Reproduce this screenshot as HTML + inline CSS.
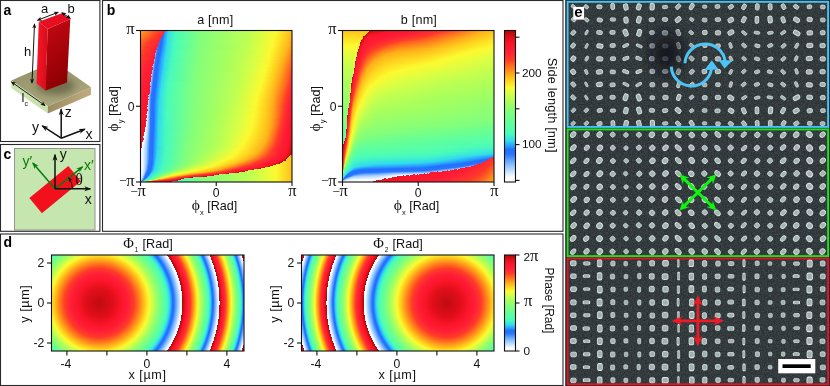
<!DOCTYPE html>
<html><head><meta charset="utf-8"><title>Figure</title>
<style>html,body{margin:0;padding:0;background:#fff;}body{position:relative;width:830px;height:386px;overflow:hidden}svg{position:absolute;left:0;top:0;display:block}.hm{position:absolute}.hm i{display:block;height:1px}</style></head>
<body>
<div class="hm" style="left:140px;top:30px;width:152px;height:152px"><i style="background:linear-gradient(90deg,#ffa91a 0.5px,#ff3f27 19.5px,#ff302e 24.5px,#279dff 25.5px,#32ddea 28.5px,#45f8c1 34.5px,#55ffaa 41.5px,#83ff7b 62.5px,#c1ff50 111.5px,#fbfa31 135.5px,#ffbf1c 151.5px)"></i><i style="background:linear-gradient(90deg,#ffa71a 0.5px,#ff3e28 19.5px,#ff302e 24.5px,#28a0ff 25.5px,#33ddea 28.5px,#45f9c0 34.5px,#55ffaa 41.5px,#83ff7b 62.5px,#c0ff50 110.5px,#fbfa30 135.5px,#ffbd1c 151.5px)"></i><i style="background:linear-gradient(90deg,#ff9d19 0.5px,#ff3f27 17.5px,#ff2e2f 23.5px,#268bff 24.5px,#28a3ff 25.5px,#33dde9 28.5px,#45f9c0 34.5px,#55ffaa 41.5px,#83ff7a 62.5px,#c0ff50 110.5px,#fcfa30 135.5px,#ffbc1c 151.5px)"></i><i style="background:linear-gradient(90deg,#ff9c1a 0.5px,#ff3e28 17.5px,#ff2d2f 23.5px,#268eff 24.5px,#30d0f0 27.5px,#33dee8 28.5px,#46f9bf 34.5px,#55ffaa 41.5px,#82ff7b 61.5px,#c0ff50 110.5px,#fafa31 134.5px,#ffba1b 151.5px)"></i><i style="background:linear-gradient(90deg,#ff931a 0.5px,#ff3b28 16.5px,#ff2c30 22.5px,#247aff 23.5px,#29a9fe 25.5px,#30d2ef 27.5px,#34dee8 28.5px,#46fabe 34.5px,#55ffa9 41.5px,#83ff7b 61.5px,#c1ff50 110.5px,#fbfa31 134.5px,#ffb81b 151.5px)"></i><i style="background:linear-gradient(90deg,#ff8e1b 0.5px,#ff3c28 15.5px,#ff2a31 22.5px,#247dff 23.5px,#29abfd 25.5px,#31d4ee 27.5px,#34dfe7 28.5px,#46fabe 34.5px,#56ffa9 41.5px,#83ff7b 61.5px,#bfff50 109.5px,#fbfa30 134.5px,#ffb61b 151.5px)"></i><i style="background:linear-gradient(90deg,#ff8a1b 0.5px,#ff3d28 14.5px,#ff2b31 21.5px,#236eff 22.5px,#2798ff 24.5px,#31d6ed 27.5px,#34dfe6 28.5px,#46fabe 34.5px,#56ffa9 41.5px,#83ff7b 61.5px,#c0ff50 109.5px,#fcfa30 134.5px,#ffb51b 151.5px)"></i><i style="background:linear-gradient(90deg,#ff831c 0.5px,#ff3c28 13.5px,#ff2832 21.5px,#236eff 22.5px,#279bff 24.5px,#31d8ec 27.5px,#34e0e6 28.5px,#46fabd 34.5px,#56ffa9 41.5px,#83ff7a 61.5px,#c0ff50 109.5px,#fafa31 133.5px,#ffd31e 144.5px,#ffb31b 151.5px)"></i><i style="background:linear-gradient(90deg,#ff7d1d 0.5px,#ff3b28 12.5px,#ff2732 20.5px,#2570ff 21.5px,#2370ff 22.5px,#279eff 24.5px,#32daec 27.5px,#35e0e5 28.5px,#47fabd 34.5px,#56ffa8 41.5px,#82ff7b 60.5px,#c0ff50 109.5px,#fbfa31 133.5px,#ffd21e 144.5px,#ffb11b 151.5px)"></i><i style="background:linear-gradient(90deg,#ff771d 0.5px,#ff3b28 11.5px,#ff2732 19.5px,#2671ff 20.5px,#2373ff 22.5px,#28a1ff 24.5px,#32dceb 27.5px,#47fabd 34.5px,#56ffa8 41.5px,#83ff7b 60.5px,#c1ff50 109.5px,#fbfa30 133.5px,#ffd41f 143.5px,#ffae1a 151.5px)"></i><i style="background:linear-gradient(90deg,#ff721e 0.5px,#ff3b28 10.5px,#ff2534 19.5px,#2671ff 20.5px,#2477ff 22.5px,#28a4ff 24.5px,#32dcea 27.5px,#47fabc 34.5px,#57ffa8 41.5px,#83ff7b 60.5px,#c0ff50 108.5px,#fcfa30 133.5px,#ffd31e 143.5px,#ffab1a 151.5px)"></i><i style="background:linear-gradient(90deg,#ff711e 0.5px,#ff3b28 10.5px,#ff2534 19.5px,#2671ff 20.5px,#246fff 21.5px,#247aff 22.5px,#2691ff 23.5px,#33ddea 27.5px,#45f8c1 33.5px,#55ffaa 40.5px,#83ff7b 60.5px,#c0ff50 108.5px,#fafa31 132.5px,#ffd21e 143.5px,#ffa81a 151.5px)"></i><i style="background:linear-gradient(90deg,#ff6b1f 0.5px,#ff3b29 9.5px,#ff2534 18.5px,#2772ff 19.5px,#246fff 21.5px,#2694ff 23.5px,#33dde9 27.5px,#45f9c0 33.5px,#55ffaa 40.5px,#83ff7b 60.5px,#c0ff50 108.5px,#fbfa31 132.5px,#ffd01e 143.5px,#ffa419 151.5px)"></i><i style="background:linear-gradient(90deg,#ff6520 0.5px,#ff3e28 7.5px,#ff2434 17.5px,#327cff 18.5px,#2772ff 19.5px,#236eff 21.5px,#2798ff 23.5px,#33dee8 27.5px,#45f9bf 33.5px,#55ffa9 40.5px,#82ff7c 59.5px,#c1ff50 108.5px,#fbfa30 132.5px,#ffce1e 143.5px,#ffb21b 149.5px,#ffa119 151.5px)"></i><i style="background:linear-gradient(90deg,#ff6520 0.5px,#ff3b29 8.5px,#ff2235 18.5px,#2772ff 19.5px,#236eff 21.5px,#279bff 23.5px,#30d3ee 26.5px,#34dee7 27.5px,#46fabf 33.5px,#56ffa9 40.5px,#82ff7b 59.5px,#bfff50 107.5px,#fcfa30 132.5px,#ffb51b 148.5px,#ff9e19 151.5px)"></i><i style="background:linear-gradient(90deg,#ff5d21 0.5px,#ff3c28 6.5px,#ff2136 17.5px,#2b76ff 18.5px,#2372ff 21.5px,#279eff 23.5px,#31d5ed 26.5px,#34dfe7 27.5px,#46fabe 33.5px,#83ff7b 59.5px,#aaff5a 93.5px,#d5ff47 117.5px,#fcf92f 132.5px,#ffb31b 148.5px,#ff9a1a 151.5px)"></i><i style="background:linear-gradient(90deg,#ff5a22 0.5px,#ff3b29 6.5px,#ff2036 17.5px,#2974ff 18.5px,#246fff 20.5px,#2476ff 21.5px,#28a1ff 23.5px,#31d7ed 26.5px,#46fabe 33.5px,#83ff7b 59.5px,#aaff5a 93.5px,#d6ff47 117.5px,#fcf82f 132.5px,#ffd31e 141.5px,#ffb11b 148.5px,#ff971a 151.5px)"></i><i style="background:linear-gradient(90deg,#ff5623 0.5px,#ff3b28 5.5px,#ff2036 16.5px,#428bff 17.5px,#2873ff 18.5px,#246fff 20.5px,#247aff 21.5px,#28a5ff 23.5px,#32d9ec 26.5px,#47fabd 33.5px,#83ff7b 59.5px,#abff5a 93.5px,#d6ff46 117.5px,#fcfa30 131.5px,#ffb41b 147.5px,#ff931a 151.5px)"></i><i style="background:linear-gradient(90deg,#ff5423 0.5px,#ff3b29 5.5px,#ff1f36 16.5px,#3a83ff 17.5px,#2772ff 18.5px,#246fff 20.5px,#2693ff 22.5px,#32dbeb 26.5px,#47fabd 33.5px,#83ff7b 59.5px,#aaff5a 92.5px,#d7ff46 117.5px,#fcfa30 131.5px,#ffb21b 147.5px,#ff901b 151.5px)"></i><i style="background:linear-gradient(90deg,#ff5024 0.5px,#ff3b28 4.5px,#ff1e37 16.5px,#327cff 17.5px,#2772ff 18.5px,#236eff 20.5px,#2797ff 22.5px,#32dcea 26.5px,#47fabc 33.5px,#82ff7c 58.5px,#aaff5a 92.5px,#d7ff46 117.5px,#fcf82f 131.5px,#ffd31f 140.5px,#ffb11b 147.5px,#ff8d1b 151.5px)"></i><i style="background:linear-gradient(90deg,#ff4d25 0.5px,#ff3d28 3.5px,#ff1f37 15.5px,#5ca1ff 16.5px,#2d77ff 17.5px,#236fff 20.5px,#29adfc 23.5px,#33ddea 26.5px,#45f8c1 32.5px,#55ffaa 39.5px,#82ff7b 58.5px,#c0ff50 106.5px,#fbfa31 130.5px,#ffd21e 140.5px,#ffb41b 146.5px,#ff891b 151.5px)"></i><i style="background:linear-gradient(90deg,#ff4826 0.5px,#ff3a29 3.5px,#ff1d36 15.5px,#549aff 16.5px,#2a75ff 17.5px,#2373ff 20.5px,#279dff 22.5px,#33dde9 26.5px,#45f9c0 32.5px,#55ffa9 39.5px,#83ff7b 58.5px,#c0ff50 106.5px,#fcfa30 130.5px,#ffb21b 146.5px,#ff861c 151.5px)"></i><i style="background:linear-gradient(90deg,#ff4526 0.5px,#ff1d36 15.5px,#4b93ff 16.5px,#2873ff 17.5px,#246fff 19.5px,#2477ff 20.5px,#28a1ff 22.5px,#33dee8 26.5px,#46f9bf 32.5px,#56ffa9 39.5px,#83ff7b 58.5px,#c1ff50 106.5px,#fafa31 129.5px,#ffd31f 139.5px,#ffb01a 146.5px,#ff831c 151.5px)"></i><i style="background:linear-gradient(90deg,#ff4327 0.5px,#ff1d36 14.5px,#7bb6ff 15.5px,#418aff 16.5px,#2873ff 17.5px,#246fff 19.5px,#28a4ff 22.5px,#31d5ee 25.5px,#34dfe7 26.5px,#46fabe 32.5px,#56ffa9 39.5px,#83ff7b 58.5px,#c0ff50 105.5px,#fbfa31 129.5px,#ffd21e 139.5px,#ffb31b 145.5px,#ff801c 151.5px)"></i><i style="background:linear-gradient(90deg,#ff4027 0.5px,#ff1d36 14.5px,#73b0ff 15.5px,#3680ff 16.5px,#2772ff 17.5px,#236eff 19.5px,#28a7fe 22.5px,#31d7ed 25.5px,#34dfe6 26.5px,#46fabe 32.5px,#56ffa8 39.5px,#83ff7b 58.5px,#c0ff50 105.5px,#fcfa30 129.5px,#ffb21b 145.5px,#ff7c1d 151.5px)"></i><i style="background:linear-gradient(90deg,#ff3d28 0.5px,#fe1c35 14.5px,#69aaff 15.5px,#2d78ff 16.5px,#236eff 19.5px,#29aafd 22.5px,#32daec 25.5px,#47fabd 32.5px,#57ffa8 39.5px,#83ff7b 58.5px,#c0ff50 105.5px,#fcfa30 129.5px,#ffd31f 138.5px,#ffaf1a 145.5px,#ff791d 151.5px)"></i><i style="background:linear-gradient(90deg,#ff3b28 0.5px,#fe1c34 14.5px,#5da2ff 15.5px,#2a75ff 16.5px,#2373ff 19.5px,#29adfc 22.5px,#32dceb 25.5px,#47fabc 32.5px,#55ffaa 38.5px,#82ff7c 57.5px,#c1ff50 105.5px,#fafa31 128.5px,#ffd21e 138.5px,#ffb31b 144.5px,#ff761d 151.5px)"></i><i style="background:linear-gradient(90deg,#ff3e28 0.5px,#fe1d35 14.5px,#5299ff 15.5px,#2873ff 16.5px,#246fff 18.5px,#2478ff 19.5px,#28a0ff 21.5px,#32ddea 25.5px,#48fbbc 32.5px,#82ff7b 57.5px,#abff5a 91.5px,#d5ff47 114.5px,#fcf72f 129.5px,#ffb11b 144.5px,#ff731e 151.5px)"></i><i style="background:linear-gradient(90deg,#ff3c28 0.5px,#fe1c34 14.5px,#468eff 15.5px,#2873ff 16.5px,#246fff 18.5px,#28a3ff 21.5px,#33dde9 25.5px,#45f9bf 31.5px,#56ffa9 38.5px,#83ff7b 57.5px,#c0ff50 104.5px,#fcfa30 128.5px,#ffd31f 137.5px,#ffaf1a 144.5px,#ff701e 151.5px)"></i><i style="background:linear-gradient(90deg,#ff382a 0.5px,#fe1c34 13.5px,#87beff 14.5px,#3a83ff 15.5px,#2772ff 16.5px,#236eff 18.5px,#28a5ff 21.5px,#33dee8 25.5px,#46fabe 31.5px,#83ff7b 57.5px,#aaff5a 90.5px,#d6ff46 114.5px,#fcf92f 128.5px,#ffd21e 137.5px,#ffb31b 143.5px,#ff6d1e 151.5px)"></i><i style="background:linear-gradient(90deg,#ff372b 0.5px,#ff1e37 10.5px,#fe1b33 13.5px,#7bb6ff 14.5px,#2f79ff 15.5px,#236eff 18.5px,#28a8fe 21.5px,#31d5ee 24.5px,#46fabd 31.5px,#83ff7b 57.5px,#aaff5a 90.5px,#d7ff46 114.5px,#fcf82f 128.5px,#ffb11b 143.5px,#ff6a1f 151.5px)"></i><i style="background:linear-gradient(90deg,#ff362b 0.5px,#ff1e37 10.5px,#fe1b33 13.5px,#6eaeff 14.5px,#2c77ff 15.5px,#2370ff 18.5px,#29aafd 21.5px,#31d7ed 24.5px,#47fabd 31.5px,#83ff7b 57.5px,#abff5a 90.5px,#d5ff47 113.5px,#fcf62e 128.5px,#ffaf1a 143.5px,#ff671f 151.5px)"></i><i style="background:linear-gradient(90deg,#ff372b 0.5px,#ff1e37 10.5px,#fe1b33 13.5px,#62a5ff 14.5px,#2a75ff 15.5px,#2373ff 18.5px,#29acfd 21.5px,#31d9ec 24.5px,#47fabc 31.5px,#83ff7b 57.5px,#abff5a 90.5px,#d6ff47 113.5px,#fcf930 127.5px,#ffd21e 136.5px,#ffb31b 142.5px,#ff6420 151.5px)"></i><i style="background:linear-gradient(90deg,#ff352b 0.5px,#ff1e37 10.5px,#fe1b33 13.5px,#579dff 14.5px,#2974ff 15.5px,#246fff 17.5px,#2476ff 18.5px,#2aaefc 21.5px,#32dbeb 24.5px,#48fbbc 31.5px,#82ff7c 56.5px,#aaff5a 89.5px,#d6ff46 113.5px,#fcf82f 127.5px,#ffb11b 142.5px,#ff6121 151.5px)"></i><i style="background:linear-gradient(90deg,#ff322d 0.5px,#ff1f37 8.5px,#fd1b32 12.5px,#93c6ff 13.5px,#4d94ff 14.5px,#2873ff 15.5px,#246fff 17.5px,#2479ff 18.5px,#28a0ff 20.5px,#32dceb 24.5px,#48fbbb 31.5px,#82ff7c 56.5px,#aaff5a 89.5px,#d7ff46 113.5px,#fcf72f 127.5px,#ffaf1a 142.5px,#ff5e21 151.5px)"></i><i style="background:linear-gradient(90deg,#ff322d 0.5px,#ff1f36 8.5px,#fe1b33 12.5px,#86bdff 13.5px,#448cff 14.5px,#2873ff 15.5px,#246fff 17.5px,#28a2ff 20.5px,#33ddea 24.5px,#46fabe 30.5px,#82ff7b 56.5px,#aaff5a 89.5px,#d8ff46 113.5px,#fcfa30 126.5px,#ffd31e 135.5px,#ffb31b 141.5px,#ff5c22 151.5px)"></i><i style="background:linear-gradient(90deg,#ff2f2f 0.5px,#ff1f36 7.5px,#fe1b33 11.5px,#afd6ff 12.5px,#7bb6ff 13.5px,#3c85ff 14.5px,#2772ff 15.5px,#246fff 17.5px,#28a4ff 20.5px,#33dde9 24.5px,#46fabd 30.5px,#83ff7b 56.5px,#abff5a 89.5px,#d6ff46 112.5px,#fcf930 126.5px,#ffd11e 135.5px,#ffb11b 141.5px,#ff5922 151.5px)"></i><i style="background:linear-gradient(90deg,#ff2f2f 0.5px,#ff1e37 8.5px,#fd1b32 12.5px,#71afff 13.5px,#357eff 14.5px,#2772ff 15.5px,#236eff 17.5px,#28a6ff 20.5px,#30d3ee 23.5px,#33dee8 24.5px,#47fabd 30.5px,#83ff7b 56.5px,#abff5a 89.5px,#d6ff46 112.5px,#fcf82f 126.5px,#ffaf1a 141.5px,#ff5623 151.5px)"></i><i style="background:linear-gradient(90deg,#ff2e2f 0.5px,#ff1f37 7.5px,#fd1a32 12.5px,#68a9ff 13.5px,#2e79ff 14.5px,#236eff 17.5px,#29a8fe 20.5px,#31d5ed 23.5px,#47fabc 30.5px,#83ff7b 56.5px,#aaff5a 88.5px,#d7ff46 112.5px,#fbfa30 125.5px,#ffd31e 134.5px,#ffad1a 141.5px,#ff5124 151.5px)"></i><i style="background:linear-gradient(90deg,#ff2d2f 0.5px,#ff1f37 7.5px,#fd1a32 12.5px,#60a4ff 13.5px,#2d77ff 14.5px,#236fff 17.5px,#29aafd 20.5px,#31d8ed 23.5px,#48fbbc 30.5px,#83ff7b 56.5px,#aaff5a 88.5px,#d8ff46 112.5px,#fcfa30 125.5px,#ffd21e 134.5px,#ffaa1a 141.5px,#ff4d25 151.5px)"></i><i style="background:linear-gradient(90deg,#ff2a31 0.5px,#ff1e37 6.5px,#fd1a31 11.5px,#93c6ff 12.5px,#589eff 13.5px,#2b76ff 14.5px,#2372ff 17.5px,#29acfd 20.5px,#32daec 23.5px,#48fbbb 30.5px,#83ff7b 56.5px,#aaff5a 88.5px,#d8ff45 112.5px,#fcf92f 125.5px,#ffd51f 133.5px,#ffb01a 140.5px,#ff5922 150.5px,#ff4925 151.5px)"></i><i style="background:linear-gradient(90deg,#ff2a31 0.5px,#ff1e37 6.5px,#fd1b32 11.5px,#8bc1ff 12.5px,#5298ff 13.5px,#2974ff 14.5px,#2474ff 17.5px,#2aaefc 20.5px,#32dceb 23.5px,#46fabf 29.5px,#83ff7b 56.5px,#abff5a 88.5px,#d9ff45 112.5px,#fbfa31 124.5px,#ffd41f 133.5px,#ffae1a 140.5px,#ff6021 149.5px,#ff4626 151.5px)"></i><i style="background:linear-gradient(90deg,#ff2932 0.5px,#ff1e37 6.5px,#fd1a32 11.5px,#83bcff 12.5px,#4b93ff 13.5px,#2873ff 14.5px,#246fff 16.5px,#2477ff 17.5px,#279fff 19.5px,#33ddea 23.5px,#46fabe 29.5px,#82ff7c 55.5px,#c0ff50 101.5px,#fcfa30 124.5px,#ffd21e 133.5px,#ffb21b 139.5px,#ff5e21 149.5px,#ff4227 151.5px)"></i><i style="background:linear-gradient(90deg,#ff2832 0.5px,#fd1a31 11.5px,#7cb7ff 12.5px,#458dff 13.5px,#2873ff 14.5px,#246fff 16.5px,#2479ff 17.5px,#28a2ff 19.5px,#33dee8 23.5px,#47fabd 29.5px,#82ff7c 55.5px,#c1ff50 101.5px,#f9fa32 123.5px,#ffd11e 133.5px,#ffb11b 139.5px,#ff5c22 149.5px,#ff3e28 151.5px)"></i><i style="background:linear-gradient(90deg,#ff2533 0.5px,#fd1a31 10.5px,#a9d2ff 11.5px,#4088ff 13.5px,#2873ff 14.5px,#246fff 16.5px,#28a4ff 19.5px,#31d4ee 22.5px,#47fabc 29.5px,#82ff7c 55.5px,#c0ff50 100.5px,#fafa31 123.5px,#ffd41f 132.5px,#ffae1a 139.5px,#ff5922 149.5px,#ff3b28 151.5px)"></i><i style="background:linear-gradient(90deg,#ff2533 0.5px,#fd1a31 10.5px,#a4d0ff 11.5px,#3a83ff 13.5px,#2772ff 14.5px,#246fff 16.5px,#28a6ff 19.5px,#31d7ed 22.5px,#48fbbc 29.5px,#82ff7b 55.5px,#c0ff50 100.5px,#fbfa31 123.5px,#ffd31f 132.5px,#ffac1a 139.5px,#ff5723 149.5px,#ff3a29 151.5px)"></i><i style="background:linear-gradient(90deg,#ff2633 0.5px,#fd1a30 11.5px,#68a9ff 12.5px,#357eff 13.5px,#2772ff 14.5px,#236eff 16.5px,#29a8fe 19.5px,#32daec 22.5px,#48fbbb 29.5px,#83ff7b 55.5px,#c0ff50 100.5px,#fcfa30 123.5px,#ffd21e 132.5px,#ffb11b 138.5px,#ff5e21 148.5px,#ff382a 151.5px)"></i><i style="background:linear-gradient(90deg,#ff2434 0.5px,#fd1a30 10.5px,#97c9ff 11.5px,#2f7aff 13.5px,#236eff 16.5px,#29aafd 19.5px,#32dceb 22.5px,#46fabf 28.5px,#83ff7b 55.5px,#c1ff50 100.5px,#fafa31 122.5px,#ffd01e 132.5px,#ffb01a 138.5px,#ff5c22 148.5px,#ff372b 151.5px)"></i><i style="background:linear-gradient(90deg,#ff2434 0.5px,#fd1a31 10.5px,#91c4ff 11.5px,#2d78ff 13.5px,#236eff 16.5px,#29acfc 19.5px,#33ddea 22.5px,#46fabe 28.5px,#83ff7b 55.5px,#bfff50 99.5px,#fafa31 122.5px,#ffd41f 131.5px,#ffad1a 138.5px,#ff5a22 148.5px,#ff362b 151.5px)"></i><i style="background:linear-gradient(90deg,#ff2335 0.5px,#fd1930 10.5px,#8ac0ff 11.5px,#569cff 12.5px,#2c76ff 13.5px,#2371ff 16.5px,#2aaffb 19.5px,#33dee8 22.5px,#47fabd 28.5px,#83ff7b 55.5px,#c0ff50 99.5px,#fbfa31 122.5px,#ffd31e 131.5px,#ffb21b 137.5px,#ff5822 148.5px,#ff3b29 150.5px,#ff342c 151.5px)"></i><i style="background:linear-gradient(90deg,#ff2335 0.5px,#fd1930 10.5px,#84bcff 11.5px,#5097ff 12.5px,#2a75ff 13.5px,#2474ff 16.5px,#279fff 18.5px,#30d3ee 21.5px,#34dee7 22.5px,#47fabc 28.5px,#83ff7b 55.5px,#c0ff50 99.5px,#fcfa30 122.5px,#ffd11e 131.5px,#ffb11b 137.5px,#ff5f21 147.5px,#ff332d 151.5px)"></i><i style="background:linear-gradient(90deg,#ff2135 0.5px,#fc192f 10.5px,#7eb8ff 11.5px,#4a92ff 12.5px,#2873ff 13.5px,#246fff 15.5px,#2476ff 16.5px,#28a1ff 18.5px,#31d6ed 21.5px,#48fbbc 28.5px,#83ff7b 55.5px,#c1ff50 99.5px,#fafa31 121.5px,#ffd01e 131.5px,#ffaf1a 137.5px,#ff5d21 147.5px,#ff312d 151.5px)"></i><i style="background:linear-gradient(90deg,#ff2036 0.5px,#fc192f 9.5px,#a9d2ff 10.5px,#448cff 12.5px,#2873ff 13.5px,#246fff 15.5px,#2479ff 16.5px,#28a4ff 18.5px,#31d9ec 21.5px,#35e0e5 22.5px,#45f9c0 27.5px,#55ffaa 34.5px,#83ff7b 55.5px,#bfff50 98.5px,#fbfa31 121.5px,#ffd31f 130.5px,#ffad1a 137.5px,#ff6c1e 145.5px,#ff5a22 147.5px,#ff3f27 149.5px,#ff302e 151.5px)"></i><i style="background:linear-gradient(90deg,#ff1f36 0.5px,#fc192f 9.5px,#a4d0ff 10.5px,#3e87ff 12.5px,#2873ff 13.5px,#246fff 15.5px,#247cff 16.5px,#28a6fe 18.5px,#32dbeb 21.5px,#46fabf 27.5px,#55ffaa 34.5px,#83ff7b 55.5px,#c0ff50 98.5px,#fbfa30 121.5px,#ffd21e 130.5px,#ffb21b 136.5px,#ff6a1f 145.5px,#ff5822 147.5px,#ff3c28 149.5px,#ff2e2f 151.5px)"></i><i style="background:linear-gradient(90deg,#ff1f37 0.5px,#fc192f 9.5px,#9eccff 10.5px,#3881ff 12.5px,#2772ff 13.5px,#246fff 15.5px,#29a9fe 18.5px,#32dcea 21.5px,#46fabe 27.5px,#56ffa9 34.5px,#83ff7a 55.5px,#c0ff50 98.5px,#fcfa30 121.5px,#ffd11e 130.5px,#ffb01a 136.5px,#ff701e 144.5px,#ff3a29 149.5px,#ff2d30 151.5px)"></i><i style="background:linear-gradient(90deg,#ff1e37 0.5px,#fc192f 9.5px,#97c9ff 10.5px,#317cff 12.5px,#2772ff 13.5px,#236eff 15.5px,#29abfd 18.5px,#33dde9 21.5px,#47fabd 27.5px,#56ffa9 34.5px,#83ff7a 55.5px,#c1ff50 98.5px,#fafa31 120.5px,#ffd41f 129.5px,#ffae1a 136.5px,#ff6e1e 144.5px,#ff382a 149.5px,#ff2b30 151.5px)"></i><i style="background:linear-gradient(90deg,#ff1f36 0.5px,#fc182e 10.5px,#5ca1ff 11.5px,#2d78ff 12.5px,#236eff 15.5px,#2aadfc 18.5px,#33dee8 21.5px,#47fabd 27.5px,#56ffa9 34.5px,#82ff7c 54.5px,#bfff50 97.5px,#fbfa30 120.5px,#ffd31e 129.5px,#ffac1a 136.5px,#ff6b1f 144.5px,#ff3e28 148.5px,#ff2a31 151.5px)"></i><i style="background:linear-gradient(90deg,#ff1e37 0.5px,#fc182f 9.5px,#8ac0ff 10.5px,#2c76ff 12.5px,#2772ff 13.5px,#2371ff 15.5px,#2ab0fb 18.5px,#34dfe7 21.5px,#47fabc 27.5px,#56ffa8 34.5px,#82ff7c 54.5px,#c0ff50 97.5px,#fcfa30 120.5px,#ffd11e 129.5px,#ffb11b 135.5px,#ff691f 144.5px,#ff3b28 148.5px,#ff2932 151.5px)"></i><i style="background:linear-gradient(90deg,#ff1e37 0.5px,#fc182f 9.5px,#83bbff 10.5px,#5097ff 11.5px,#2a75ff 12.5px,#2570ff 14.5px,#2474ff 15.5px,#2ab2fa 18.5px,#31d6ed 20.5px,#34dfe6 21.5px,#48fbbc 27.5px,#57ffa8 34.5px,#82ff7b 54.5px,#c0ff50 97.5px,#fafa31 119.5px,#ffd51f 128.5px,#ffb01a 135.5px,#ff6f1e 143.5px,#ff3a29 148.5px,#ff2732 151.5px)"></i><i style="background:linear-gradient(90deg,#ff1e36 0.5px,#fc182e 9.5px,#7db7ff 10.5px,#4a91ff 11.5px,#2873ff 12.5px,#246fff 14.5px,#2476ff 15.5px,#28a2ff 17.5px,#31d8ec 20.5px,#35e0e5 21.5px,#45f9c0 26.5px,#55ffaa 33.5px,#82ff7b 54.5px,#c1ff50 97.5px,#fbfa30 119.5px,#ffd31f 128.5px,#ffae1a 135.5px,#ff6c1e 143.5px,#ff4127 147.5px,#ff2633 151.5px)"></i><i style="background:linear-gradient(90deg,#ff1d36 0.5px,#fc182e 9.5px,#76b3ff 10.5px,#448cff 11.5px,#2873ff 12.5px,#246fff 14.5px,#2479ff 15.5px,#28a4ff 17.5px,#32daec 20.5px,#46f9bf 26.5px,#55ffaa 33.5px,#83ff7b 54.5px,#bfff50 96.5px,#fcf930 119.5px,#ffd21e 128.5px,#ffb21b 134.5px,#ff5723 145.5px,#ff3d28 147.5px,#ff2534 151.5px)"></i><i style="background:linear-gradient(90deg,#ff1d36 0.5px,#fc182e 9.5px,#70afff 10.5px,#3e87ff 11.5px,#2873ff 12.5px,#246fff 14.5px,#247cff 15.5px,#28a7fe 17.5px,#32dceb 20.5px,#46fabe 26.5px,#55ffaa 33.5px,#83ff7b 54.5px,#c0ff50 96.5px,#fbfa31 118.5px,#ffd01e 128.5px,#ffb11b 134.5px,#ff5e21 144.5px,#ff3b29 147.5px,#ff2334 151.5px)"></i><i style="background:linear-gradient(90deg,#ff1d36 0.5px,#fc182e 9.5px,#6aabff 10.5px,#3982ff 11.5px,#2772ff 12.5px,#246fff 14.5px,#29a9fe 17.5px,#32dcea 20.5px,#46fabe 26.5px,#55ffa9 33.5px,#83ff7b 54.5px,#c0ff50 96.5px,#fcfa30 118.5px,#ffd41f 127.5px,#ffaf1a 134.5px,#ff5b22 144.5px,#ff3929 147.5px,#ff2235 151.5px)"></i><i style="background:linear-gradient(90deg,#fe1d35 0.5px,#fc172d 9.5px,#64a7ff 10.5px,#337dff 11.5px,#2772ff 12.5px,#236eff 14.5px,#29abfd 17.5px,#33ddea 20.5px,#46fabd 26.5px,#56ffa9 33.5px,#83ff7b 54.5px,#bfff51 95.5px,#fcf92f 118.5px,#ffd21e 127.5px,#ffad1a 134.5px,#ff5822 144.5px,#ff3f27 146.5px,#ff2135 151.5px)"></i><i style="background:linear-gradient(90deg,#fe1d35 0.5px,#fc182e 8.5px,#94c6ff 9.5px,#2e78ff 11.5px,#2772ff 12.5px,#236eff 14.5px,#29adfc 17.5px,#33dde9 20.5px,#47fabd 26.5px,#56ffa9 33.5px,#83ff7b 54.5px,#c0ff50 95.5px,#fbfa31 117.5px,#ffd11e 127.5px,#ffb21b 133.5px,#ff5f21 143.5px,#ff3c28 146.5px,#ff2036 151.5px)"></i><i style="background:linear-gradient(90deg,#fe1c34 0.5px,#fc182e 7.5px,#c6e2ff 8.5px,#599fff 10.5px,#2c77ff 11.5px,#2772ff 12.5px,#2370ff 14.5px,#2aaefc 17.5px,#33dee8 20.5px,#47fabd 26.5px,#56ffa9 33.5px,#83ff7b 54.5px,#c0ff50 95.5px,#fcfa30 117.5px,#ffb11b 133.5px,#ff6520 142.5px,#ff3a29 146.5px,#ff1f37 151.5px)"></i><i style="background:linear-gradient(90deg,#fe1c34 0.5px,#fc172d 8.5px,#8ac0ff 9.5px,#549aff 10.5px,#2b75ff 11.5px,#2772ff 12.5px,#2373ff 14.5px,#279eff 16.5px,#34dee8 20.5px,#47fabd 26.5px,#56ffa9 33.5px,#83ff7b 54.5px,#c1ff50 95.5px,#fcf92f 117.5px,#ffd31f 126.5px,#ffb01a 133.5px,#ff6c1e 141.5px,#ff392a 146.5px,#ff1e37 151.5px)"></i><i style="background:linear-gradient(90deg,#fe1b33 0.5px,#fc172d 7.5px,#bedeff 8.5px,#4f96ff 10.5px,#2974ff 11.5px,#246fff 13.5px,#2475ff 14.5px,#28a0ff 16.5px,#31d4ee 19.5px,#34dfe7 20.5px,#47fabc 26.5px,#56ffa9 33.5px,#83ff7b 54.5px,#bfff51 94.5px,#fbfa31 116.5px,#ffd21e 126.5px,#ffaf1a 133.5px,#ff6121 142.5px,#ff3f27 145.5px,#ff1e36 151.5px)"></i><i style="background:linear-gradient(90deg,#fe1c33 0.5px,#fc172d 7.5px,#bbdcff 8.5px,#4b92ff 10.5px,#2873ff 11.5px,#246fff 13.5px,#2477ff 14.5px,#2bb3fa 17.5px,#31d5ed 19.5px,#34dfe6 20.5px,#47fabc 26.5px,#56ffa9 33.5px,#83ff7a 54.5px,#c0ff50 94.5px,#fcfa30 116.5px,#ffd11e 126.5px,#ffad1a 133.5px,#ff5e21 142.5px,#ff3c28 145.5px,#ff1d36 151.5px)"></i><i style="background:linear-gradient(90deg,#fe1c33 0.5px,#fb172c 8.5px,#7eb8ff 9.5px,#478fff 10.5px,#2873ff 11.5px,#246fff 13.5px,#2478ff 14.5px,#28a3ff 16.5px,#31d7ed 19.5px,#34dfe6 20.5px,#47fabc 26.5px,#56ffa9 33.5px,#82ff7c 53.5px,#c0ff50 94.5px,#fcfa30 116.5px,#ffb31b 132.5px,#ff6f1e 140.5px,#ff3b29 145.5px,#fe1d35 151.5px)"></i><i style="background:linear-gradient(90deg,#fd1b32 0.5px,#fb172c 7.5px,#b5d9ff 8.5px,#458dff 10.5px,#2873ff 11.5px,#246fff 13.5px,#247aff 14.5px,#28a4ff 16.5px,#31d8ec 19.5px,#34e0e6 20.5px,#47fabc 26.5px,#56ffa8 33.5px,#82ff7c 53.5px,#c1ff50 94.5px,#fcf92f 116.5px,#ffb21b 132.5px,#ff6d1e 140.5px,#ff3a29 145.5px,#fe1c34 151.5px)"></i><i style="background:linear-gradient(90deg,#fd1b32 0.5px,#fb172c 7.5px,#b3d8ff 8.5px,#438bff 10.5px,#2873ff 11.5px,#246fff 13.5px,#247aff 14.5px,#28a5ff 16.5px,#31d9ec 19.5px,#35e0e5 20.5px,#47fabc 26.5px,#56ffa8 33.5px,#82ff7b 53.5px,#bfff51 93.5px,#fbfa31 115.5px,#ffd31e 125.5px,#ffb11b 132.5px,#ff6c1e 140.5px,#ff392a 145.5px,#fe1c34 151.5px)"></i><i style="background:linear-gradient(90deg,#fd1b32 0.5px,#fb162c 7.5px,#b1d7ff 8.5px,#4189ff 10.5px,#2873ff 11.5px,#246fff 13.5px,#247bff 14.5px,#28a6ff 16.5px,#32daec 19.5px,#47fabc 26.5px,#56ffa8 33.5px,#82ff7b 53.5px,#c0ff50 93.5px,#fbfa30 115.5px,#ffd21e 125.5px,#ffb11b 132.5px,#ff6a1f 140.5px,#ff3e28 144.5px,#ff2235 149.5px,#fe1b33 151.5px)"></i><i style="background:linear-gradient(90deg,#fd1a32 0.5px,#fb162b 7.5px,#afd6ff 8.5px,#3f88ff 10.5px,#2873ff 11.5px,#246fff 13.5px,#247cff 14.5px,#28a6fe 16.5px,#32dbeb 19.5px,#47fabc 26.5px,#56ffa8 33.5px,#83ff7b 53.5px,#c0ff50 93.5px,#fcfa30 115.5px,#ffd21e 125.5px,#ffb01a 132.5px,#ff5f21 141.5px,#ff3c28 144.5px,#ff2136 149.5px,#fe1b33 151.5px)"></i><i style="background:linear-gradient(90deg,#fd1b32 0.5px,#fb162c 7.5px,#aed5ff 8.5px,#3e86ff 10.5px,#2873ff 11.5px,#246fff 13.5px,#28a7fe 16.5px,#32dceb 19.5px,#47fabc 26.5px,#56ffa8 33.5px,#83ff7b 53.5px,#bfff51 92.5px,#fcfa30 115.5px,#ffd11e 125.5px,#ffaf1a 132.5px,#ff671f 140.5px,#ff3b28 144.5px,#ff2036 149.5px,#fd1b32 151.5px)"></i><i style="background:linear-gradient(90deg,#fd1a31 0.5px,#fb162c 6.5px,#ecf6ff 7.5px,#73b1ff 9.5px,#3c85ff 10.5px,#2772ff 11.5px,#246fff 13.5px,#29a8fe 16.5px,#32dcea 19.5px,#47fabc 26.5px,#56ffa8 33.5px,#83ff7b 53.5px,#c0ff50 92.5px,#fcf930 115.5px,#ffd11e 125.5px,#ffae1a 132.5px,#ff3a29 144.5px,#ff1f37 149.5px,#fd1a31 151.5px)"></i><i style="background:linear-gradient(90deg,#fd1a31 0.5px,#fb162b 7.5px,#abd3ff 8.5px,#3b84ff 10.5px,#2772ff 11.5px,#246fff 13.5px,#29a9fe 16.5px,#32ddea 19.5px,#48fbbc 26.5px,#83ff7b 53.5px,#aaff5a 80.5px,#d5ff47 101.5px,#fcf82f 115.5px,#ffd01e 125.5px,#ffad1a 132.5px,#ff3929 144.5px,#ff1e37 149.5px,#fd1a31 151.5px)"></i><i style="background:linear-gradient(90deg,#fd1a31 0.5px,#fb162b 6.5px,#e8f4ff 7.5px,#70afff 9.5px,#3983ff 10.5px,#2772ff 11.5px,#246fff 13.5px,#29a9fd 16.5px,#33ddea 19.5px,#48fbbc 26.5px,#83ff7b 53.5px,#aaff5a 80.5px,#d6ff47 101.5px,#fbfa31 114.5px,#ffcf1e 125.5px,#ffac1a 132.5px,#ff392a 144.5px,#ff1d36 149.5px,#fd1930 151.5px)"></i><i style="background:linear-gradient(90deg,#fd1a30 0.5px,#fb162b 6.5px,#e7f3ff 7.5px,#6faeff 9.5px,#3882ff 10.5px,#2772ff 11.5px,#246fff 13.5px,#29aafd 16.5px,#33dde9 19.5px,#48fbbc 26.5px,#83ff7b 53.5px,#aaff5a 80.5px,#d6ff46 101.5px,#fbfa30 114.5px,#ffcf1e 125.5px,#ffac1a 132.5px,#ff382a 144.5px,#ff2135 148.5px,#fc192f 151.5px)"></i><i style="background:linear-gradient(90deg,#fd1a30 0.5px,#fb152a 7.5px,#a7d1ff 8.5px,#3781ff 10.5px,#2772ff 11.5px,#246fff 13.5px,#29aafd 16.5px,#33dde9 19.5px,#48fbbc 26.5px,#83ff7b 53.5px,#abff5a 80.5px,#d7ff46 101.5px,#fcfa30 114.5px,#ffce1e 125.5px,#ffab1a 132.5px,#ff6121 140.5px,#ff3d28 143.5px,#ff2036 148.5px,#fc182f 151.5px)"></i><i style="background:linear-gradient(90deg,#fd1930 0.5px,#fb152a 7.5px,#a6d0ff 8.5px,#3680ff 10.5px,#2772ff 11.5px,#236eff 13.5px,#29abfd 16.5px,#33dee9 19.5px,#48fbbc 26.5px,#83ff7b 53.5px,#a9ff5a 79.5px,#d5ff47 100.5px,#fcfa30 114.5px,#ffd31e 124.5px,#ffaa1a 132.5px,#ff5f21 140.5px,#ff3c28 143.5px,#ff1f36 148.5px,#fc182e 151.5px)"></i><i style="background:linear-gradient(90deg,#fc192f 0.5px,#fa1529 6.5px,#e1f0ff 7.5px,#6cacff 9.5px,#357fff 10.5px,#2772ff 11.5px,#236eff 13.5px,#29acfd 16.5px,#33dee8 19.5px,#48fbbc 26.5px,#83ff7a 53.5px,#aaff5a 79.5px,#d6ff47 100.5px,#fcf930 114.5px,#ffd21e 124.5px,#ffa91a 132.5px,#ff5e21 140.5px,#ff3b29 143.5px,#ff1e37 148.5px,#fc182d 151.5px)"></i><i style="background:linear-gradient(90deg,#fc192f 0.5px,#fb152a 6.5px,#dfefff 7.5px,#6babff 9.5px,#347eff 10.5px,#2772ff 11.5px,#236eff 13.5px,#29acfc 16.5px,#33dee8 19.5px,#48fbbc 26.5px,#82ff7c 52.5px,#aaff5a 79.5px,#d6ff46 100.5px,#fcf92f 114.5px,#ffd21e 124.5px,#ffb11b 131.5px,#ff671f 139.5px,#ff3a29 143.5px,#ff1e36 148.5px,#fc172d 151.5px)"></i><i style="background:linear-gradient(90deg,#fc182e 0.5px,#fa1529 6.5px,#ddeeff 7.5px,#6aabff 9.5px,#337dff 10.5px,#2772ff 11.5px,#236eff 13.5px,#29adfc 16.5px,#30d3ee 18.5px,#34dee8 19.5px,#48fbbc 26.5px,#82ff7c 52.5px,#abff5a 79.5px,#d7ff46 100.5px,#fcf82f 114.5px,#ffd11e 124.5px,#ffb01b 131.5px,#ff701e 138.5px,#ff3929 143.5px,#ff1d36 148.5px,#fb172c 151.5px)"></i><i style="background:linear-gradient(90deg,#fc182e 0.5px,#fa1529 5.5px,#fcfdff 6.5px,#dbedff 7.5px,#69aaff 9.5px,#327cff 10.5px,#2772ff 11.5px,#236eff 13.5px,#2aadfc 16.5px,#31d4ee 18.5px,#34dfe7 19.5px,#48fbbc 26.5px,#82ff7c 52.5px,#a9ff5a 78.5px,#d5ff47 99.5px,#fbfa31 113.5px,#ffd11e 124.5px,#ffb01a 131.5px,#ff6f1e 138.5px,#ff382a 143.5px,#ff2136 147.5px,#fb162b 151.5px)"></i><i style="background:linear-gradient(90deg,#fc182e 0.5px,#fa1428 6.5px,#d9ecff 7.5px,#68a9ff 9.5px,#317bff 10.5px,#2772ff 11.5px,#236eff 13.5px,#2aaefc 16.5px,#31d5ee 18.5px,#34dfe7 19.5px,#48fbbc 26.5px,#82ff7b 52.5px,#aaff5a 78.5px,#d6ff47 99.5px,#fbfa30 113.5px,#ffd01e 124.5px,#ffaf1a 131.5px,#ff6d1e 138.5px,#ff372a 143.5px,#ff2036 147.5px,#fb162b 151.5px)"></i><i style="background:linear-gradient(90deg,#fc182d 0.5px,#fa1428 6.5px,#d6ebff 7.5px,#67a9ff 9.5px,#307bff 10.5px,#236eff 13.5px,#2aaffb 16.5px,#31d6ed 18.5px,#48fbbc 26.5px,#82ff7b 52.5px,#aaff5a 78.5px,#d6ff46 99.5px,#fcfa30 113.5px,#ffd01e 124.5px,#ffae1a 131.5px,#ff5822 140.5px,#ff3d28 142.5px,#ff1e37 147.5px,#fb152a 151.5px)"></i><i style="background:linear-gradient(90deg,#fc182d 0.5px,#fa1428 6.5px,#d4e9ff 7.5px,#66a8ff 9.5px,#307aff 10.5px,#236eff 13.5px,#279aff 15.5px,#31d7ed 18.5px,#48fbbc 26.5px,#83ff7b 52.5px,#abff5a 78.5px,#d7ff46 99.5px,#fcfa30 113.5px,#ffcf1e 124.5px,#ffad1a 131.5px,#ff6021 139.5px,#ff3b28 142.5px,#ff1e37 147.5px,#fa1529 151.5px)"></i><i style="background:linear-gradient(90deg,#fb172c 0.5px,#fa1428 5.5px,#f9fcff 6.5px,#d2e8ff 7.5px,#9eccff 8.5px,#2f79ff 10.5px,#236eff 13.5px,#279aff 15.5px,#31d8ed 18.5px,#48fbbc 26.5px,#83ff7b 52.5px,#a9ff5b 77.5px,#d5ff47 98.5px,#fcf930 113.5px,#ffce1e 124.5px,#ffac1a 131.5px,#ff5f21 139.5px,#ff3a29 142.5px,#ff1d36 147.5px,#fa1529 151.5px)"></i><i style="background:linear-gradient(90deg,#fb162c 0.5px,#f81427 5.5px,#f8fcff 6.5px,#9dccff 8.5px,#2e78ff 10.5px,#236eff 13.5px,#279bff 15.5px,#31d8ec 18.5px,#48fbbc 26.5px,#83ff7b 52.5px,#aaff5a 77.5px,#d6ff47 98.5px,#fafa31 112.5px,#ffd21e 123.5px,#ffab1a 131.5px,#ff3929 142.5px,#fe1d35 147.5px,#fa1428 151.5px)"></i><i style="background:linear-gradient(90deg,#fb172c 0.5px,#f71326 6.5px,#cde6ff 7.5px,#9ccbff 8.5px,#2e78ff 10.5px,#236eff 13.5px,#279cff 15.5px,#32d9ec 18.5px,#48fbbc 26.5px,#83ff7b 52.5px,#aaff5a 77.5px,#d6ff46 98.5px,#fbfa31 112.5px,#ffd21e 123.5px,#ffaa1a 131.5px,#ff382a 142.5px,#ff2036 146.5px,#fa1428 151.5px)"></i><i style="background:linear-gradient(90deg,#fb162b 0.5px,#f61326 5.5px,#f7fbff 6.5px,#9acaff 8.5px,#2e78ff 10.5px,#236eff 13.5px,#279cff 15.5px,#32daec 18.5px,#48fbbc 26.5px,#83ff7b 52.5px,#abff5a 77.5px,#d7ff46 98.5px,#fcfa30 112.5px,#ffd11e 123.5px,#ffb11b 130.5px,#ff6f1e 137.5px,#ff372a 142.5px,#ff1f37 146.5px,#f91427 151.5px)"></i><i style="background:linear-gradient(90deg,#fb162b 0.5px,#f61326 5.5px,#f6faff 6.5px,#99caff 8.5px,#2d78ff 10.5px,#236eff 13.5px,#279dff 15.5px,#32dbeb 18.5px,#45f9c0 25.5px,#83ff7b 52.5px,#a9ff5b 76.5px,#d5ff47 97.5px,#fcfa30 112.5px,#ffd01e 123.5px,#ffb11b 130.5px,#ff5822 139.5px,#ff3c28 141.5px,#ff1e37 146.5px,#f81427 151.5px)"></i><i style="background:linear-gradient(90deg,#fb162b 0.5px,#f61326 5.5px,#f5faff 6.5px,#97c9ff 8.5px,#2d77ff 10.5px,#236eff 13.5px,#279dff 15.5px,#32dceb 18.5px,#45f9c0 25.5px,#83ff7a 52.5px,#aaff5a 76.5px,#d6ff46 97.5px,#fcf92f 112.5px,#ffcf1e 123.5px,#ffaf1a 130.5px,#ff6021 138.5px,#ff3b29 141.5px,#ff1e36 146.5px,#f71326 151.5px)"></i><i style="background:linear-gradient(90deg,#fb152a 0.5px,#f41325 5.5px,#f2f8ff 6.5px,#96c8ff 8.5px,#2d77ff 10.5px,#236fff 13.5px,#279eff 15.5px,#32dceb 18.5px,#45f9c0 25.5px,#82ff7c 51.5px,#aaff5a 76.5px,#d7ff46 97.5px,#fbfa31 111.5px,#ffce1e 123.5px,#ffae1a 130.5px,#ff691f 137.5px,#ff3929 141.5px,#ff1d36 146.5px,#f61326 151.5px)"></i><i style="background:linear-gradient(90deg,#fa1529 0.5px,#f31324 5.5px,#eef6ff 6.5px,#94c7ff 8.5px,#2c77ff 10.5px,#2370ff 13.5px,#279fff 15.5px,#32dceb 18.5px,#45f9bf 25.5px,#82ff7c 51.5px,#aaff5a 76.5px,#d5ff47 96.5px,#fcfa30 111.5px,#ffd21e 122.5px,#ffac1a 130.5px,#ff711e 136.5px,#ff382a 141.5px,#ff2036 145.5px,#f51325 151.5px)"></i><i style="background:linear-gradient(90deg,#fa1529 0.5px,#f31324 5.5px,#e9f4ff 6.5px,#92c5ff 8.5px,#5aa0ff 9.5px,#2c76ff 10.5px,#2370ff 13.5px,#28a0ff 15.5px,#32dcea 18.5px,#45f9bf 25.5px,#82ff7b 51.5px,#a9ff5b 75.5px,#d6ff47 96.5px,#fcf930 111.5px,#ffd11e 122.5px,#ffab1a 130.5px,#ff6f1e 136.5px,#ff362b 141.5px,#ff1f37 145.5px,#f41325 151.5px)"></i><i style="background:linear-gradient(90deg,#fa1428 0.5px,#f21223 4.5px,#fafcff 5.5px,#e5f2ff 6.5px,#90c4ff 8.5px,#589eff 9.5px,#2b76ff 10.5px,#2371ff 13.5px,#28a0ff 15.5px,#32ddea 18.5px,#45f9bf 25.5px,#83ff7b 51.5px,#a9ff5b 75.5px,#d6ff46 96.5px,#fbfa31 110.5px,#ffd01e 122.5px,#ffb11b 129.5px,#ff6d1e 136.5px,#ff3b28 140.5px,#ff1e37 145.5px,#f41324 151.5px)"></i><i style="background:linear-gradient(90deg,#fa1428 0.5px,#f31324 4.5px,#f9fcff 5.5px,#e0f0ff 6.5px,#8dc2ff 8.5px,#569cff 9.5px,#2b76ff 10.5px,#2372ff 13.5px,#28a1ff 15.5px,#33ddea 18.5px,#45f9bf 25.5px,#83ff7b 51.5px,#aaff5a 75.5px,#d7ff46 96.5px,#fcfa30 110.5px,#ffcf1e 122.5px,#ffb01a 129.5px,#ff6a1f 136.5px,#ff3a29 140.5px,#ff1d36 145.5px,#fa1429 150.5px,#f31324 151.5px)"></i><i style="background:linear-gradient(90deg,#f91428 0.5px,#f11223 4.5px,#f8fbff 5.5px,#dcedff 6.5px,#8ac0ff 8.5px,#549aff 9.5px,#2b75ff 10.5px,#2373ff 13.5px,#28a2ff 15.5px,#33ddea 18.5px,#45f9bf 25.5px,#83ff7b 51.5px,#aaff5a 75.5px,#d5ff47 95.5px,#fcf930 110.5px,#ffd21e 121.5px,#ffae1a 129.5px,#ff671f 136.5px,#ff4127 139.5px,#ff2b31 142.5px,#ff1d36 145.5px,#fa1428 150.5px,#f21223 151.5px)"></i><i style="background:linear-gradient(90deg,#fa1428 0.5px,#f21223 4.5px,#f7fbff 5.5px,#b4d8ff 7.5px,#87beff 8.5px,#5198ff 9.5px,#2a75ff 10.5px,#2373ff 13.5px,#28a3ff 15.5px,#33ddea 18.5px,#46f9bf 25.5px,#83ff7a 51.5px,#aaff5a 75.5px,#d6ff47 95.5px,#fbfa31 109.5px,#ffd11e 121.5px,#ffac1a 129.5px,#ff5922 137.5px,#ff3d28 139.5px,#ff2931 142.5px,#fe1d35 145.5px,#fa1428 150.5px,#f11223 151.5px)"></i><i style="background:linear-gradient(90deg,#f91427 0.5px,#f01222 4.5px,#f6faff 5.5px,#b0d6ff 7.5px,#83bcff 8.5px,#4f96ff 9.5px,#2a74ff 10.5px,#2474ff 13.5px,#28a4ff 15.5px,#33dde9 18.5px,#46f9bf 25.5px,#82ff7c 50.5px,#a9ff5b 74.5px,#d6ff46 95.5px,#fcfa30 109.5px,#ffd31f 120.5px,#ffb21b 128.5px,#ff6d1e 135.5px,#ff3b29 139.5px,#ff1e37 144.5px,#fa1428 150.5px,#f01222 151.5px)"></i><i style="background:linear-gradient(90deg,#f61326 0.5px,#f01222 3.5px,#fbfdff 4.5px,#f3f9ff 5.5px,#add5ff 7.5px,#4d94ff 9.5px,#2974ff 10.5px,#246fff 12.5px,#2475ff 13.5px,#28a4ff 15.5px,#33dde9 18.5px,#46f9bf 25.5px,#82ff7b 50.5px,#a9ff5b 74.5px,#d7ff46 95.5px,#fcf92f 109.5px,#ffd21e 120.5px,#ffb11b 128.5px,#ff741d 134.5px,#ff3929 139.5px,#ff1e37 144.5px,#fb162b 149.5px,#f01222 151.5px)"></i><i style="background:linear-gradient(90deg,#f51325 0.5px,#ef1222 3.5px,#fafcff 4.5px,#edf6ff 5.5px,#abd3ff 7.5px,#4a92ff 9.5px,#2973ff 10.5px,#246fff 12.5px,#2476ff 13.5px,#28a5ff 15.5px,#33dde9 18.5px,#46fabf 25.5px,#83ff7b 50.5px,#aaff5a 74.5px,#d5ff47 94.5px,#fbfa30 108.5px,#ffb41b 127.5px,#ff711e 134.5px,#ff372a 139.5px,#ff1d36 144.5px,#fb162b 149.5px,#ef1221 151.5px)"></i><i style="background:linear-gradient(90deg,#f51325 0.5px,#ef1221 3.5px,#f9fcff 4.5px,#e8f3ff 5.5px,#a8d1ff 7.5px,#4890ff 9.5px,#2873ff 10.5px,#246fff 12.5px,#2477ff 13.5px,#28a6ff 15.5px,#33dde9 18.5px,#46fabf 25.5px,#83ff7b 50.5px,#aaff5a 74.5px,#d6ff46 94.5px,#fcf930 108.5px,#ffb31b 127.5px,#ff6e1e 134.5px,#ff3c28 138.5px,#ff1d36 144.5px,#fb162b 149.5px,#ee1221 151.5px)"></i><i style="background:linear-gradient(90deg,#f51325 0.5px,#ef1221 3.5px,#f8fbff 4.5px,#e2f1ff 5.5px,#a5d0ff 7.5px,#458eff 9.5px,#2873ff 10.5px,#246fff 12.5px,#2478ff 13.5px,#28a7fe 15.5px,#33dde9 18.5px,#46fabe 25.5px,#83ff7b 50.5px,#aaff5a 74.5px,#d7ff46 94.5px,#fbfa30 107.5px,#ffd21e 119.5px,#ffb11b 127.5px,#ff6b1f 134.5px,#ff3a29 138.5px,#ff1f37 143.5px,#fb162a 149.5px,#ec1120 151.5px)"></i><i style="background:linear-gradient(90deg,#f41324 0.5px,#ef1222 2.5px,#fcfeff 3.5px,#f7fbff 4.5px,#a2ceff 7.5px,#438bff 9.5px,#2873ff 10.5px,#246fff 12.5px,#2479ff 13.5px,#28a7fe 15.5px,#33dee9 18.5px,#46fabe 25.5px,#81ff7c 49.5px,#abff5a 74.5px,#d5ff47 93.5px,#fcf930 107.5px,#ffb41b 126.5px,#ff9c1a 129.5px,#ff392a 138.5px,#ff1e37 143.5px,#fb152a 149.5px,#eb111f 151.5px)"></i><i style="background:linear-gradient(90deg,#f31324 0.5px,#ef1221 2.5px,#fbfdff 3.5px,#f6faff 4.5px,#9dccff 7.5px,#4189ff 9.5px,#2873ff 10.5px,#246fff 12.5px,#247aff 13.5px,#29a8fe 15.5px,#33dee8 18.5px,#46fabe 25.5px,#82ff7b 49.5px,#a9ff5b 73.5px,#d6ff47 93.5px,#fbfa30 106.5px,#ffd31e 118.5px,#ffb31b 126.5px,#ff6f1e 133.5px,#ff372b 138.5px,#ff1e37 143.5px,#fb152a 149.5px,#ea111e 151.5px)"></i><i style="background:linear-gradient(90deg,#f41324 0.5px,#ee1221 3.5px,#f4faff 4.5px,#99caff 7.5px,#3f88ff 9.5px,#2873ff 10.5px,#246fff 12.5px,#247bff 13.5px,#29a9fe 15.5px,#33dee8 18.5px,#46fabe 25.5px,#83ff7b 49.5px,#a9ff5a 73.5px,#d7ff46 93.5px,#fcf92f 106.5px,#ffd11e 118.5px,#ffb11b 126.5px,#ff6b1f 133.5px,#ff3b28 137.5px,#ff1e36 143.5px,#fa1529 149.5px,#e9111e 151.5px)"></i><i style="background:linear-gradient(90deg,#f31324 0.5px,#ed1120 3.5px,#eff7ff 4.5px,#95c7ff 7.5px,#3d86ff 9.5px,#2873ff 10.5px,#246fff 12.5px,#247cff 13.5px,#29a9fd 15.5px,#33dee8 18.5px,#46fabe 25.5px,#83ff7b 49.5px,#aaff5a 73.5px,#d5ff47 92.5px,#fcfa30 105.5px,#ffb41b 125.5px,#ff9b1a 128.5px,#ff3a29 137.5px,#ff1d36 143.5px,#fa1429 149.5px,#e8101d 151.5px)"></i><i style="background:linear-gradient(90deg,#f11223 0.5px,#ed1120 2.5px,#f8fcff 3.5px,#eaf4ff 4.5px,#b3d7ff 6.5px,#91c5ff 7.5px,#3b84ff 9.5px,#2873ff 10.5px,#246fff 12.5px,#247dff 13.5px,#29aafd 15.5px,#30d2ef 17.5px,#33dee8 18.5px,#46fabe 25.5px,#83ff7a 49.5px,#aaff5a 73.5px,#d6ff46 92.5px,#fcf82f 105.5px,#ffb21b 125.5px,#ff6e1e 132.5px,#ff382a 137.5px,#ff1f37 142.5px,#fa1428 149.5px,#e6101c 151.5px)"></i><i style="background:linear-gradient(90deg,#f21223 0.5px,#ee1221 2.5px,#f7fbff 3.5px,#b0d6ff 6.5px,#8ec2ff 7.5px,#3982ff 9.5px,#2772ff 10.5px,#246fff 12.5px,#247dff 13.5px,#29abfd 15.5px,#30d2ef 17.5px,#33dee8 18.5px,#46fabe 25.5px,#82ff7c 48.5px,#abff5a 73.5px,#d5ff47 91.5px,#fcf930 104.5px,#ffb41b 124.5px,#ff9d19 127.5px,#ff3c28 136.5px,#ff1e37 142.5px,#f91428 149.5px,#e5101b 151.5px)"></i><i style="background:linear-gradient(90deg,#f01222 0.5px,#ee1221 1.5px,#fbfdff 2.5px,#f6fbff 3.5px,#add4ff 6.5px,#8ac0ff 7.5px,#3781ff 9.5px,#2772ff 10.5px,#246fff 12.5px,#29abfd 15.5px,#30d3ee 17.5px,#33dee8 18.5px,#46fabd 25.5px,#82ff7b 48.5px,#a9ff5b 72.5px,#d6ff47 91.5px,#fcfa30 103.5px,#ffd11e 116.5px,#ffb21b 124.5px,#ff701e 131.5px,#ff3a29 136.5px,#ff1e37 142.5px,#fb162b 148.5px,#e4101b 151.5px)"></i><i style="background:linear-gradient(90deg,#ee1221 0.5px,#ec1120 1.5px,#fafcff 2.5px,#f5faff 3.5px,#abd3ff 6.5px,#5da2ff 8.5px,#357fff 9.5px,#2772ff 10.5px,#246fff 12.5px,#29acfc 15.5px,#30d4ee 17.5px,#34dee8 18.5px,#46fabd 25.5px,#83ff7b 48.5px,#aaff5a 72.5px,#d7ff46 91.5px,#fcf82f 103.5px,#ffd21e 115.5px,#ffb01a 124.5px,#ff6c1e 131.5px,#ff382a 136.5px,#ff1d36 142.5px,#fb162b 148.5px,#e20f1a 151.5px)"></i><i style="background:linear-gradient(90deg,#ef1221 0.5px,#ed1120 1.5px,#f9fcff 2.5px,#f1f8ff 3.5px,#a9d2ff 6.5px,#5ba0ff 8.5px,#347dff 9.5px,#2772ff 10.5px,#236eff 12.5px,#29adfc 15.5px,#31d4ee 17.5px,#34dee7 18.5px,#47fabd 25.5px,#83ff7b 48.5px,#abff5a 72.5px,#d6ff47 90.5px,#fcf930 102.5px,#ffb21b 123.5px,#ff711e 130.5px,#ff3b29 135.5px,#ff1f37 141.5px,#fb152a 148.5px,#e10f19 151.5px)"></i><i style="background:linear-gradient(90deg,#ef1221 0.5px,#ed1120 1.5px,#f8fbff 2.5px,#edf6ff 3.5px,#a7d1ff 6.5px,#589fff 8.5px,#327cff 9.5px,#2772ff 10.5px,#236eff 12.5px,#2aaefc 15.5px,#31d5ee 17.5px,#34dfe7 18.5px,#47fabd 25.5px,#83ff7a 48.5px,#a9ff5b 71.5px,#d7ff46 90.5px,#fcfa30 101.5px,#ffb41b 122.5px,#ff9d19 125.5px,#ff392a 135.5px,#ff1e37 141.5px,#fb152a 148.5px,#de0f18 151.5px)"></i><i style="background:linear-gradient(90deg,#ef1221 0.5px,#ec1120 1.5px,#f7fbff 2.5px,#e9f4ff 3.5px,#a5d0ff 6.5px,#579dff 8.5px,#317bff 9.5px,#2772ff 10.5px,#236eff 12.5px,#2aaefc 15.5px,#31d6ed 17.5px,#47fabd 25.5px,#82ff7c 47.5px,#aaff5a 71.5px,#d6ff46 89.5px,#fcf82f 101.5px,#ffd31e 113.5px,#ffb11b 122.5px,#ff3c28 134.5px,#ff1e36 141.5px,#fa1429 148.5px,#db0e17 151.5px)"></i><i style="background:linear-gradient(90deg,#ee1221 0.5px,#ec1120 1.5px,#f7fbff 2.5px,#a4cfff 6.5px,#559bff 8.5px,#2f79ff 9.5px,#236eff 12.5px,#279aff 14.5px,#31d7ed 17.5px,#47fabd 25.5px,#82ff7b 47.5px,#a9ff5b 70.5px,#d5ff47 88.5px,#fcf92f 100.5px,#ffb31b 121.5px,#ff751d 128.5px,#ff3929 134.5px,#ff1f36 140.5px,#fa1428 148.5px,#d80e16 151.5px)"></i><i style="background:linear-gradient(90deg,#ed1120 0.5px,#fafdff 1.5px,#f6fbff 2.5px,#a2ceff 6.5px,#2e78ff 9.5px,#236eff 12.5px,#279bff 14.5px,#31d7ed 17.5px,#47fabd 25.5px,#83ff7b 47.5px,#aaff5a 70.5px,#d7ff46 88.5px,#fcfa30 99.5px,#ffb41b 120.5px,#ff9d19 123.5px,#ff3c28 133.5px,#ff1e37 140.5px,#fb162b 147.5px,#f81427 148.5px,#d50d16 151.5px)"></i><i style="background:linear-gradient(90deg,#ec1120 0.5px,#fafdff 1.5px,#f6fbff 2.5px,#a0cdff 6.5px,#2e78ff 9.5px,#236eff 12.5px,#279cff 14.5px,#31d8ec 17.5px,#47fabd 25.5px,#83ff7b 47.5px,#a9ff5b 69.5px,#d6ff46 87.5px,#fbfa30 98.5px,#ffd21e 111.5px,#ffb11b 120.5px,#ff3929 133.5px,#ff1e36 140.5px,#fb162a 147.5px,#e10f19 150.5px,#d10d15 151.5px)"></i><i style="background:linear-gradient(90deg,#eb111f 0.5px,#fafdff 1.5px,#f6faff 2.5px,#9eccff 6.5px,#2d78ff 9.5px,#236eff 12.5px,#279dff 14.5px,#32daec 17.5px,#47fabc 25.5px,#83ff7a 47.5px,#abff5a 69.5px,#d6ff46 86.5px,#fcf82f 98.5px,#ffd31e 110.5px,#ffb11b 119.5px,#ff3b28 132.5px,#ff1f37 139.5px,#fa1529 147.5px,#ce0c13 151.5px)"></i><i style="background:linear-gradient(90deg,#feffff 0.5px,#f6faff 2.5px,#b5d9ff 5.5px,#9dccff 6.5px,#2d77ff 9.5px,#236fff 12.5px,#279eff 14.5px,#32dbeb 17.5px,#47fabc 25.5px,#81ff7c 46.5px,#aaff5a 68.5px,#d6ff46 85.5px,#fafa31 96.5px,#ffd31e 109.5px,#ffb11b 118.5px,#ff6e1e 126.5px,#ff382a 132.5px,#ff1e37 139.5px,#fb162b 146.5px,#fa1428 147.5px,#e6101c 149.5px,#ca0c12 151.5px)"></i><i style="background:linear-gradient(90deg,#feffff 0.5px,#f6faff 2.5px,#b4d8ff 5.5px,#9ccbff 6.5px,#2c77ff 9.5px,#2370ff 12.5px,#279fff 14.5px,#32dceb 17.5px,#47fabc 25.5px,#82ff7c 46.5px,#aaff5a 67.5px,#d6ff46 84.5px,#fafa31 95.5px,#ffd31e 108.5px,#ffb11b 117.5px,#ff3a29 131.5px,#ff1f37 138.5px,#fb162b 146.5px,#e30f1a 149.5px,#c50b11 151.5px)"></i><i style="background:linear-gradient(90deg,#feffff 0.5px,#f6faff 2.5px,#b4d8ff 5.5px,#9bcaff 6.5px,#2c77ff 9.5px,#2370ff 12.5px,#28a0ff 14.5px,#32ddea 17.5px,#45f9c0 24.5px,#82ff7b 46.5px,#abff5a 66.5px,#fafa31 94.5px,#ffd31e 107.5px,#ffb11b 116.5px,#ff3b29 130.5px,#ff1e37 138.5px,#fa1529 146.5px,#df0f18 149.5px,#be0a0f 151.5px)"></i><i style="background:linear-gradient(90deg,#feffff 0.5px,#f6faff 2.5px,#b4d8ff 5.5px,#9acaff 6.5px,#2c76ff 9.5px,#2371ff 12.5px,#28a1ff 14.5px,#33dde9 17.5px,#45f9bf 24.5px,#82ff7b 46.5px,#abff5a 65.5px,#fafa31 93.5px,#ffd31e 106.5px,#ffb11b 115.5px,#ff3c28 129.5px,#ff1e37 137.5px,#fb162b 145.5px,#e5101b 148.5px,#b9080d 151.5px)"></i><i style="background:linear-gradient(90deg,#feffff 0.5px,#f6faff 2.5px,#b3d8ff 5.5px,#99c9ff 6.5px,#2b76ff 9.5px,#2371ff 12.5px,#28a3ff 14.5px,#30d0ef 16.5px,#33dee8 17.5px,#46fabf 24.5px,#83ff7b 46.5px,#abff5a 64.5px,#fafa31 92.5px,#ffd21e 105.5px,#ffaf1a 114.5px,#ff3c28 128.5px,#ff1f36 136.5px,#fa1529 145.5px,#e9111e 147.5px,#cd0c13 149.5px,#ffc41d 150.5px,#ffc01c 151.5px)"></i><i style="background:linear-gradient(90deg,#feffff 0.5px,#f6faff 2.5px,#b3d7ff 5.5px,#98c9ff 6.5px,#2b76ff 9.5px,#2372ff 12.5px,#28a4ff 14.5px,#30d4ee 16.5px,#34dfe7 17.5px,#46fabe 24.5px,#83ff7b 46.5px,#aaff5a 63.5px,#fbfa30 91.5px,#ffd11e 104.5px,#ffb21b 112.5px,#ff3c28 127.5px,#ff1e36 136.5px,#fb162b 144.5px,#f61326 145.5px,#d00d14 148.5px,#ffc81d 149.5px,#ffc01c 151.5px)"></i><i style="background:linear-gradient(90deg,#feffff 0.5px,#f6faff 2.5px,#b2d7ff 5.5px,#96c8ff 6.5px,#4991ff 8.5px,#2b75ff 9.5px,#2373ff 12.5px,#28a6ff 14.5px,#31d7ed 16.5px,#46fabe 24.5px,#83ff7a 46.5px,#aaff5a 62.5px,#fafa31 89.5px,#ffd31e 102.5px,#ffaf1a 111.5px,#ff3b29 126.5px,#ff1f36 134.5px,#fb162b 143.5px,#f61326 144.5px,#d00d14 147.5px,#ffcd1d 148.5px,#ffc01c 151.5px)"></i><i style="background:linear-gradient(90deg,#feffff 0.5px,#f6faff 2.5px,#b1d7ff 5.5px,#95c7ff 6.5px,#4890ff 8.5px,#2a75ff 9.5px,#2373ff 12.5px,#29a8fe 14.5px,#32dceb 16.5px,#46fabd 24.5px,#84ff7a 46.5px,#a9ff5b 61.5px,#fcfa30 88.5px,#ffd31f 100.5px,#ffb01b 109.5px,#ff3d28 124.5px,#ff1e37 133.5px,#fb152a 142.5px,#df0f18 145.5px,#ce0c14 146.5px,#ffd11e 147.5px,#ffc01c 151.5px)"></i><i style="background:linear-gradient(90deg,#ffffff 0.5px,#f6faff 2.5px,#b1d6ff 5.5px,#94c6ff 6.5px,#468eff 8.5px,#2974ff 9.5px,#2475ff 12.5px,#29abfd 14.5px,#32ddea 16.5px,#47fabd 24.5px,#82ff7c 45.5px,#a9ff5b 60.5px,#fcfa30 86.5px,#ffd31f 98.5px,#ffb01a 107.5px,#ff3929 123.5px,#ff1f37 131.5px,#fb162b 140.5px,#e6101c 143.5px,#cb0c13 145.5px,#ffd51f 146.5px,#ffc01c 151.5px)"></i><i style="background:linear-gradient(90deg,#ffffff 0.5px,#f6faff 2.5px,#b0d6ff 5.5px,#92c5ff 6.5px,#448cff 8.5px,#2974ff 9.5px,#246fff 11.5px,#2476ff 12.5px,#2aadfc 14.5px,#33dde9 16.5px,#47fabd 24.5px,#83ff7b 45.5px,#a9ff5b 59.5px,#fcfa30 84.5px,#ffd31e 96.5px,#ffaf1a 105.5px,#ff3929 121.5px,#ff1f36 129.5px,#fa1429 139.5px,#e20f1a 142.5px,#b9080d 145.5px,#ffd51f 146.5px,#ffc01c 151.5px)"></i><i style="background:linear-gradient(90deg,#ffffff 0.5px,#f6faff 2.5px,#afd5ff 5.5px,#90c4ff 6.5px,#418aff 8.5px,#2873ff 9.5px,#246fff 11.5px,#2478ff 12.5px,#2ab0fb 14.5px,#2fcdf1 15.5px,#33dee8 16.5px,#47fabc 24.5px,#81ff7c 44.5px,#aaff5a 58.5px,#fcfa30 82.5px,#ffd21e 94.5px,#ffb21b 102.5px,#ff731d 111.5px,#ff392a 119.5px,#ff1f36 127.5px,#fa1529 137.5px,#e5101b 140.5px,#cb0c13 142.5px,#fedf24 143.5px,#ffc01c 151.5px)"></i><i style="background:linear-gradient(90deg,#ffffff 0.5px,#f6faff 2.5px,#aed5ff 5.5px,#8dc2ff 6.5px,#3e87ff 8.5px,#2873ff 9.5px,#246fff 11.5px,#247aff 12.5px,#2795ff 13.5px,#30d1ef 15.5px,#34dee8 16.5px,#46f9bf 23.5px,#6aff90 37.5px,#a8ff5b 56.5px,#f9fa32 79.5px,#ffd11e 92.5px,#ffb01a 100.5px,#ff3b28 116.5px,#ff1f37 125.5px,#fa1529 135.5px,#dd0e18 139.5px,#bd0a0f 141.5px,#fee326 142.5px,#ffc01c 151.5px)"></i><i style="background:linear-gradient(90deg,#ffffff 0.5px,#f6faff 2.5px,#acd4ff 5.5px,#8ac0ff 6.5px,#3983ff 8.5px,#2873ff 9.5px,#246fff 11.5px,#247dff 12.5px,#2799ff 13.5px,#31d5ee 15.5px,#34dfe7 16.5px,#46fabe 23.5px,#69ff91 36.5px,#aaff5a 55.5px,#f9fa32 77.5px,#ffd31e 89.5px,#ffb21b 97.5px,#ff3929 114.5px,#ff1e37 123.5px,#fa1529 133.5px,#da0e17 137.5px,#ba090e 139.5px,#fdea29 140.5px,#ffc01c 151.5px)"></i><i style="background:linear-gradient(90deg,#ffffff 0.5px,#f5faff 2.5px,#abd3ff 5.5px,#5ca1ff 7.5px,#347eff 8.5px,#2772ff 9.5px,#236eff 11.5px,#2580ff 12.5px,#279eff 13.5px,#31d9ec 15.5px,#47fabd 23.5px,#68ff93 35.5px,#a9ff5b 53.5px,#f9fa32 75.5px,#ffd01e 87.5px,#ffb21b 94.5px,#ff3929 111.5px,#ff1f37 120.5px,#fa1428 131.5px,#cf0c14 135.5px,#fcf82f 136.5px,#ffc01c 151.5px)"></i><i style="background:linear-gradient(90deg,#ffffff 0.5px,#f5faff 2.5px,#a9d2ff 5.5px,#82bbff 6.5px,#2e78ff 8.5px,#236eff 11.5px,#28a4ff 13.5px,#32dceb 15.5px,#45f8c1 22.5px,#6aff90 35.5px,#acff59 52.5px,#c0ff50 56.5px,#fafa31 73.5px,#ffd11e 84.5px,#ffb11b 91.5px,#ff3c28 107.5px,#ff1f37 117.5px,#fb162a 128.5px,#e9111e 130.5px,#cc0c13 132.5px,#f5fb34 133.5px,#fcf82f 136.5px,#ffc01c 151.5px)"></i><i style="background:linear-gradient(90deg,#ffffff 0.5px,#f5faff 2.5px,#a7d1ff 5.5px,#2b76ff 8.5px,#2371ff 11.5px,#29a9fd 13.5px,#33dde9 15.5px,#46fabf 22.5px,#6aff90 34.5px,#acff59 50.5px,#c1ff50 54.5px,#f9fa32 70.5px,#ffd11e 81.5px,#ffb01a 88.5px,#ff3a29 104.5px,#ff1e37 114.5px,#fb162a 125.5px,#e5101b 127.5px,#c20b10 129.5px,#edfc39 130.5px,#fcf82f 136.5px,#ffc01c 151.5px)"></i><i style="background:linear-gradient(90deg,#ffffff 0.5px,#f5faff 2.5px,#a4d0ff 5.5px,#4890ff 7.5px,#2873ff 8.5px,#246fff 10.5px,#2476ff 11.5px,#2aaffb 13.5px,#2fcdf1 14.5px,#33dee8 15.5px,#47fabd 22.5px,#69ff91 33.5px,#adff59 48.5px,#bfff51 51.5px,#fafa31 67.5px,#ffd01e 78.5px,#ffaf1a 85.5px,#ff3b29 100.5px,#ff1f37 110.5px,#fb162b 121.5px,#f31324 122.5px,#cf0c14 124.5px,#e0fe40 125.5px,#fcf82f 136.5px,#ffc01c 151.5px)"></i><i style="background:linear-gradient(90deg,#ffffff 0.5px,#f4f9ff 2.5px,#a0ceff 5.5px,#3f88ff 7.5px,#2873ff 8.5px,#246fff 10.5px,#247bff 11.5px,#2797ff 12.5px,#31d4ee 14.5px,#34dfe6 15.5px,#45f9c0 21.5px,#69ff91 32.5px,#aaff5a 45.5px,#bfff51 48.5px,#fcfa30 63.5px,#ffd31e 74.5px,#ffb11b 82.5px,#ff3b29 96.5px,#ff1e37 106.5px,#fb152a 116.5px,#d80e16 118.5px,#b9080d 120.5px,#d6ff46 121.5px,#fcf82f 136.5px,#ffc01c 151.5px)"></i><i style="background:linear-gradient(90deg,#ffffff 0.5px,#f2f9ff 2.5px,#b9dbff 4.5px,#9acaff 5.5px,#347eff 7.5px,#2772ff 8.5px,#236eff 10.5px,#2581ff 11.5px,#28a0ff 12.5px,#32dceb 14.5px,#46fabd 21.5px,#6aff90 31.5px,#8dff72 38.5px,#b1ff57 43.5px,#c1ff50 45.5px,#fafa31 58.5px,#ffd41f 70.5px,#ffb11b 79.5px,#ff5822 88.5px,#ff3a29 92.5px,#ff1f36 100.5px,#fb162c 109.5px,#fa1529 110.5px,#c70b11 113.5px,#c7ff4d 114.5px,#fbfa31 135.5px,#ffc01c 151.5px)"></i><i style="background:linear-gradient(90deg,#ffffff 0.5px,#f0f7ff 2.5px,#b5d9ff 4.5px,#90c4ff 5.5px,#589eff 6.5px,#2b76ff 7.5px,#2371ff 10.5px,#2588ff 11.5px,#29acfd 12.5px,#2fccf1 13.5px,#34dee8 14.5px,#46fabf 20.5px,#82ff7c 34.5px,#baff53 41.5px,#fbfa31 54.5px,#ffd11e 67.5px,#ffb21b 75.5px,#ff3b28 87.5px,#ff1f37 95.5px,#fa1428 104.5px,#cd0c13 107.5px,#bcff52 108.5px,#fbfa31 135.5px,#ffc01c 151.5px)"></i><i style="background:linear-gradient(90deg,#ffffff 0.5px,#edf6ff 2.5px,#b0d6ff 4.5px,#80b9ff 5.5px,#4189ff 6.5px,#2873ff 7.5px,#246fff 9.5px,#247aff 10.5px,#2798ff 11.5px,#33dde9 13.5px,#46fabe 19.5px,#7eff7f 31.5px,#bcff52 38.5px,#fcfa30 50.5px,#ffd21e 62.5px,#ffb21b 70.5px,#ff3c28 82.5px,#ff1e37 90.5px,#fa1529 98.5px,#e10f19 101.5px,#b9080d 104.5px,#b7ff54 105.5px,#d6ff46 121.5px,#fbfa31 135.5px,#ffc01c 151.5px)"></i><i style="background:linear-gradient(90deg,#ffffff 0.5px,#f9fcff 1.5px,#e9f4ff 2.5px,#a9d2ff 4.5px,#2b76ff 6.5px,#236fff 9.5px,#2586ff 10.5px,#2bb3fa 11.5px,#32ddea 12.5px,#47fabd 18.5px,#68ff92 25.5px,#83ff7b 29.5px,#bfff50 35.5px,#fcf82f 46.5px,#ffd21e 56.5px,#ffb11b 63.5px,#ff3929 77.5px,#ff1d36 85.5px,#fa1428 92.5px,#dc0e17 96.5px,#bd0a0f 98.5px,#aeff58 99.5px,#c1ff50 111.5px,#fbfa31 135.5px,#ffc01c 151.5px)"></i><i style="background:linear-gradient(90deg,#ffffff 0.5px,#f8fcff 1.5px,#e3f1ff 2.5px,#c1dfff 3.5px,#9acaff 4.5px,#428aff 5.5px,#2772ff 6.5px,#246fff 8.5px,#247bff 9.5px,#28a3ff 10.5px,#32dceb 11.5px,#45f8c1 16.5px,#6aff90 23.5px,#89ff75 27.5px,#b4ff56 31.5px,#c0ff50 32.5px,#fcfa30 41.5px,#ffd31f 49.5px,#ffb11b 55.5px,#ff3e28 69.5px,#ff2036 78.5px,#fb172c 84.5px,#f81427 85.5px,#de0f18 86.5px,#b9080d 88.5px,#a1ff61 89.5px,#c1ff50 111.5px,#fbfa31 135.5px,#ffc01c 151.5px)"></i><i style="background:linear-gradient(90deg,#ffffff 0.5px,#f8fbff 1.5px,#b8daff 3.5px,#79b5ff 4.5px,#2b76ff 5.5px,#2372ff 8.5px,#2589ff 9.5px,#31d7ed 10.5px,#46fabe 15.5px,#6bff8f 21.5px,#b0ff57 28.5px,#fafa31 36.5px,#fcf52e 37.5px,#ffd11e 43.5px,#ffa319 49.5px,#ff5d21 56.5px,#ff3c28 61.5px,#ff1e37 71.5px,#fb162b 77.5px,#b9080d 78.5px,#95ff6c 79.5px,#c1ff50 111.5px,#fbfa31 135.5px,#ffc01c 151.5px)"></i><i style="background:linear-gradient(90deg,#ffffff 0.5px,#f7fbff 1.5px,#aad3ff 3.5px,#569cff 4.5px,#2873ff 5.5px,#246fff 7.5px,#2581ff 8.5px,#2fc9f2 9.5px,#36e1e3 10.5px,#43f5c5 13.5px,#6aff90 19.5px,#a8ff5b 25.5px,#fcf72e 32.5px,#ffd41f 37.5px,#ffa71a 42.5px,#ff5922 48.5px,#ff3c28 52.5px,#ff1f37 61.5px,#fa1428 69.5px,#cf0c14 73.5px,#8fff71 74.5px,#c1ff50 111.5px,#fbfa31 135.5px,#ffc01c 151.5px)"></i><i style="background:linear-gradient(90deg,#ffffff 0.5px,#f5faff 1.5px,#89bfff 3.5px,#3b84ff 4.5px,#2772ff 5.5px,#2570ff 6.5px,#247bff 7.5px,#2cbcf7 8.5px,#35e1e4 9.5px,#44f7c2 12.5px,#68ff92 17.5px,#a0ff62 22.5px,#cfff49 25.5px,#fcf82f 27.5px,#ffb61b 35.5px,#ff6021 41.5px,#ff3e28 44.5px,#ff1e37 51.5px,#fa1529 58.5px,#df0f18 63.5px,#b9080d 66.5px,#88ff77 67.5px,#c1ff50 111.5px,#fbfa31 135.5px,#ffc01c 151.5px)"></i><i style="background:linear-gradient(90deg,#feffff 0.5px,#e9f4ff 1.5px,#abd3ff 2.5px,#2b76ff 4.5px,#2475ff 6.5px,#2bb6f9 7.5px,#35e1e3 8.5px,#41f2c9 10.5px,#57ffa8 13.5px,#89ff75 18.5px,#b1ff57 21.5px,#cfff49 22.5px,#fdf32d 23.5px,#ffd01e 27.5px,#ffa419 31.5px,#ff3e28 38.5px,#ff1f37 43.5px,#f61326 48.5px,#bb090e 52.5px,#6cff8f 53.5px,#83ff7b 62.5px,#c1ff50 111.5px,#fbfa31 135.5px,#ffc01c 151.5px)"></i><i style="background:linear-gradient(90deg,#feffff 0.5px,#d3e9ff 1.5px,#4c93ff 3.5px,#2772ff 4.5px,#2370ff 5.5px,#2cbcf7 6.5px,#37e3e1 7.5px,#45f8c1 9.5px,#69ff91 13.5px,#b7ff54 19.5px,#fcf42d 20.5px,#ffd620 22.5px,#ff991a 26.5px,#ff3b29 33.5px,#ff2135 37.5px,#fb172c 40.5px,#c00a10 43.5px,#5affa4 44.5px,#83ff7b 62.5px,#c1ff50 111.5px,#fbfa31 135.5px,#ffc01c 151.5px)"></i><i style="background:linear-gradient(90deg,#feffff 0.5px,#6babff 2.5px,#2c77ff 3.5px,#2372ff 4.5px,#31d6ed 5.5px,#44f6c4 7.5px,#59ffa5 9.5px,#84ff7a 12.5px,#bcff52 16.5px,#feda22 17.5px,#ffaf1a 18.5px,#ff4426 26.5px,#ff1e37 32.5px,#f81427 36.5px,#bd0a0f 40.5px,#55ffab 41.5px,#83ff7b 62.5px,#c1ff50 111.5px,#fbfa31 135.5px,#ffc01c 151.5px)"></i><i style="background:linear-gradient(90deg,#fefeff 0.5px,#8ac0ff 1.5px,#337dff 2.5px,#28a0ff 3.5px,#3ae8d8 4.5px,#48fbbc 5.5px,#59ffa5 6.5px,#83ff7a 8.5px,#bdff52 11.5px,#ffa519 12.5px,#ff5822 16.5px,#ff3929 19.5px,#ff1f36 24.5px,#f91427 30.5px,#db0e17 35.5px,#bf0a0f 37.5px,#4efdb3 38.5px,#83ff7b 62.5px,#c1ff50 111.5px,#fbfa31 135.5px,#ffc01c 151.5px)"></i><i style="background:linear-gradient(90deg,#fcfdff 0.5px,#2671ff 1.5px,#45f8c1 2.5px,#73ff88 3.5px,#a2ff61 4.5px,#ffa019 5.5px,#ff4a25 7.5px,#ff362b 8.5px,#ff2135 10.5px,#fb152a 14.5px,#e10f19 26.5px,#d90e17 28.5px,#b9080d 31.5px,#3fefcf 32.5px,#48fbbc 35.5px,#83ff7b 62.5px,#c1ff50 111.5px,#fbfa31 135.5px,#ffc01c 151.5px)"></i></div>
<div class="hm" style="left:342px;top:30px;width:152px;height:152px"><i style="background:linear-gradient(90deg,#ffc01c 0.5px,#ffc01c 26.5px,#b9080d 27.5px,#e10f19 37.5px,#f01222 50.5px,#ff1e37 85.5px,#ff382a 105.5px,#ffae1a 142.5px,#ffbf1c 151.5px)"></i><i style="background:linear-gradient(90deg,#ffc41d 0.5px,#ffc41d 26.5px,#c70b12 27.5px,#e10f19 32.5px,#f91427 49.5px,#ff1e37 80.5px,#ff2d2f 93.5px,#ff3d28 103.5px,#ffb01b 140.5px,#ffc31c 151.5px)"></i><i style="background:linear-gradient(90deg,#ffc81d 0.5px,#ffc81d 25.5px,#cd0c13 26.5px,#e30f1a 29.5px,#fa1428 41.5px,#ff1e37 75.5px,#ff302e 91.5px,#ff3c28 98.5px,#ffaf1a 137.5px,#ffc71d 151.5px)"></i><i style="background:linear-gradient(90deg,#ffcd1d 0.5px,#ffcd1d 24.5px,#d00d14 25.5px,#e5101b 27.5px,#fa1428 34.5px,#ff1e37 70.5px,#ff352c 90.5px,#ff6e1e 112.5px,#ffb11b 135.5px,#ffcc1d 151.5px)"></i><i style="background:linear-gradient(90deg,#ffd11e 0.5px,#ffd11e 23.5px,#d00d14 24.5px,#e9111e 26.5px,#fa1428 30.5px,#ff1e37 65.5px,#ff3929 89.5px,#ff5822 98.5px,#ff811c 116.5px,#ffb11b 132.5px,#ffd01e 151.5px)"></i><i style="background:linear-gradient(90deg,#ffd51f 0.5px,#ffd51f 22.5px,#ce0c14 23.5px,#ec111f 25.5px,#fa1529 28.5px,#ff1e37 59.5px,#ff3c28 87.5px,#ff5a22 95.5px,#ff841c 114.5px,#ffb01a 129.5px,#ffd41f 151.5px)"></i><i style="background:linear-gradient(90deg,#ffd821 0.5px,#ffd821 20.5px,#b9080d 21.5px,#df0f18 23.5px,#f61326 25.5px,#fa1529 26.5px,#ff1e37 54.5px,#ff3c28 83.5px,#ff5d21 93.5px,#ffaf1a 126.5px,#ffd821 151.5px)"></i><i style="background:linear-gradient(90deg,#fedc22 0.5px,#fedc22 20.5px,#c50b11 21.5px,#ea111e 23.5px,#fb162b 25.5px,#ff1e37 50.5px,#ff3c28 78.5px,#ffb11b 124.5px,#fedb22 151.5px)"></i><i style="background:linear-gradient(90deg,#fedf24 0.5px,#fedf24 20.5px,#d50d16 21.5px,#f41324 23.5px,#fc182d 26.5px,#ff1e37 45.5px,#ff3d28 72.5px,#ffb11b 121.5px,#fedf24 151.5px)"></i><i style="background:linear-gradient(90deg,#fee326 0.5px,#fee326 19.5px,#cb0c13 20.5px,#e20f1a 21.5px,#fb152a 23.5px,#fc182e 25.5px,#ff1e37 40.5px,#ff3d28 65.5px,#ff6121 84.5px,#ffb11b 118.5px,#fee225 151.5px)"></i><i style="background:linear-gradient(90deg,#fde727 0.5px,#fde727 18.5px,#bd0a0f 19.5px,#db0e17 20.5px,#f91427 22.5px,#fc192f 25.5px,#ff1e37 36.5px,#ff3c28 59.5px,#ff681f 83.5px,#ffa119 108.5px,#ffd21e 134.5px,#fee627 151.5px)"></i><i style="background:linear-gradient(90deg,#fdea29 0.5px,#fdea29 18.5px,#ce0c14 19.5px,#e5101b 20.5px,#fb162b 22.5px,#fd1a31 25.5px,#ff1e37 33.5px,#ff3b28 54.5px,#ff5623 64.5px,#ff711e 83.5px,#ffa219 105.5px,#ffd21e 131.5px,#fdea29 151.5px)"></i><i style="background:linear-gradient(90deg,#fdee2a 0.5px,#fdee2a 17.5px,#ba090e 18.5px,#dd0e18 19.5px,#fa1429 21.5px,#fd1b32 25.5px,#ff1f37 31.5px,#ff3b29 50.5px,#ff5822 59.5px,#ff7a1d 83.5px,#ffa219 101.5px,#ffd21e 128.5px,#fded2a 151.5px)"></i><i style="background:linear-gradient(90deg,#fdf12c 0.5px,#fdf12c 17.5px,#ca0c13 18.5px,#e6101c 19.5px,#f51325 20.5px,#fe1c34 25.5px,#ff1f37 29.5px,#ff3c28 47.5px,#ff6220 59.5px,#ff811c 82.5px,#ffa119 97.5px,#ffd21e 125.5px,#fdf12c 151.5px)"></i><i style="background:linear-gradient(90deg,#fcf52e 0.5px,#fcf52e 17.5px,#da0e17 18.5px,#fa1529 20.5px,#ff1e37 27.5px,#ff3b28 43.5px,#ff5922 51.5px,#ff6d1e 59.5px,#ff891b 82.5px,#ffa319 94.5px,#ffd21e 122.5px,#fcf42d 151.5px)"></i><i style="background:linear-gradient(90deg,#fcf82f 0.5px,#fcf82f 17.5px,#e5101b 18.5px,#f51325 19.5px,#fb162b 20.5px,#ff1e36 25.5px,#ff3c28 40.5px,#ff5e21 49.5px,#ff771d 59.5px,#ff921b 82.5px,#ffd11e 118.5px,#fcf82f 151.5px)"></i><i style="background:linear-gradient(90deg,#fbfa31 0.5px,#fbfa31 16.5px,#cf0c14 17.5px,#ed1120 18.5px,#fa1529 19.5px,#ff1e36 24.5px,#ff3b29 37.5px,#ff6620 48.5px,#ff811c 59.5px,#ff9b1a 82.5px,#ffd11e 115.5px,#fbfa31 151.5px)"></i><i style="background:linear-gradient(90deg,#f8fb32 0.5px,#f8fb32 16.5px,#df0f18 17.5px,#f51325 18.5px,#fb162b 19.5px,#ff1f36 24.5px,#ff3c28 35.5px,#ff6e1e 47.5px,#ff891b 58.5px,#ffa419 82.5px,#ffd21e 112.5px,#fcf52e 140.5px,#f8fb32 151.5px)"></i><i style="background:linear-gradient(90deg,#f5fb34 0.5px,#f5fb34 16.5px,#e9111e 17.5px,#fa1529 18.5px,#ff1e37 23.5px,#ff3c28 33.5px,#ff721e 45.5px,#ff931a 58.5px,#ffd11e 108.5px,#fcf42d 135.5px,#f6fb34 151.5px)"></i><i style="background:linear-gradient(90deg,#f3fb36 0.5px,#f3fb36 15.5px,#cc0c13 16.5px,#f21223 17.5px,#fb162c 18.5px,#ff1d36 22.5px,#ff3b28 31.5px,#ff761d 43.5px,#ff9b1a 57.5px,#ffb61b 86.5px,#ffd21e 105.5px,#fcfa30 137.5px,#f3fb35 151.5px)"></i><i style="background:linear-gradient(90deg,#f0fc37 0.5px,#f0fc37 15.5px,#dd0e18 16.5px,#fa1428 17.5px,#ff1f37 22.5px,#ff3e28 30.5px,#ff7c1d 42.5px,#ffa319 56.5px,#ffba1c 85.5px,#fcfa30 133.5px,#f0fc37 151.5px)"></i><i style="background:linear-gradient(90deg,#edfc39 0.5px,#edfc39 15.5px,#e9111e 16.5px,#fb162b 17.5px,#ff1e36 21.5px,#ff3b29 28.5px,#ff7f1c 40.5px,#ffab1a 55.5px,#ffbe1c 84.5px,#fcfa30 130.5px,#eefc39 151.5px)"></i><i style="background:linear-gradient(90deg,#ebfc3a 0.5px,#ebfc3a 14.5px,#c20b10 15.5px,#f41325 16.5px,#fb172c 17.5px,#ff1f36 21.5px,#ff3c28 27.5px,#ff5124 30.5px,#ff891b 40.5px,#ffb01a 53.5px,#ffc21c 83.5px,#fcfa30 126.5px,#ebfc3a 151.5px)"></i><i style="background:linear-gradient(90deg,#e8fd3c 0.5px,#e8fd3c 14.5px,#d30d15 15.5px,#fb162a 16.5px,#ff1e36 20.5px,#ff3c28 26.5px,#ff851c 37.5px,#ffb11b 49.5px,#ffc71d 83.5px,#fcfa30 123.5px,#e8fd3c 151.5px)"></i><i style="background:linear-gradient(90deg,#e6fd3d 0.5px,#e6fd3d 14.5px,#e5101b 15.5px,#fb172c 16.5px,#ff1f36 20.5px,#ff4526 26.5px,#ff841c 35.5px,#ffb11b 46.5px,#ffcc1d 83.5px,#fcf930 119.5px,#e6fd3d 151.5px)"></i><i style="background:linear-gradient(90deg,#e3fd3f 0.5px,#e3fd3f 14.5px,#f21223 15.5px,#fc172d 16.5px,#ff1d36 19.5px,#ff3b29 24.5px,#ff811c 33.5px,#ffb11b 43.5px,#ffd21e 84.5px,#fcfa30 116.5px,#e3fd3f 151.5px)"></i><i style="background:linear-gradient(90deg,#e0fe40 0.5px,#e0fe40 14.5px,#fb162a 15.5px,#ff2434 20.5px,#ff4d25 25.5px,#ff841c 32.5px,#ffb21b 41.5px,#ffc61d 57.5px,#ffd31e 80.5px,#fcfa30 112.5px,#e1fe40 151.5px)"></i><i style="background:linear-gradient(90deg,#defe42 0.5px,#defe42 13.5px,#cf0c14 14.5px,#fb172c 15.5px,#ff1d36 18.5px,#ff2732 20.5px,#ff3d28 23.5px,#ff5523 25.5px,#ff861c 31.5px,#ffab1a 37.5px,#ffb41b 40.5px,#ffca1d 57.5px,#ffd720 80.5px,#fcfa30 108.5px,#defe42 151.5px)"></i><i style="background:linear-gradient(90deg,#dbfe44 0.5px,#dbfe44 13.5px,#e30f1a 14.5px,#fc172d 15.5px,#ff1e37 18.5px,#ff3929 22.5px,#ff5e21 25.5px,#ff9d19 33.5px,#ffaf1a 36.5px,#ffba1b 41.5px,#ffcf1e 58.5px,#fedf24 84.5px,#fcf930 104.5px,#dbfe43 151.5px)"></i><i style="background:linear-gradient(90deg,#d8ff45 0.5px,#d8ff45 13.5px,#f31324 14.5px,#fc182e 15.5px,#ff2036 18.5px,#ff3e28 22.5px,#ff701e 26.5px,#ffad1a 34.5px,#ffbf1c 42.5px,#ffd21e 56.5px,#fee225 83.5px,#fcfa30 101.5px,#d9ff45 151.5px)"></i><i style="background:linear-gradient(90deg,#d6ff46 0.5px,#d6ff46 13.5px,#fb162b 14.5px,#ff1e36 17.5px,#ff3929 21.5px,#ff6f1e 25.5px,#ffaf1a 33.5px,#ffc51d 43.5px,#ffd620 57.5px,#fee627 83.5px,#fcfa30 97.5px,#d6ff46 151.5px)"></i><i style="background:linear-gradient(90deg,#d4ff47 0.5px,#d4ff47 12.5px,#b9080d 13.5px,#fb172c 14.5px,#ff1f37 17.5px,#ff352b 20.5px,#ff761d 25.5px,#ffb11b 32.5px,#ffc71d 42.5px,#fbfa30 95.5px,#d4ff47 151.5px)"></i><i style="background:linear-gradient(90deg,#d2ff48 0.5px,#d2ff48 12.5px,#c70b12 13.5px,#fc172d 14.5px,#ff2135 17.5px,#ff392a 20.5px,#ff7e1c 25.5px,#ffb11b 31.5px,#ffcd1d 43.5px,#fbfa30 92.5px,#d2ff48 151.5px)"></i><i style="background:linear-gradient(90deg,#d0ff49 0.5px,#d0ff49 12.5px,#d80e16 13.5px,#fc182e 14.5px,#ff1e36 16.5px,#ff3d28 20.5px,#ff7b1d 24.5px,#ffb11b 30.5px,#ffd11e 43.5px,#fcfa30 89.5px,#d0ff49 151.5px)"></i><i style="background:linear-gradient(90deg,#cdff4a 0.5px,#cdff4a 12.5px,#ed1120 13.5px,#fc192f 14.5px,#ff1f37 16.5px,#ff382a 19.5px,#ff751d 23.5px,#ffb11b 29.5px,#ffd31e 42.5px,#fee527 57.5px,#fcfa30 86.5px,#ceff4a 151.5px)"></i><i style="background:linear-gradient(90deg,#cbff4b 0.5px,#cbff4b 12.5px,#fb152a 13.5px,#ff2135 16.5px,#ff3b28 19.5px,#ff8a1b 24.5px,#ffb11b 28.5px,#ffd41f 41.5px,#fdea29 58.5px,#fcfa30 83.5px,#ccff4b 151.5px)"></i><i style="background:linear-gradient(90deg,#c9ff4c 0.5px,#c9ff4c 12.5px,#fb172c 13.5px,#ff1d36 15.5px,#ff362b 18.5px,#ff841c 23.5px,#ffb11b 27.5px,#ffc91d 34.5px,#fed921 42.5px,#fdee2a 58.5px,#fcfa30 78.5px,#c9ff4c 151.5px)"></i><i style="background:linear-gradient(90deg,#c7ff4d 0.5px,#c7ff4d 12.5px,#fc172d 13.5px,#ff1e37 15.5px,#ff3929 18.5px,#ff7d1d 22.5px,#ffaf1a 26.5px,#ffca1d 33.5px,#fede24 43.5px,#fcfa30 71.5px,#c7ff4d 151.5px)"></i><i style="background:linear-gradient(90deg,#c5ff4e 0.5px,#c5ff4e 11.5px,#c70b11 12.5px,#fc182e 13.5px,#ff2036 15.5px,#ff3e28 18.5px,#ff751d 21.5px,#ffad1a 25.5px,#ffcb1d 32.5px,#fee024 42.5px,#fcfa30 64.5px,#c5ff4e 151.5px)"></i><i style="background:linear-gradient(90deg,#c3ff4f 0.5px,#c3ff4f 11.5px,#d70e16 12.5px,#fc192f 13.5px,#ff2235 15.5px,#ff362b 17.5px,#ff8c1b 22.5px,#ffb21b 25.5px,#ffd11e 33.5px,#fee527 43.5px,#fcfa30 60.5px,#c3ff4f 151.5px)"></i><i style="background:linear-gradient(90deg,#c1ff50 0.5px,#c1ff50 11.5px,#eb111f 12.5px,#fd1a31 13.5px,#ff1d36 14.5px,#ff3929 17.5px,#ff731d 20.5px,#ffaf1a 24.5px,#ffd21e 32.5px,#fdea29 44.5px,#fcfa30 56.5px,#c1ff50 151.5px)"></i><i style="background:linear-gradient(90deg,#bfff51 0.5px,#bfff51 11.5px,#fa1529 12.5px,#ff1f37 14.5px,#ff3e28 17.5px,#ff7a1d 20.5px,#ffb41b 24.5px,#ffd31e 31.5px,#fdef2b 45.5px,#fcfa30 53.5px,#bfff51 151.5px)"></i><i style="background:linear-gradient(90deg,#beff51 0.5px,#beff51 11.5px,#fb162c 12.5px,#ff2136 14.5px,#ff352b 16.5px,#ff921b 21.5px,#ffb01b 23.5px,#ffb81b 24.5px,#ffd620 31.5px,#fcf42d 46.5px,#fcfa30 50.5px,#d7ff46 101.5px,#beff51 151.5px)"></i><i style="background:linear-gradient(90deg,#bcff52 0.5px,#bcff52 11.5px,#fc172d 12.5px,#ff2335 14.5px,#ff382a 16.5px,#ff781d 19.5px,#ff9a1a 21.5px,#ffbb1c 24.5px,#fed921 31.5px,#fcf82f 46.5px,#d7ff46 98.5px,#bcff52 151.5px)"></i><i style="background:linear-gradient(90deg,#baff53 0.5px,#baff53 10.5px,#cd0c13 11.5px,#fc182e 12.5px,#fe1d35 13.5px,#ff3c28 16.5px,#ff6c1e 18.5px,#ffa119 21.5px,#ffbf1c 24.5px,#fedc22 31.5px,#fcf930 45.5px,#d4ff47 98.5px,#bbff53 151.5px)"></i><i style="background:linear-gradient(90deg,#b9ff53 0.5px,#b9ff53 10.5px,#df0f19 11.5px,#fd1930 12.5px,#ff1e37 13.5px,#ff4227 16.5px,#ff731e 18.5px,#ffa81a 21.5px,#ffbc1c 23.5px,#fed921 29.5px,#fcf92f 43.5px,#d3ff48 97.5px,#b9ff53 151.5px)"></i><i style="background:linear-gradient(90deg,#b7ff54 0.5px,#b7ff54 10.5px,#ed1120 11.5px,#fd1a31 12.5px,#ff1f36 13.5px,#ff372b 15.5px,#ff7a1d 18.5px,#ff9f19 20.5px,#ffc01c 23.5px,#fedd23 29.5px,#fcfa30 42.5px,#d0ff49 97.5px,#b8ff54 151.5px)"></i><i style="background:linear-gradient(90deg,#b6ff55 0.5px,#b6ff55 9.5px,#b9080d 10.5px,#fa1428 11.5px,#ff2235 13.5px,#ff3a29 15.5px,#ff941a 19.5px,#ffbc1c 22.5px,#fedc23 28.5px,#fcf930 40.5px,#ebfc3a 54.5px,#cfff4a 96.5px,#b6ff55 151.5px)"></i><i style="background:linear-gradient(90deg,#b4ff55 0.5px,#b4ff55 9.5px,#c20b10 10.5px,#fb162c 11.5px,#ff2434 13.5px,#ff3e28 15.5px,#ff721e 17.5px,#ff9c1a 19.5px,#ffc01c 22.5px,#fee024 28.5px,#fcfa30 39.5px,#eafc3b 52.5px,#cdff4a 95.5px,#b5ff55 151.5px)"></i><i style="background:linear-gradient(90deg,#b3ff56 0.5px,#b3ff56 9.5px,#d30d15 10.5px,#fc172d 11.5px,#fe1d35 12.5px,#ff342c 14.5px,#ff4526 15.5px,#ff901b 18.5px,#ffb21b 20.5px,#ffbb1c 21.5px,#fedc22 26.5px,#fcf930 37.5px,#e8fd3c 51.5px,#cbff4b 94.5px,#b3ff56 151.5px)"></i><i style="background:linear-gradient(90deg,#b1ff57 0.5px,#b1ff57 9.5px,#e10f19 10.5px,#fc182e 11.5px,#ff1e36 12.5px,#ff382a 14.5px,#ffa91a 19.5px,#ffbf1c 21.5px,#fedf24 26.5px,#fcfa30 36.5px,#e9fd3b 47.5px,#d7ff46 72.5px,#c0ff50 109.5px,#b1ff57 151.5px)"></i><i style="background:linear-gradient(90deg,#b0ff57 0.5px,#b0ff57 9.5px,#ea111f 10.5px,#fd1930 11.5px,#ff1f36 12.5px,#ff3b29 14.5px,#ff9e19 18.5px,#ffba1b 20.5px,#fede23 25.5px,#fcf92f 34.5px,#e7fd3c 46.5px,#d7ff46 68.5px,#c0ff50 105.5px,#b0ff57 151.5px)"></i><i style="background:linear-gradient(90deg,#aeff58 0.5px,#aeff58 9.5px,#f31324 10.5px,#ff2235 12.5px,#ff4127 14.5px,#ff8f1b 17.5px,#ffb41b 19.5px,#fee125 25.5px,#fcfa30 33.5px,#e6fd3d 45.5px,#d8ff46 63.5px,#c0ff50 101.5px,#aeff58 151.5px)"></i><i style="background:linear-gradient(90deg,#adff59 0.5px,#adff59 8.5px,#bd0a0f 9.5px,#fa1529 10.5px,#ff2434 12.5px,#ff342c 13.5px,#ff4826 14.5px,#ff961a 17.5px,#ffb81b 19.5px,#fedf24 24.5px,#fbfa30 32.5px,#e5fd3d 43.5px,#d7ff46 60.5px,#c0ff50 97.5px,#adff59 151.5px)"></i><i style="background:linear-gradient(90deg,#abff59 0.5px,#abff59 8.5px,#cd0c13 9.5px,#fb162c 10.5px,#fe1c34 11.5px,#ff372a 13.5px,#ff6b1f 15.5px,#ffb21b 18.5px,#fedd23 23.5px,#fcf92f 30.5px,#e4fd3e 42.5px,#d7ff46 56.5px,#c0ff50 93.5px,#abff59 151.5px)"></i><i style="background:linear-gradient(90deg,#aaff5a 0.5px,#aaff5a 8.5px,#dc0e17 9.5px,#fc172d 10.5px,#ff1d36 11.5px,#ff3b29 13.5px,#ff8d1b 16.5px,#ffb61b 18.5px,#fee024 23.5px,#fcf92f 29.5px,#e4fd3e 40.5px,#d7ff46 52.5px,#c0ff50 90.5px,#aaff5a 151.5px)"></i><i style="background:linear-gradient(90deg,#a9ff5b 0.5px,#a9ff5b 8.5px,#e5101b 9.5px,#fc192f 10.5px,#ff1f37 11.5px,#ff4127 13.5px,#ff7b1d 15.5px,#ffac1a 17.5px,#ffba1b 18.5px,#fee326 23.5px,#fcf930 28.5px,#e4fd3e 38.5px,#d7ff46 49.5px,#beff51 90.5px,#a9ff5b 151.5px)"></i><i style="background:linear-gradient(90deg,#a7ff5c 0.5px,#a7ff5c 8.5px,#ec1120 9.5px,#fd1a30 10.5px,#ff2135 11.5px,#ff322d 12.5px,#ff671f 14.5px,#ffb21b 17.5px,#fed921 21.5px,#fcf92f 27.5px,#e3fd3f 37.5px,#d6ff46 47.5px,#bcff52 90.5px,#a7ff5c 151.5px)"></i><i style="background:linear-gradient(90deg,#a6ff5d 0.5px,#a6ff5d 8.5px,#f41324 9.5px,#fd1b32 10.5px,#ff2434 11.5px,#ff362b 12.5px,#ff8a1b 15.5px,#ffb61b 17.5px,#fee326 22.5px,#fafa31 27.5px,#e1fe40 36.5px,#d4ff47 46.5px,#bbff53 90.5px,#a6ff5d 151.5px)"></i><i style="background:linear-gradient(90deg,#a5ff5e 0.5px,#a5ff5e 8.5px,#fa1428 9.5px,#fe1c34 10.5px,#ff3a29 12.5px,#ff921b 15.5px,#ffba1c 17.5px,#fee024 21.5px,#fafa31 26.5px,#defe42 36.5px,#d2ff48 46.5px,#b9ff53 90.5px,#a5ff5e 151.5px)"></i><i style="background:linear-gradient(90deg,#a4ff5f 0.5px,#a4ff5f 8.5px,#fb162b 9.5px,#fe1d35 10.5px,#ff3f27 12.5px,#ff801c 14.5px,#ffb11b 16.5px,#ffd41f 19.5px,#fbfa30 25.5px,#dcfe43 35.5px,#d0ff49 45.5px,#b7ff54 90.5px,#a4ff5f 151.5px)"></i><i style="background:linear-gradient(90deg,#a2ff60 0.5px,#a2ff60 8.5px,#fc172d 9.5px,#ff1e37 10.5px,#ff2f2e 11.5px,#ff4826 12.5px,#ff6b1f 13.5px,#ffb51b 16.5px,#ffd821 19.5px,#fcf930 24.5px,#dbfe43 34.5px,#cfff4a 44.5px,#b5ff55 90.5px,#a3ff60 151.5px)"></i><i style="background:linear-gradient(90deg,#a1ff61 0.5px,#a1ff61 8.5px,#fc192f 9.5px,#ff2135 10.5px,#ff332c 11.5px,#ff901b 14.5px,#ffba1c 16.5px,#fedb22 19.5px,#fafa31 24.5px,#d8ff45 34.5px,#cdff4a 43.5px,#b4ff56 90.5px,#a1ff61 151.5px)"></i><i style="background:linear-gradient(90deg,#a0ff62 0.5px,#a0ff62 7.5px,#b9080d 8.5px,#fd1a31 9.5px,#ff2434 10.5px,#ff372a 11.5px,#ff7d1d 13.5px,#ffb01a 15.5px,#ffd620 18.5px,#fcfa30 23.5px,#d7ff46 33.5px,#cbff4b 42.5px,#b2ff57 90.5px,#a0ff62 151.5px)"></i><i style="background:linear-gradient(90deg,#9fff63 0.5px,#9fff63 7.5px,#ca0c12 8.5px,#fe1b33 9.5px,#ff3b28 11.5px,#ff861c 13.5px,#ffb51b 15.5px,#feda22 18.5px,#f9fa32 23.5px,#d6ff46 32.5px,#c9ff4c 42.5px,#b0ff57 90.5px,#9fff63 151.5px)"></i><i style="background:linear-gradient(90deg,#9eff64 0.5px,#9eff64 7.5px,#de0f18 8.5px,#fe1c34 9.5px,#ff4327 11.5px,#ff8f1b 13.5px,#ffb91b 15.5px,#ffd41f 17.5px,#fcfa30 22.5px,#d6ff46 31.5px,#c7ff4d 41.5px,#aeff58 91.5px,#9eff64 151.5px)"></i><i style="background:linear-gradient(90deg,#9cff65 0.5px,#9cff65 7.5px,#f81427 8.5px,#ff1d36 9.5px,#ff302e 10.5px,#ff4c25 11.5px,#ff771d 12.5px,#ff971a 13.5px,#ffaf1a 14.5px,#ffd821 17.5px,#f8fa32 22.5px,#d3ff48 31.5px,#c5ff4e 41.5px,#acff59 91.5px,#9cff65 151.5px)"></i><i style="background:linear-gradient(90deg,#9bff66 0.5px,#9bff66 7.5px,#fb172c 8.5px,#ff2036 9.5px,#ff342c 10.5px,#ff5523 11.5px,#ff811c 12.5px,#ffa019 13.5px,#ffb41b 14.5px,#fedc22 17.5px,#fcfa30 21.5px,#d3ff48 30.5px,#c3ff4f 40.5px,#aaff5a 91.5px,#9bff66 151.5px)"></i><i style="background:linear-gradient(90deg,#9aff67 0.5px,#9aff67 7.5px,#fc182e 8.5px,#ff2334 9.5px,#ff382a 10.5px,#ff8b1b 12.5px,#ffa91a 13.5px,#ffd51f 16.5px,#f8fa32 21.5px,#d1ff49 30.5px,#c1ff50 39.5px,#aaff5a 87.5px,#9aff67 151.5px)"></i><i style="background:linear-gradient(90deg,#99ff68 0.5px,#99ff68 7.5px,#fd1930 8.5px,#ff2733 9.5px,#ff3c28 10.5px,#ff951a 12.5px,#ffb11b 13.5px,#fed921 16.5px,#fcfa30 20.5px,#d8ff45 27.5px,#c0ff50 37.5px,#aaff5a 82.5px,#99ff68 151.5px)"></i><i style="background:linear-gradient(90deg,#97ff69 0.5px,#97ff69 7.5px,#fd1b32 8.5px,#ff4426 10.5px,#ff9f19 12.5px,#ffb51b 13.5px,#fedd23 16.5px,#f9fa32 20.5px,#d5ff47 27.5px,#beff51 37.5px,#aaff5a 79.5px,#98ff69 151.5px)"></i><i style="background:linear-gradient(90deg,#96ff6a 0.5px,#96ff6a 7.5px,#fe1c34 8.5px,#ff2e2f 9.5px,#ff4d25 10.5px,#ff811c 11.5px,#ffa81a 12.5px,#ffd520 15.5px,#fcfa30 19.5px,#d9ff45 25.5px,#c6ff4e 31.5px,#bcff52 37.5px,#a8ff5c 79.5px,#96ff6a 151.5px)"></i><i style="background:linear-gradient(90deg,#95ff6c 0.5px,#95ff6c 7.5px,#ff1d36 8.5px,#ff322d 9.5px,#ff5623 10.5px,#ff8c1b 11.5px,#ffb11b 12.5px,#fee526 16.5px,#f9fa32 19.5px,#d6ff46 25.5px,#c3ff4f 31.5px,#baff53 37.5px,#a7ff5d 79.5px,#95ff6b 151.5px)"></i><i style="background:linear-gradient(90deg,#94ff6d 0.5px,#94ff6d 6.5px,#b9080d 7.5px,#ff2036 8.5px,#ff362b 9.5px,#ff6121 10.5px,#ff971a 11.5px,#ffb51b 12.5px,#fedd23 15.5px,#fcf930 18.5px,#d7ff46 24.5px,#c0ff50 31.5px,#b8ff54 37.5px,#a5ff5e 79.5px,#94ff6c 151.5px)"></i><i style="background:linear-gradient(90deg,#93ff6e 0.5px,#93ff6e 6.5px,#fb162b 7.5px,#ff2334 8.5px,#ff3929 9.5px,#ffa219 11.5px,#ffb91b 12.5px,#fdec2a 16.5px,#f9fa32 18.5px,#d4ff47 24.5px,#beff51 31.5px,#b5ff55 37.5px,#93ff6d 151.5px)"></i><i style="background:linear-gradient(90deg,#91ff6f 0.5px,#91ff6f 6.5px,#fc172d 7.5px,#ff2733 8.5px,#ff3f27 9.5px,#ffac1a 11.5px,#fee527 15.5px,#fcf930 17.5px,#f5fb34 18.5px,#d5ff47 23.5px,#bbff52 31.5px,#b3ff56 37.5px,#91ff6e 151.5px)"></i><i style="background:linear-gradient(90deg,#90ff70 0.5px,#90ff70 6.5px,#fc192f 7.5px,#ff2a31 8.5px,#ff4726 9.5px,#ffb21b 11.5px,#fde928 15.5px,#f9fa32 17.5px,#d3ff48 23.5px,#b9ff53 31.5px,#b1ff57 37.5px,#90ff6f 151.5px)"></i><i style="background:linear-gradient(90deg,#8fff71 0.5px,#8fff71 6.5px,#fd1a31 7.5px,#ff2d2f 8.5px,#ff4f24 9.5px,#ff8c1b 10.5px,#ffb61b 11.5px,#fded2a 15.5px,#f6fb34 17.5px,#d0ff49 23.5px,#b7ff54 31.5px,#afff58 37.5px,#8fff71 151.5px)"></i><i style="background:linear-gradient(90deg,#8eff72 0.5px,#8eff72 5.5px,#cf0c14 6.5px,#fe1b33 7.5px,#ff302e 8.5px,#ff5822 9.5px,#ff961a 10.5px,#ffba1c 11.5px,#fafa31 16.5px,#d1ff49 22.5px,#b7ff54 30.5px,#adff58 36.5px,#8eff72 151.5px)"></i><i style="background:linear-gradient(90deg,#8cff73 0.5px,#8cff73 5.5px,#df0f18 6.5px,#fe1d35 7.5px,#ff332c 8.5px,#ff6121 9.5px,#ffa119 10.5px,#ffbe1c 11.5px,#fcf52e 15.5px,#f7fb33 16.5px,#ceff4a 22.5px,#b4ff55 30.5px,#abff59 36.5px,#8dff73 151.5px)"></i><i style="background:linear-gradient(90deg,#8bff74 0.5px,#8bff74 5.5px,#e9111e 6.5px,#ff1e37 7.5px,#ff362b 8.5px,#ff6b1f 9.5px,#ffab1a 10.5px,#ffc21c 11.5px,#fdec2a 14.5px,#fcf930 15.5px,#f3fb35 16.5px,#ccff4b 22.5px,#b2ff57 30.5px,#aaff5a 35.5px,#8bff73 151.5px)"></i><i style="background:linear-gradient(90deg,#8aff74 0.5px,#8aff74 5.5px,#f21223 6.5px,#ff2136 7.5px,#ff3a29 8.5px,#ffb21b 10.5px,#ffd41f 12.5px,#f9fa32 15.5px,#d8ff45 19.5px,#c9ff4c 22.5px,#afff58 30.5px,#a8ff5b 35.5px,#8bff74 151.5px)"></i><i style="background:linear-gradient(90deg,#89ff75 0.5px,#89ff75 5.5px,#fa1428 6.5px,#ff2434 7.5px,#ff3e28 8.5px,#ffb61b 10.5px,#fcf42d 14.5px,#f5fb34 15.5px,#dcfe43 18.5px,#c6ff4e 22.5px,#adff59 30.5px,#a6ff5d 35.5px,#8aff75 151.5px)"></i><i style="background:linear-gradient(90deg,#89ff76 0.5px,#89ff76 5.5px,#fb162b 6.5px,#ff2832 7.5px,#ff4426 8.5px,#ff861c 9.5px,#ffba1b 10.5px,#fcf82f 14.5px,#f1fb36 15.5px,#d8ff45 18.5px,#c3ff4f 22.5px,#aaff5a 30.5px,#a5ff5e 35.5px,#89ff76 151.5px)"></i><i style="background:linear-gradient(90deg,#88ff77 0.5px,#88ff77 5.5px,#fc172d 6.5px,#ff2a31 7.5px,#ff4b25 8.5px,#ff8f1b 9.5px,#ffbe1c 10.5px,#fafa31 14.5px,#eefc39 15.5px,#d5ff47 18.5px,#bdff52 23.5px,#aaff5a 29.5px,#a3ff60 35.5px,#88ff77 151.5px)"></i><i style="background:linear-gradient(90deg,#87ff78 0.5px,#87ff78 4.5px,#b9080d 5.5px,#fc192f 6.5px,#ff2d2f 7.5px,#ff5224 8.5px,#ff981a 9.5px,#ffc21c 10.5px,#fdef2b 13.5px,#eafc3b 15.5px,#d2ff48 18.5px,#b9ff53 23.5px,#a8ff5b 29.5px,#a1ff61 35.5px,#87ff78 151.5px)"></i><i style="background:linear-gradient(90deg,#86ff78 0.5px,#86ff78 4.5px,#c40b11 5.5px,#fd1a31 6.5px,#ff302e 7.5px,#ff5a22 8.5px,#ffa119 9.5px,#ffc61d 10.5px,#fdf32d 13.5px,#f2fb36 14.5px,#d5ff47 17.5px,#baff53 22.5px,#a0ff62 34.5px,#86ff78 151.5px)"></i><i style="background:linear-gradient(90deg,#85ff79 0.5px,#85ff79 4.5px,#d50d16 5.5px,#fd1b32 6.5px,#ff332d 7.5px,#ff6320 8.5px,#ffaa1a 9.5px,#ffca1d 10.5px,#fcf62e 13.5px,#eefc38 14.5px,#d9ff45 16.5px,#b6ff55 22.5px,#9eff64 34.5px,#85ff79 151.5px)"></i><i style="background:linear-gradient(90deg,#84ff7a 0.5px,#84ff7a 4.5px,#df0f18 5.5px,#fe1c34 6.5px,#ff362b 7.5px,#ff6d1e 8.5px,#ffb11b 9.5px,#ffce1e 10.5px,#fcfa30 13.5px,#eafc3b 14.5px,#d5ff47 16.5px,#b3ff56 22.5px,#9dff65 34.5px,#84ff7a 151.5px)"></i><i style="background:linear-gradient(90deg,#83ff7b 0.5px,#83ff7b 4.5px,#e6101c 5.5px,#ff1d36 6.5px,#ff392a 7.5px,#ff761d 8.5px,#ffb61b 9.5px,#ffd21e 10.5px,#f8fb32 13.5px,#e6fd3d 14.5px,#d2ff48 16.5px,#afff58 22.5px,#9bff67 34.5px,#83ff7b 151.5px)"></i><i style="background:linear-gradient(90deg,#81ff7d 0.5px,#81ff7d 4.5px,#eb111f 5.5px,#ff1f37 6.5px,#ff3c28 7.5px,#ff7e1c 8.5px,#ffbb1c 9.5px,#ffd51f 10.5px,#fdf22c 12.5px,#e2fd3f 14.5px,#cfff49 16.5px,#acff59 22.5px,#99ff68 34.5px,#81ff7d 151.5px)"></i><i style="background:linear-gradient(90deg,#7eff7f 0.5px,#7eff7f 4.5px,#f11223 5.5px,#ff2235 6.5px,#ff4127 7.5px,#ff871c 8.5px,#ffbf1c 9.5px,#ffd821 10.5px,#fcf52e 12.5px,#defe42 14.5px,#acff59 21.5px,#97ff6a 34.5px,#7eff7f 151.5px)"></i><i style="background:linear-gradient(90deg,#7bff81 0.5px,#7bff81 4.5px,#f71326 5.5px,#ff2534 6.5px,#ff4826 7.5px,#ff901b 8.5px,#ffc41d 9.5px,#fedc22 10.5px,#fcf82f 12.5px,#daff44 14.5px,#a9ff5b 21.5px,#96ff6b 33.5px,#7cff81 151.5px)"></i><i style="background:linear-gradient(90deg,#79ff84 0.5px,#79ff84 4.5px,#fa1529 5.5px,#ff2832 6.5px,#ff4e24 7.5px,#ff991a 8.5px,#ffc81d 9.5px,#fedf24 10.5px,#fafa31 12.5px,#d6ff46 14.5px,#a6ff5d 21.5px,#94ff6c 33.5px,#79ff83 151.5px)"></i><i style="background:linear-gradient(90deg,#76ff86 0.5px,#76ff86 4.5px,#fb162c 5.5px,#ff2b30 6.5px,#ff5423 7.5px,#ffa119 8.5px,#ffcd1d 9.5px,#fdf12c 11.5px,#f5fb34 12.5px,#e2fe3f 13.5px,#caff4c 15.5px,#a7ff5d 20.5px,#94ff6c 31.5px,#83ff7b 123.5px,#76ff86 151.5px)"></i><i style="background:linear-gradient(90deg,#73ff88 0.5px,#73ff88 4.5px,#fc182d 5.5px,#ff2f2f 6.5px,#ff5d21 7.5px,#ffaa1a 8.5px,#ffd21e 9.5px,#fcf42d 11.5px,#defe42 13.5px,#b7ff54 17.5px,#a4ff5f 20.5px,#92ff6e 31.5px,#83ff7b 115.5px,#74ff88 151.5px)"></i><i style="background:linear-gradient(90deg,#71ff8a 0.5px,#71ff8a 4.5px,#fc192f 5.5px,#ff322d 6.5px,#ff671f 7.5px,#ffb11b 8.5px,#ffd520 9.5px,#fcf72f 11.5px,#d9ff45 13.5px,#b2ff57 17.5px,#a1ff62 20.5px,#90ff70 31.5px,#81ff7c 110.5px,#71ff8a 151.5px)"></i><i style="background:linear-gradient(90deg,#6eff8c 0.5px,#6eff8c 4.5px,#fd1a31 5.5px,#ff352b 6.5px,#ff711e 7.5px,#ffb71b 8.5px,#fed921 9.5px,#fbfa31 11.5px,#d5ff47 13.5px,#adff59 17.5px,#9eff64 20.5px,#8fff71 30.5px,#7fff7e 110.5px,#6eff8c 151.5px)"></i><i style="background:linear-gradient(90deg,#6cff8f 0.5px,#6cff8f 4.5px,#fe1c33 5.5px,#ff392a 6.5px,#ff7b1d 7.5px,#ffbd1c 8.5px,#fedd23 9.5px,#f6fb34 11.5px,#e2fe40 12.5px,#b1ff57 16.5px,#a3ff60 18.5px,#95ff6b 22.5px,#8eff72 29.5px,#6cff8f 151.5px)"></i><i style="background:linear-gradient(90deg,#69ff91 0.5px,#69ff91 3.5px,#bb090e 4.5px,#fe1d35 5.5px,#ff3c28 6.5px,#ff851c 7.5px,#ffc21c 8.5px,#fee125 9.5px,#fdf32d 10.5px,#ddfe42 12.5px,#acff59 16.5px,#a0ff63 18.5px,#95ff6c 21.5px,#8cff73 28.5px,#69ff91 151.5px)"></i><i style="background:linear-gradient(90deg,#67ff93 0.5px,#67ff93 3.5px,#cb0c13 4.5px,#ff1e37 5.5px,#ff4327 6.5px,#ff8f1b 7.5px,#ffc81d 8.5px,#fee526 9.5px,#fcf62e 10.5px,#d8ff45 12.5px,#b1ff57 15.5px,#a1ff61 17.5px,#92ff6e 21.5px,#8cff73 26.5px,#67ff93 151.5px)"></i><i style="background:linear-gradient(90deg,#65ff96 0.5px,#65ff96 3.5px,#dc0e18 4.5px,#ff2235 5.5px,#ff4a25 6.5px,#ff991a 7.5px,#ffce1e 8.5px,#fcfa30 10.5px,#d4ff47 12.5px,#a4ff5f 16.5px,#94ff6c 19.5px,#8cff73 23.5px,#65ff95 151.5px)"></i><i style="background:linear-gradient(90deg,#63ff98 0.5px,#63ff98 3.5px,#ea111e 4.5px,#ff2633 5.5px,#ff5124 6.5px,#ffa319 7.5px,#ffd31f 8.5px,#fdec2a 9.5px,#f7fb33 10.5px,#e1fe40 11.5px,#a7ff5c 15.5px,#95ff6c 18.5px,#8bff74 22.5px,#64ff98 151.5px)"></i><i style="background:linear-gradient(90deg,#62ff9a 0.5px,#62ff9a 3.5px,#f61326 4.5px,#ff2a31 5.5px,#ff5922 6.5px,#ffac1a 7.5px,#ffd821 8.5px,#fdf02c 9.5px,#f1fb36 10.5px,#dcfe43 11.5px,#a3ff60 15.5px,#91ff6f 18.5px,#89ff76 22.5px,#62ff9a 151.5px)"></i><i style="background:linear-gradient(90deg,#60ff9d 0.5px,#60ff9d 3.5px,#fb162b 4.5px,#ff2f2e 5.5px,#ff671f 6.5px,#ffb41b 7.5px,#fedd23 8.5px,#fcf42d 9.5px,#d7ff46 11.5px,#9eff64 15.5px,#8eff72 18.5px,#86ff78 22.5px,#77ff85 54.5px,#60ff9c 151.5px)"></i><i style="background:linear-gradient(90deg,#5eff9f 0.5px,#5eff9f 3.5px,#fc182e 4.5px,#ff342c 5.5px,#ff741d 6.5px,#ffbb1c 7.5px,#fee225 8.5px,#fcf82f 9.5px,#d3ff48 11.5px,#a3ff60 14.5px,#9aff67 15.5px,#85ff79 21.5px,#75ff87 54.5px,#5eff9f 151.5px)"></i><i style="background:linear-gradient(90deg,#5cffa1 0.5px,#5cffa1 3.5px,#fd1a31 4.5px,#ff382a 5.5px,#ff811c 6.5px,#ffc21c 7.5px,#fde627 8.5px,#f9fa32 9.5px,#e1fe40 10.5px,#9eff64 14.5px,#8bff74 17.5px,#83ff7b 21.5px,#72ff89 54.5px,#5cffa1 151.5px)"></i><i style="background:linear-gradient(90deg,#5affa4 0.5px,#5affa4 3.5px,#fe1c34 4.5px,#ff3e28 5.5px,#ff8e1b 6.5px,#ffca1d 7.5px,#fdeb29 8.5px,#f3fb35 9.5px,#dbfe44 10.5px,#a5ff5e 13.5px,#91ff6f 15.5px,#7eff7f 22.5px,#6fff8c 54.5px,#5affa3 151.5px)"></i><i style="background:linear-gradient(90deg,#58ffa6 0.5px,#58ffa6 2.5px,#c00a10 3.5px,#ff1f37 4.5px,#ff4925 5.5px,#ff9b1a 6.5px,#ffd11e 7.5px,#fdf02b 8.5px,#d6ff47 10.5px,#9fff63 13.5px,#94ff6c 14.5px,#85ff79 17.5px,#7bff82 22.5px,#6cff8e 54.5px,#58ffa6 151.5px)"></i><i style="background:linear-gradient(90deg,#56ffa8 0.5px,#56ffa8 2.5px,#d10d14 3.5px,#ff2434 4.5px,#ff5323 5.5px,#ffa71a 6.5px,#ffd720 7.5px,#fcf52e 8.5px,#d1ff49 10.5px,#c2ff4f 11.5px,#a9ff5b 12.5px,#8fff70 14.5px,#78ff84 22.5px,#6aff90 53.5px,#57ffa8 151.5px)"></i><i style="background:linear-gradient(90deg,#55ffab 0.5px,#55ffab 2.5px,#ec1120 3.5px,#ff2a31 4.5px,#ff6021 5.5px,#ffb21b 6.5px,#fedd23 7.5px,#fcfa30 8.5px,#e0fe41 9.5px,#a2ff61 12.5px,#94ff6c 13.5px,#7eff7f 17.5px,#75ff87 21.5px,#68ff92 49.5px,#55ffaa 151.5px)"></i><i style="background:linear-gradient(90deg,#52fead 0.5px,#52fead 1.5px,#bd0a0f 2.5px,#fb172c 3.5px,#ff302e 4.5px,#ff701e 5.5px,#ffbb1c 6.5px,#fee326 7.5px,#f5fb34 8.5px,#daff44 9.5px,#9bff67 12.5px,#8eff71 13.5px,#7aff82 17.5px,#72ff8a 21.5px,#53fead 151.5px)"></i><i style="background:linear-gradient(90deg,#50fdb0 0.5px,#50fdb0 1.5px,#cd0c13 2.5px,#fd1a30 3.5px,#ff372b 4.5px,#ff7f1c 5.5px,#ffc31c 6.5px,#fde928 7.5px,#eefc38 8.5px,#d4ff47 9.5px,#c3ff4f 10.5px,#a7ff5d 11.5px,#89ff75 13.5px,#76ff85 17.5px,#6eff8d 21.5px,#50fdb0 151.5px)"></i><i style="background:linear-gradient(90deg,#4efdb3 0.5px,#4efdb3 1.5px,#de0f18 2.5px,#fe1c35 3.5px,#ff3e28 4.5px,#ff8e1b 5.5px,#ffcb1d 6.5px,#fdef2b 7.5px,#e7fd3d 8.5px,#cfff49 9.5px,#bcff52 10.5px,#9fff63 11.5px,#8dff72 12.5px,#76ff86 16.5px,#6bff8f 21.5px,#4efdb3 151.5px)"></i><i style="background:linear-gradient(90deg,#4cfcb6 0.5px,#bf0a0f 1.5px,#ec111f 2.5px,#ff2135 3.5px,#ff4c25 4.5px,#ff9d1a 5.5px,#ffd41f 6.5px,#fcf52e 7.5px,#e0fe41 8.5px,#b1ff57 10.5px,#97ff6a 11.5px,#88ff77 12.5px,#72ff89 16.5px,#69ff91 20.5px,#4cfcb6 151.5px)"></i><i style="background:linear-gradient(90deg,#4afbb9 0.5px,#cf0c14 1.5px,#f81427 2.5px,#ff2832 3.5px,#ff5a22 4.5px,#ffab1a 5.5px,#fedb22 6.5px,#fafa31 7.5px,#d8ff45 8.5px,#c5ff4e 9.5px,#8eff71 11.5px,#82ff7b 12.5px,#6eff8d 16.5px,#66ff95 20.5px,#5affa4 95.5px,#4afbb8 151.5px)"></i><i style="background:linear-gradient(90deg,#48fbbc 0.5px,#db0e17 1.5px,#fb172c 2.5px,#ff2f2f 3.5px,#ff6a1f 4.5px,#ffb61b 5.5px,#fee225 6.5px,#f1fc37 7.5px,#d2ff48 8.5px,#bfff50 9.5px,#9dff64 10.5px,#88ff77 11.5px,#7eff7f 12.5px,#6aff90 16.5px,#64ff98 20.5px,#58ffa6 94.5px,#48fbbc 151.5px)"></i><i style="background:linear-gradient(90deg,#45f8c1 0.5px,#e30f1a 1.5px,#fd1930 2.5px,#ff352c 3.5px,#ff791d 4.5px,#ffbf1c 5.5px,#fde928 6.5px,#e7fd3c 7.5px,#ccff4b 8.5px,#b3ff56 9.5px,#94ff6c 10.5px,#79ff84 12.5px,#6aff90 15.5px,#61ff9b 20.5px,#56ffa9 95.5px,#45f8c1 151.5px)"></i><i style="background:linear-gradient(90deg,#42f4c8 0.5px,#e8101d 1.5px,#fe1c33 2.5px,#ff3b29 3.5px,#ff871c 4.5px,#ffc81d 5.5px,#fdf02b 6.5px,#defe42 7.5px,#a8ff5c 9.5px,#8bff73 10.5px,#7cff81 11.5px,#69ff91 14.5px,#60ff9d 19.5px,#55ffaa 93.5px,#42f4c7 151.5px)"></i><i style="background:linear-gradient(90deg,#3fefcf 0.5px,#ee1221 1.5px,#ff1e37 2.5px,#ff4726 3.5px,#ff961a 4.5px,#ffd21e 5.5px,#fcf72e 6.5px,#d5ff47 7.5px,#c0ff50 8.5px,#84ff7a 10.5px,#77ff85 11.5px,#66ff95 14.5px,#5dffa0 19.5px,#52feae 94.5px,#3fefce 151.5px)"></i><i style="background:linear-gradient(90deg,#b9080d 0.5px,#f31324 1.5px,#ff2533 2.5px,#ff5523 3.5px,#ffa419 4.5px,#feda21 5.5px,#f5fb34 6.5px,#ceff4a 7.5px,#b4ff56 8.5px,#94ff6c 9.5px,#71ff8a 11.5px,#63ff98 14.5px,#5bffa3 19.5px,#50fdb1 96.5px,#46fabe 122.5px,#3cead5 151.5px)"></i><i style="background:linear-gradient(90deg,#bf0a0f 0.5px,#f91427 1.5px,#ff2b31 2.5px,#ff6320 3.5px,#ffb11b 4.5px,#fee125 5.5px,#e7fd3c 6.5px,#c6ff4e 7.5px,#8bff74 9.5px,#6cff8e 11.5px,#60ff9c 14.5px,#58ffa6 19.5px,#4dfcb4 97.5px,#46fabe 116.5px,#39e6dc 151.5px)"></i><i style="background:linear-gradient(90deg,#d00d14 0.5px,#fb152a 1.5px,#ff302e 2.5px,#ff711e 3.5px,#ffbb1c 4.5px,#fde928 5.5px,#daff44 6.5px,#83ff7b 9.5px,#72ff89 10.5px,#63ff99 12.5px,#56ffa8 18.5px,#4bfcb8 99.5px,#35e1e3 151.5px)"></i><i style="background:linear-gradient(90deg,#d90e17 0.5px,#fc172d 1.5px,#ff352c 2.5px,#ff7e1c 3.5px,#ffc61d 4.5px,#fdf12c 5.5px,#ceff4a 6.5px,#93ff6d 8.5px,#6cff8e 10.5px,#5fff9e 12.5px,#54ffac 18.5px,#4afbb9 95.5px,#32ddea 151.5px)"></i><i style="background:linear-gradient(90deg,#dd0e18 0.5px,#fc192f 1.5px,#ff3a29 2.5px,#ff8c1b 3.5px,#ffd01e 4.5px,#fcf82f 5.5px,#c3ff4f 6.5px,#89ff75 8.5px,#67ff93 10.5px,#5bffa2 12.5px,#51feb0 18.5px,#46fabe 97.5px,#32dceb 142.5px,#2fc9f2 151.5px)"></i><i style="background:linear-gradient(90deg,#e10f19 0.5px,#fd1b32 1.5px,#ff4426 2.5px,#ff991a 3.5px,#fed921 4.5px,#e7fd3c 5.5px,#b6ff55 6.5px,#82ff7c 8.5px,#63ff99 10.5px,#58ffa6 12.5px,#4efdb4 18.5px,#46f9bf 91.5px,#32dbeb 133.5px,#2bb4fa 151.5px)"></i><i style="background:linear-gradient(90deg,#e4101b 0.5px,#fe1d35 1.5px,#ff4f24 2.5px,#ffa619 3.5px,#fee125 4.5px,#cfff49 5.5px,#a8ff5b 6.5px,#68ff92 9.5px,#58ffa6 11.5px,#4dfcb5 16.5px,#44f7c2 83.5px,#41f2ca 95.5px,#32dceb 125.5px,#279dff 151.5px)"></i><i style="background:linear-gradient(90deg,#e6101c 0.5px,#ff1f36 1.5px,#ff5b22 2.5px,#ffb31b 3.5px,#fdea29 4.5px,#bcff52 5.5px,#86ff78 7.5px,#63ff98 9.5px,#50fdb0 12.5px,#4afbb9 16.5px,#41f2ca 85.5px,#32dceb 117.5px,#2aaffb 137.5px,#268bff 149.5px,#ff302e 150.5px,#ff302e 151.5px)"></i><i style="background:linear-gradient(90deg,#e9111e 0.5px,#ff2434 1.5px,#ff6a1f 2.5px,#ffc51d 3.5px,#fdf32d 4.5px,#adff59 5.5px,#7dff80 7.5px,#5eff9e 9.5px,#50fdb1 11.5px,#49fbba 14.5px,#42f4c7 31.5px,#3dedd1 85.5px,#32dceb 110.5px,#2cbdf6 125.5px,#28a5ff 134.5px,#247aff 147.5px,#ff2d2f 148.5px,#ff332c 151.5px)"></i><i style="background:linear-gradient(90deg,#eb111f 0.5px,#ff2a31 1.5px,#ff781d 2.5px,#ffd620 3.5px,#cfff49 4.5px,#a0ff62 5.5px,#74ff87 7.5px,#59ffa4 9.5px,#49fbba 12.5px,#40f0cc 29.5px,#3be9d8 83.5px,#32dceb 104.5px,#2ab0fb 124.5px,#236eff 145.5px,#ff2a31 146.5px,#ff362b 151.5px)"></i><i style="background:linear-gradient(90deg,#ee1221 0.5px,#ff2f2f 1.5px,#ff861c 2.5px,#fee527 3.5px,#b1ff57 4.5px,#7eff7f 6.5px,#5eff9e 8.5px,#4dfcb5 10.5px,#44f7c2 14.5px,#3decd3 30.5px,#38e5de 79.5px,#32dcea 97.5px,#28a3ff 123.5px,#236eff 137.5px,#2570ff 143.5px,#ff2832 144.5px,#ff382a 151.5px)"></i><i style="background:linear-gradient(90deg,#f01222 0.5px,#ff342c 1.5px,#ff941a 2.5px,#fcf42d 3.5px,#a3ff60 4.5px,#74ff87 6.5px,#4ffdb2 9.5px,#44f6c3 12.5px,#3eeecf 18.5px,#3ae8d9 31.5px,#32dceb 90.5px,#2694ff 122.5px,#236fff 131.5px,#2671ff 142.5px,#ff2732 143.5px,#ff3b29 151.5px)"></i><i style="background:linear-gradient(90deg,#f31324 0.5px,#ff3929 1.5px,#ffa219 2.5px,#b7ff54 3.5px,#96ff6b 4.5px,#6aff90 6.5px,#4afbb9 9.5px,#41f2ca 12.5px,#3cebd4 17.5px,#37e4df 31.5px,#32dbeb 78.5px,#2ec8f2 91.5px,#28a6ff 106.5px,#268cff 118.5px,#236eff 126.5px,#2772ff 139.5px,#ff2534 140.5px,#ff3f27 151.5px)"></i><i style="background:linear-gradient(90deg,#f51325 0.5px,#ff4127 1.5px,#ffaf1a 2.5px,#a7ff5c 3.5px,#73ff88 5.5px,#4dfcb5 8.5px,#3eeed0 12.5px,#3ae7da 17.5px,#34e0e6 31.5px,#32dceb 58.5px,#2fcaf2 78.5px,#2bb4f9 92.5px,#2370ff 120.5px,#2873ff 134.5px,#2b76ff 136.5px,#ff2235 137.5px,#327cff 138.5px,#ff2534 139.5px,#ff3b29 149.5px,#ff4526 151.5px)"></i><i style="background:linear-gradient(90deg,#f81427 0.5px,#ff4c25 1.5px,#feda22 2.5px,#9bff67 3.5px,#68ff92 5.5px,#48fbbb 8.5px,#3decd3 11.5px,#37e3e0 17.5px,#31d8ec 32.5px,#2bb3fa 83.5px,#236eff 113.5px,#2873ff 129.5px,#327cff 132.5px,#428bff 134.5px,#ff2036 135.5px,#ff392a 147.5px,#ff4b25 151.5px)"></i><i style="background:linear-gradient(90deg,#fa1428 0.5px,#ff5822 1.5px,#bcff52 2.5px,#8eff72 3.5px,#73ff89 4.5px,#49fbb9 7.5px,#3ae7da 11.5px,#35e1e3 15.5px,#32dceb 23.5px,#2ec5f3 32.5px,#28a3ff 82.5px,#236eff 103.5px,#2873ff 124.5px,#2d78ff 126.5px,#5ca1ff 131.5px,#ff1e37 132.5px,#ff3b28 147.5px,#ff5124 151.5px)"></i><i style="background:linear-gradient(90deg,#fa1529 0.5px,#ff6c1e 1.5px,#abff5a 2.5px,#83ff7a 3.5px,#68ff93 4.5px,#4cfcb6 6.5px,#37e3e1 11.5px,#32dceb 16.5px,#2fc9f2 21.5px,#2ab2fa 31.5px,#268fff 82.5px,#236eff 95.5px,#2f79ff 121.5px,#5da2ff 125.5px,#7bb6ff 128.5px,#ff1d36 129.5px,#ff342c 143.5px,#ff3c28 146.5px,#ff5723 151.5px)"></i><i style="background:linear-gradient(90deg,#fb152a 0.5px,#ff7f1c 1.5px,#9dff65 2.5px,#76ff86 3.5px,#5fff9d 4.5px,#47fabc 6.5px,#34dee8 11.5px,#2bb4fa 19.5px,#279eff 30.5px,#247bff 79.5px,#236eff 87.5px,#2873ff 109.5px,#357eff 114.5px,#579dff 118.5px,#87beff 122.5px,#fe1c34 123.5px,#ff1f37 130.5px,#ff312d 141.5px,#ff3d28 145.5px,#ff5c22 151.5px)"></i><i style="background:linear-gradient(90deg,#fc172d 0.5px,#ff921b 1.5px,#8fff71 2.5px,#69ff91 3.5px,#49fbba 5.5px,#33dde9 10.5px,#2fccf1 11.5px,#2bb7f9 13.5px,#28a4ff 16.5px,#268bff 23.5px,#236fff 57.5px,#2873ff 100.5px,#2f7aff 104.5px,#4b93ff 109.5px,#68a9ff 113.5px,#93c6ff 117.5px,#fe1b33 118.5px,#ff1f37 128.5px,#ff342c 141.5px,#ff3c28 144.5px,#ff6220 151.5px)"></i><i style="background:linear-gradient(90deg,#fd1a31 0.5px,#ffa519 1.5px,#84ff7a 2.5px,#5fff9d 3.5px,#4dfcb4 4.5px,#3eefcf 6.5px,#32ddea 9.5px,#29acfd 11.5px,#268fff 14.5px,#247dff 18.5px,#236eff 31.5px,#2873ff 92.5px,#317cff 96.5px,#93c6ff 111.5px,#fd1a32 112.5px,#fd1b32 114.5px,#afd6ff 115.5px,#fe1b33 116.5px,#ff1f37 126.5px,#ff362b 141.5px,#ff681f 151.5px)"></i><i style="background:linear-gradient(90deg,#fe1c35 0.5px,#bdff52 1.5px,#74ff88 2.5px,#56ffa9 3.5px,#3ff0cd 5.5px,#32dceb 8.5px,#2bb3fa 9.5px,#2798ff 10.5px,#2581ff 12.5px,#236eff 16.5px,#2974ff 84.5px,#337dff 88.5px,#97c9ff 104.5px,#fd1a30 105.5px,#a4d0ff 106.5px,#a9d2ff 107.5px,#fd1a31 108.5px,#ff2036 125.5px,#ff392a 141.5px,#ff6e1e 151.5px)"></i><i style="background:linear-gradient(90deg,#ff2135 0.5px,#a6ff5d 1.5px,#65ff96 2.5px,#4bfcb7 3.5px,#3ae8d8 5.5px,#31d7ed 7.5px,#28a3ff 8.5px,#2586ff 9.5px,#2371ff 11.5px,#236eff 12.5px,#2873ff 47.5px,#2f79ff 63.5px,#458dff 81.5px,#599fff 86.5px,#8ac0ff 94.5px,#fc182e 95.5px,#97c9ff 96.5px,#a9d2ff 99.5px,#fc192f 100.5px,#ff1e37 121.5px,#ff362b 138.5px,#ff3b28 141.5px,#ff731d 151.5px)"></i><i style="background:linear-gradient(90deg,#ff2a31 0.5px,#94ff6d 1.5px,#59ffa5 2.5px,#45f8c1 3.5px,#35e1e4 5.5px,#2fc9f2 6.5px,#2589ff 7.5px,#236fff 9.5px,#317bff 35.5px,#5aa0ff 55.5px,#78b4ff 79.5px,#94c6ff 87.5px,#fc172d 88.5px,#ff1d36 117.5px,#ff312d 134.5px,#ff4027 141.5px,#ff791d 151.5px)"></i><i style="background:linear-gradient(90deg,#ff362b 0.5px,#83ff7a 1.5px,#4dfcb5 2.5px,#3eedd1 3.5px,#35e1e3 4.5px,#2cbcf7 5.5px,#2581ff 6.5px,#2372ff 7.5px,#2873ff 14.5px,#448cff 21.5px,#5ba0ff 37.5px,#92c5ff 55.5px,#b5d9ff 81.5px,#fb172c 82.5px,#bbdcff 83.5px,#bedeff 84.5px,#fc172d 85.5px,#c6e2ff 86.5px,#fc182e 87.5px,#ff1e36 115.5px,#ff342c 134.5px,#ff4626 141.5px,#ff7e1c 151.5px)"></i><i style="background:linear-gradient(90deg,#ff4a25 0.5px,#6cff8f 1.5px,#44f6c4 2.5px,#37e3e1 3.5px,#2bb6f9 4.5px,#247bff 5.5px,#246fff 6.5px,#2b76ff 11.5px,#569dff 16.5px,#68a9ff 20.5px,#7fb9ff 35.5px,#b9dbff 53.5px,#e1f0ff 70.5px,#fb152a 71.5px,#fb152a 72.5px,#e7f3ff 73.5px,#e8f4ff 74.5px,#fb162b 75.5px,#ecf6ff 76.5px,#fb162c 77.5px,#ff1f36 115.5px,#ff302e 130.5px,#ff3e28 138.5px,#ff841c 151.5px)"></i><i style="background:linear-gradient(90deg,#ff701e 0.5px,#59ffa5 1.5px,#3be9d8 2.5px,#2cbcf7 3.5px,#2475ff 4.5px,#2570ff 5.5px,#2b76ff 9.5px,#589eff 11.5px,#66a8ff 12.5px,#86beff 17.5px,#add4ff 39.5px,#c7e2ff 47.5px,#f2f8ff 57.5px,#f7fbff 60.5px,#f71326 61.5px,#f8fcff 62.5px,#f9fcff 63.5px,#fa1428 64.5px,#fa1428 66.5px,#fcfdff 67.5px,#fa1529 68.5px,#ff1e37 111.5px,#ff332d 130.5px,#ff4426 138.5px,#ff891b 151.5px)"></i><i style="background:linear-gradient(90deg,#ffa019 0.5px,#48fbbc 1.5px,#31d6ed 2.5px,#2370ff 3.5px,#2b76ff 7.5px,#428aff 8.5px,#66a8ff 9.5px,#80b9ff 10.5px,#90c4ff 11.5px,#a0ceff 13.5px,#aed5ff 19.5px,#bdddff 36.5px,#f6faff 50.5px,#fafcff 54.5px,#f31324 55.5px,#fa1529 64.5px,#ff1f37 108.5px,#ff352b 130.5px,#ff4925 138.5px,#ff8f1b 151.5px)"></i><i style="background:linear-gradient(90deg,#a2ff61 0.5px,#3ae8d8 1.5px,#2372ff 2.5px,#2b76ff 4.5px,#3b84ff 5.5px,#9acaff 8.5px,#a9d2ff 9.5px,#b5d9ff 11.5px,#c4e1ff 18.5px,#cfe7ff 34.5px,#f4faff 43.5px,#fbfdff 49.5px,#f01222 50.5px,#fa1428 61.5px,#ff1e37 106.5px,#ff382a 130.5px,#ff4027 134.5px,#ff5c22 141.5px,#ff941a 151.5px)"></i><i style="background:linear-gradient(90deg,#73ff88 0.5px,#28a0ff 1.5px,#2c77ff 2.5px,#4c93ff 3.5px,#aad3ff 6.5px,#c1dfff 8.5px,#cde6ff 10.5px,#ddeeff 18.5px,#e3f1ff 32.5px,#f8fcff 41.5px,#ed1120 42.5px,#ee1221 43.5px,#fbfdff 44.5px,#fcfeff 45.5px,#ef1221 46.5px,#fa1428 58.5px,#ff1e37 101.5px,#ff3a29 130.5px,#ff6121 141.5px,#ff9a1a 151.5px)"></i><i style="background:linear-gradient(90deg,#45f8c1 0.5px,#337dff 1.5px,#6babff 2.5px,#abd3ff 4.5px,#c3e0ff 5.5px,#dceeff 7.5px,#e9f4ff 9.5px,#f5faff 14.5px,#fbfdff 39.5px,#ee1221 40.5px,#fa1428 57.5px,#ff1e37 100.5px,#ff372a 126.5px,#ff3d28 130.5px,#ff5a22 138.5px,#ff9f19 151.5px)"></i><i style="background:linear-gradient(90deg,#2671ff 0.5px,#8ac0ff 1.5px,#b4d8ff 2.5px,#e9f4ff 4.5px,#f5faff 5.5px,#f7fbff 6.5px,#fafdff 33.5px,#ec1120 34.5px,#fa1429 55.5px,#ff1e37 95.5px,#ff2334 107.5px,#ff3a29 126.5px,#ff5f21 138.5px,#ffa419 151.5px)"></i><i style="background:linear-gradient(90deg,#fcfdff 0.5px,#feffff 30.5px,#eb111f 31.5px,#fa1428 51.5px,#ff1e37 93.5px,#ff2533 107.5px,#ff3b28 125.5px,#ff6520 138.5px,#ffa91a 151.5px)"></i></div>
<svg width="830" height="386" viewBox="0 0 830 386">
<defs>
<linearGradient id="cbar" x1="0" y1="0" x2="0" y2="1"><stop offset="0.0000" stop-color="#af050a"/><stop offset="0.0142" stop-color="#be0a0f"/><stop offset="0.0472" stop-color="#e10f19"/><stop offset="0.0849" stop-color="#fa1428"/><stop offset="0.1368" stop-color="#ff1e37"/><stop offset="0.1934" stop-color="#ff3c28"/><stop offset="0.2358" stop-color="#ff6e1e"/><stop offset="0.2830" stop-color="#ffa219"/><stop offset="0.3302" stop-color="#ffd21e"/><stop offset="0.3774" stop-color="#fcfa30"/><stop offset="0.4151" stop-color="#d7ff46"/><stop offset="0.4717" stop-color="#aaff5a"/><stop offset="0.5189" stop-color="#8cff73"/><stop offset="0.5896" stop-color="#69ff91"/><stop offset="0.6462" stop-color="#55ffaa"/><stop offset="0.6840" stop-color="#46fabe"/><stop offset="0.7264" stop-color="#32dceb"/><stop offset="0.7594" stop-color="#28a5ff"/><stop offset="0.7877" stop-color="#236eff"/><stop offset="0.8160" stop-color="#2873ff"/><stop offset="0.8538" stop-color="#5aa0ff"/><stop offset="0.8962" stop-color="#96c8ff"/><stop offset="0.9434" stop-color="#d7ebff"/><stop offset="0.9623" stop-color="#f5faff"/><stop offset="1.0000" stop-color="#ffffff"/></linearGradient>
<radialGradient id="ph1" gradientUnits="userSpaceOnUse" cx="99.4" cy="303" r="260.0"><stop offset="0.00000" stop-color="#c00a10"/><stop offset="0.05576" stop-color="#e10f19"/><stop offset="0.08297" stop-color="#fa1428"/><stop offset="0.10997" stop-color="#ff1e37"/><stop offset="0.13341" stop-color="#ff3c28"/><stop offset="0.14865" stop-color="#ff6e1e"/><stop offset="0.16397" stop-color="#ffa219"/><stop offset="0.17803" stop-color="#ffd21e"/><stop offset="0.19111" stop-color="#fcfa30"/><stop offset="0.20099" stop-color="#d7ff46"/><stop offset="0.21501" stop-color="#aaff5a"/><stop offset="0.22608" stop-color="#8cff73"/><stop offset="0.24179" stop-color="#69ff91"/><stop offset="0.25372" stop-color="#55ffaa"/><stop offset="0.26140" stop-color="#46fabe"/><stop offset="0.26981" stop-color="#32dceb"/><stop offset="0.27618" stop-color="#28a5ff"/><stop offset="0.28155" stop-color="#236eff"/><stop offset="0.28682" stop-color="#2873ff"/><stop offset="0.29372" stop-color="#5aa0ff"/><stop offset="0.30132" stop-color="#96c8ff"/><stop offset="0.30957" stop-color="#d7ebff"/><stop offset="0.31282" stop-color="#f5faff"/><stop offset="0.31923" stop-color="#ffffff"/><stop offset="0.31923" stop-color="#af050a"/><stop offset="0.32160" stop-color="#be0a0f"/><stop offset="0.32709" stop-color="#e10f19"/><stop offset="0.33326" stop-color="#fa1428"/><stop offset="0.34159" stop-color="#ff1e37"/><stop offset="0.35050" stop-color="#ff3c28"/><stop offset="0.35705" stop-color="#ff6e1e"/><stop offset="0.36421" stop-color="#ffa219"/><stop offset="0.37127" stop-color="#ffd21e"/><stop offset="0.37821" stop-color="#fcfa30"/><stop offset="0.38369" stop-color="#d7ff46"/><stop offset="0.39180" stop-color="#aaff5a"/><stop offset="0.39845" stop-color="#8cff73"/><stop offset="0.40827" stop-color="#69ff91"/><stop offset="0.41599" stop-color="#55ffaa"/><stop offset="0.42108" stop-color="#46fabe"/><stop offset="0.42674" stop-color="#32dceb"/><stop offset="0.43111" stop-color="#28a5ff"/><stop offset="0.43483" stop-color="#236eff"/><stop offset="0.43852" stop-color="#2873ff"/><stop offset="0.44340" stop-color="#5aa0ff"/><stop offset="0.44885" stop-color="#96c8ff"/><stop offset="0.45485" stop-color="#d7ebff"/><stop offset="0.45723" stop-color="#f5faff"/><stop offset="0.46197" stop-color="#ffffff"/><stop offset="0.46197" stop-color="#af050a"/><stop offset="0.46373" stop-color="#be0a0f"/><stop offset="0.46784" stop-color="#e10f19"/><stop offset="0.47249" stop-color="#fa1428"/><stop offset="0.47884" stop-color="#ff1e37"/><stop offset="0.48570" stop-color="#ff3c28"/><stop offset="0.49079" stop-color="#ff6e1e"/><stop offset="0.49641" stop-color="#ffa219"/><stop offset="0.50198" stop-color="#ffd21e"/><stop offset="0.50751" stop-color="#fcfa30"/><stop offset="0.51191" stop-color="#d7ff46"/><stop offset="0.51845" stop-color="#aaff5a"/><stop offset="0.52385" stop-color="#8cff73"/><stop offset="0.53189" stop-color="#69ff91"/><stop offset="0.53826" stop-color="#55ffaa"/><stop offset="0.54248" stop-color="#46fabe"/><stop offset="0.54720" stop-color="#32dceb"/><stop offset="0.55086" stop-color="#28a5ff"/><stop offset="0.55397" stop-color="#236eff"/><stop offset="0.55708" stop-color="#2873ff"/><stop offset="0.56120" stop-color="#5aa0ff"/><stop offset="0.56582" stop-color="#96c8ff"/><stop offset="0.57092" stop-color="#d7ebff"/><stop offset="0.57295" stop-color="#f5faff"/><stop offset="0.57700" stop-color="#ffffff"/><stop offset="0.57700" stop-color="#af050a"/><stop offset="0.57851" stop-color="#be0a0f"/><stop offset="0.58203" stop-color="#e10f19"/><stop offset="0.58604" stop-color="#fa1428"/><stop offset="0.59152" stop-color="#ff1e37"/><stop offset="0.59746" stop-color="#ff3c28"/><stop offset="0.60189" stop-color="#ff6e1e"/><stop offset="0.60680" stop-color="#ffa219"/><stop offset="0.61167" stop-color="#ffd21e"/><stop offset="0.61653" stop-color="#fcfa30"/><stop offset="0.62039" stop-color="#d7ff46"/><stop offset="0.62616" stop-color="#aaff5a"/><stop offset="0.63094" stop-color="#8cff73"/><stop offset="0.63808" stop-color="#69ff91"/><stop offset="0.64375" stop-color="#55ffaa"/><stop offset="0.64752" stop-color="#46fabe"/><stop offset="0.65174" stop-color="#32dceb"/><stop offset="0.65501" stop-color="#28a5ff"/><stop offset="0.65780" stop-color="#236eff"/><stop offset="0.66059" stop-color="#2873ff"/><stop offset="0.66430" stop-color="#5aa0ff"/><stop offset="0.66846" stop-color="#96c8ff"/><stop offset="0.67306" stop-color="#d7ebff"/><stop offset="0.67490" stop-color="#f5faff"/><stop offset="0.67856" stop-color="#ffffff"/><stop offset="0.67856" stop-color="#af050a"/><stop offset="0.67993" stop-color="#be0a0f"/><stop offset="0.68312" stop-color="#e10f19"/><stop offset="0.68676" stop-color="#fa1428"/><stop offset="0.69174" stop-color="#ff1e37"/><stop offset="0.69716" stop-color="#ff3c28"/><stop offset="0.70120" stop-color="#ff6e1e"/><stop offset="0.70568" stop-color="#ffa219"/><stop offset="0.71014" stop-color="#ffd21e"/><stop offset="0.71459" stop-color="#fcfa30"/><stop offset="0.71814" stop-color="#d7ff46"/><stop offset="0.72344" stop-color="#aaff5a"/><stop offset="0.72785" stop-color="#8cff73"/><stop offset="0.73443" stop-color="#69ff91"/><stop offset="0.73967" stop-color="#55ffaa"/><stop offset="0.74315" stop-color="#46fabe"/><stop offset="0.74706" stop-color="#32dceb"/><stop offset="0.75009" stop-color="#28a5ff"/><stop offset="0.75268" stop-color="#236eff"/><stop offset="0.75527" stop-color="#2873ff"/><stop offset="0.75871" stop-color="#5aa0ff"/><stop offset="0.76258" stop-color="#96c8ff"/><stop offset="0.76686" stop-color="#d7ebff"/><stop offset="0.76857" stop-color="#f5faff"/><stop offset="0.77199" stop-color="#ffffff"/><stop offset="0.77199" stop-color="#af050a"/><stop offset="0.77327" stop-color="#be0a0f"/><stop offset="0.77624" stop-color="#e10f19"/><stop offset="0.77964" stop-color="#fa1428"/><stop offset="0.78430" stop-color="#ff1e37"/><stop offset="0.78937" stop-color="#ff3c28"/><stop offset="0.79315" stop-color="#ff6e1e"/><stop offset="0.79735" stop-color="#ffa219"/><stop offset="0.80154" stop-color="#ffd21e"/><stop offset="0.80572" stop-color="#fcfa30"/><stop offset="0.80906" stop-color="#d7ff46"/><stop offset="0.81405" stop-color="#aaff5a"/><stop offset="0.81819" stop-color="#8cff73"/><stop offset="0.82439" stop-color="#69ff91"/><stop offset="0.82934" stop-color="#55ffaa"/><stop offset="0.83263" stop-color="#46fabe"/><stop offset="0.83632" stop-color="#32dceb"/><stop offset="0.83919" stop-color="#28a5ff"/><stop offset="0.84164" stop-color="#236eff"/><stop offset="0.84409" stop-color="#2873ff"/><stop offset="0.84735" stop-color="#5aa0ff"/><stop offset="0.85102" stop-color="#96c8ff"/><stop offset="0.85508" stop-color="#d7ebff"/><stop offset="0.85670" stop-color="#f5faff"/><stop offset="0.85994" stop-color="#ffffff"/><stop offset="0.85994" stop-color="#af050a"/><stop offset="0.86115" stop-color="#be0a0f"/><stop offset="0.86398" stop-color="#e10f19"/><stop offset="0.86721" stop-color="#fa1428"/><stop offset="0.87164" stop-color="#ff1e37"/><stop offset="0.87646" stop-color="#ff3c28"/><stop offset="0.88006" stop-color="#ff6e1e"/><stop offset="0.88406" stop-color="#ffa219"/><stop offset="0.88806" stop-color="#ffd21e"/><stop offset="0.89204" stop-color="#fcfa30"/><stop offset="0.89522" stop-color="#d7ff46"/><stop offset="0.89999" stop-color="#aaff5a"/><stop offset="0.90395" stop-color="#8cff73"/><stop offset="0.90988" stop-color="#69ff91"/><stop offset="0.91461" stop-color="#55ffaa"/><stop offset="0.91775" stop-color="#46fabe"/><stop offset="0.92129" stop-color="#32dceb"/><stop offset="0.92404" stop-color="#28a5ff"/><stop offset="0.92639" stop-color="#236eff"/><stop offset="0.92874" stop-color="#2873ff"/><stop offset="0.93186" stop-color="#5aa0ff"/><stop offset="0.93538" stop-color="#96c8ff"/><stop offset="0.93928" stop-color="#d7ebff"/><stop offset="0.94083" stop-color="#f5faff"/><stop offset="0.94394" stop-color="#ffffff"/><stop offset="0.94394" stop-color="#af050a"/><stop offset="0.94511" stop-color="#be0a0f"/><stop offset="0.94783" stop-color="#e10f19"/><stop offset="0.95093" stop-color="#fa1428"/><stop offset="0.95519" stop-color="#ff1e37"/><stop offset="0.95982" stop-color="#ff3c28"/><stop offset="0.96329" stop-color="#ff6e1e"/><stop offset="0.96715" stop-color="#ffa219"/><stop offset="0.97099" stop-color="#ffd21e"/><stop offset="0.97483" stop-color="#fcfa30"/><stop offset="0.97790" stop-color="#d7ff46"/><stop offset="0.98249" stop-color="#aaff5a"/><stop offset="0.98631" stop-color="#8cff73"/><stop offset="0.99203" stop-color="#69ff91"/><stop offset="0.99660" stop-color="#55ffaa"/><stop offset="0.99964" stop-color="#46fabe"/></radialGradient>
<radialGradient id="ph2" gradientUnits="userSpaceOnUse" cx="446.6" cy="303" r="260.0"><stop offset="0.00000" stop-color="#c00a10"/><stop offset="0.05576" stop-color="#e10f19"/><stop offset="0.08297" stop-color="#fa1428"/><stop offset="0.10997" stop-color="#ff1e37"/><stop offset="0.13341" stop-color="#ff3c28"/><stop offset="0.14865" stop-color="#ff6e1e"/><stop offset="0.16397" stop-color="#ffa219"/><stop offset="0.17803" stop-color="#ffd21e"/><stop offset="0.19111" stop-color="#fcfa30"/><stop offset="0.20099" stop-color="#d7ff46"/><stop offset="0.21501" stop-color="#aaff5a"/><stop offset="0.22608" stop-color="#8cff73"/><stop offset="0.24179" stop-color="#69ff91"/><stop offset="0.25372" stop-color="#55ffaa"/><stop offset="0.26140" stop-color="#46fabe"/><stop offset="0.26981" stop-color="#32dceb"/><stop offset="0.27618" stop-color="#28a5ff"/><stop offset="0.28155" stop-color="#236eff"/><stop offset="0.28682" stop-color="#2873ff"/><stop offset="0.29372" stop-color="#5aa0ff"/><stop offset="0.30132" stop-color="#96c8ff"/><stop offset="0.30957" stop-color="#d7ebff"/><stop offset="0.31282" stop-color="#f5faff"/><stop offset="0.31923" stop-color="#ffffff"/><stop offset="0.31923" stop-color="#af050a"/><stop offset="0.32160" stop-color="#be0a0f"/><stop offset="0.32709" stop-color="#e10f19"/><stop offset="0.33326" stop-color="#fa1428"/><stop offset="0.34159" stop-color="#ff1e37"/><stop offset="0.35050" stop-color="#ff3c28"/><stop offset="0.35705" stop-color="#ff6e1e"/><stop offset="0.36421" stop-color="#ffa219"/><stop offset="0.37127" stop-color="#ffd21e"/><stop offset="0.37821" stop-color="#fcfa30"/><stop offset="0.38369" stop-color="#d7ff46"/><stop offset="0.39180" stop-color="#aaff5a"/><stop offset="0.39845" stop-color="#8cff73"/><stop offset="0.40827" stop-color="#69ff91"/><stop offset="0.41599" stop-color="#55ffaa"/><stop offset="0.42108" stop-color="#46fabe"/><stop offset="0.42674" stop-color="#32dceb"/><stop offset="0.43111" stop-color="#28a5ff"/><stop offset="0.43483" stop-color="#236eff"/><stop offset="0.43852" stop-color="#2873ff"/><stop offset="0.44340" stop-color="#5aa0ff"/><stop offset="0.44885" stop-color="#96c8ff"/><stop offset="0.45485" stop-color="#d7ebff"/><stop offset="0.45723" stop-color="#f5faff"/><stop offset="0.46197" stop-color="#ffffff"/><stop offset="0.46197" stop-color="#af050a"/><stop offset="0.46373" stop-color="#be0a0f"/><stop offset="0.46784" stop-color="#e10f19"/><stop offset="0.47249" stop-color="#fa1428"/><stop offset="0.47884" stop-color="#ff1e37"/><stop offset="0.48570" stop-color="#ff3c28"/><stop offset="0.49079" stop-color="#ff6e1e"/><stop offset="0.49641" stop-color="#ffa219"/><stop offset="0.50198" stop-color="#ffd21e"/><stop offset="0.50751" stop-color="#fcfa30"/><stop offset="0.51191" stop-color="#d7ff46"/><stop offset="0.51845" stop-color="#aaff5a"/><stop offset="0.52385" stop-color="#8cff73"/><stop offset="0.53189" stop-color="#69ff91"/><stop offset="0.53826" stop-color="#55ffaa"/><stop offset="0.54248" stop-color="#46fabe"/><stop offset="0.54720" stop-color="#32dceb"/><stop offset="0.55086" stop-color="#28a5ff"/><stop offset="0.55397" stop-color="#236eff"/><stop offset="0.55708" stop-color="#2873ff"/><stop offset="0.56120" stop-color="#5aa0ff"/><stop offset="0.56582" stop-color="#96c8ff"/><stop offset="0.57092" stop-color="#d7ebff"/><stop offset="0.57295" stop-color="#f5faff"/><stop offset="0.57700" stop-color="#ffffff"/><stop offset="0.57700" stop-color="#af050a"/><stop offset="0.57851" stop-color="#be0a0f"/><stop offset="0.58203" stop-color="#e10f19"/><stop offset="0.58604" stop-color="#fa1428"/><stop offset="0.59152" stop-color="#ff1e37"/><stop offset="0.59746" stop-color="#ff3c28"/><stop offset="0.60189" stop-color="#ff6e1e"/><stop offset="0.60680" stop-color="#ffa219"/><stop offset="0.61167" stop-color="#ffd21e"/><stop offset="0.61653" stop-color="#fcfa30"/><stop offset="0.62039" stop-color="#d7ff46"/><stop offset="0.62616" stop-color="#aaff5a"/><stop offset="0.63094" stop-color="#8cff73"/><stop offset="0.63808" stop-color="#69ff91"/><stop offset="0.64375" stop-color="#55ffaa"/><stop offset="0.64752" stop-color="#46fabe"/><stop offset="0.65174" stop-color="#32dceb"/><stop offset="0.65501" stop-color="#28a5ff"/><stop offset="0.65780" stop-color="#236eff"/><stop offset="0.66059" stop-color="#2873ff"/><stop offset="0.66430" stop-color="#5aa0ff"/><stop offset="0.66846" stop-color="#96c8ff"/><stop offset="0.67306" stop-color="#d7ebff"/><stop offset="0.67490" stop-color="#f5faff"/><stop offset="0.67856" stop-color="#ffffff"/><stop offset="0.67856" stop-color="#af050a"/><stop offset="0.67993" stop-color="#be0a0f"/><stop offset="0.68312" stop-color="#e10f19"/><stop offset="0.68676" stop-color="#fa1428"/><stop offset="0.69174" stop-color="#ff1e37"/><stop offset="0.69716" stop-color="#ff3c28"/><stop offset="0.70120" stop-color="#ff6e1e"/><stop offset="0.70568" stop-color="#ffa219"/><stop offset="0.71014" stop-color="#ffd21e"/><stop offset="0.71459" stop-color="#fcfa30"/><stop offset="0.71814" stop-color="#d7ff46"/><stop offset="0.72344" stop-color="#aaff5a"/><stop offset="0.72785" stop-color="#8cff73"/><stop offset="0.73443" stop-color="#69ff91"/><stop offset="0.73967" stop-color="#55ffaa"/><stop offset="0.74315" stop-color="#46fabe"/><stop offset="0.74706" stop-color="#32dceb"/><stop offset="0.75009" stop-color="#28a5ff"/><stop offset="0.75268" stop-color="#236eff"/><stop offset="0.75527" stop-color="#2873ff"/><stop offset="0.75871" stop-color="#5aa0ff"/><stop offset="0.76258" stop-color="#96c8ff"/><stop offset="0.76686" stop-color="#d7ebff"/><stop offset="0.76857" stop-color="#f5faff"/><stop offset="0.77199" stop-color="#ffffff"/><stop offset="0.77199" stop-color="#af050a"/><stop offset="0.77327" stop-color="#be0a0f"/><stop offset="0.77624" stop-color="#e10f19"/><stop offset="0.77964" stop-color="#fa1428"/><stop offset="0.78430" stop-color="#ff1e37"/><stop offset="0.78937" stop-color="#ff3c28"/><stop offset="0.79315" stop-color="#ff6e1e"/><stop offset="0.79735" stop-color="#ffa219"/><stop offset="0.80154" stop-color="#ffd21e"/><stop offset="0.80572" stop-color="#fcfa30"/><stop offset="0.80906" stop-color="#d7ff46"/><stop offset="0.81405" stop-color="#aaff5a"/><stop offset="0.81819" stop-color="#8cff73"/><stop offset="0.82439" stop-color="#69ff91"/><stop offset="0.82934" stop-color="#55ffaa"/><stop offset="0.83263" stop-color="#46fabe"/><stop offset="0.83632" stop-color="#32dceb"/><stop offset="0.83919" stop-color="#28a5ff"/><stop offset="0.84164" stop-color="#236eff"/><stop offset="0.84409" stop-color="#2873ff"/><stop offset="0.84735" stop-color="#5aa0ff"/><stop offset="0.85102" stop-color="#96c8ff"/><stop offset="0.85508" stop-color="#d7ebff"/><stop offset="0.85670" stop-color="#f5faff"/><stop offset="0.85994" stop-color="#ffffff"/><stop offset="0.85994" stop-color="#af050a"/><stop offset="0.86115" stop-color="#be0a0f"/><stop offset="0.86398" stop-color="#e10f19"/><stop offset="0.86721" stop-color="#fa1428"/><stop offset="0.87164" stop-color="#ff1e37"/><stop offset="0.87646" stop-color="#ff3c28"/><stop offset="0.88006" stop-color="#ff6e1e"/><stop offset="0.88406" stop-color="#ffa219"/><stop offset="0.88806" stop-color="#ffd21e"/><stop offset="0.89204" stop-color="#fcfa30"/><stop offset="0.89522" stop-color="#d7ff46"/><stop offset="0.89999" stop-color="#aaff5a"/><stop offset="0.90395" stop-color="#8cff73"/><stop offset="0.90988" stop-color="#69ff91"/><stop offset="0.91461" stop-color="#55ffaa"/><stop offset="0.91775" stop-color="#46fabe"/><stop offset="0.92129" stop-color="#32dceb"/><stop offset="0.92404" stop-color="#28a5ff"/><stop offset="0.92639" stop-color="#236eff"/><stop offset="0.92874" stop-color="#2873ff"/><stop offset="0.93186" stop-color="#5aa0ff"/><stop offset="0.93538" stop-color="#96c8ff"/><stop offset="0.93928" stop-color="#d7ebff"/><stop offset="0.94083" stop-color="#f5faff"/><stop offset="0.94394" stop-color="#ffffff"/><stop offset="0.94394" stop-color="#af050a"/><stop offset="0.94511" stop-color="#be0a0f"/><stop offset="0.94783" stop-color="#e10f19"/><stop offset="0.95093" stop-color="#fa1428"/><stop offset="0.95519" stop-color="#ff1e37"/><stop offset="0.95982" stop-color="#ff3c28"/><stop offset="0.96329" stop-color="#ff6e1e"/><stop offset="0.96715" stop-color="#ffa219"/><stop offset="0.97099" stop-color="#ffd21e"/><stop offset="0.97483" stop-color="#fcfa30"/><stop offset="0.97790" stop-color="#d7ff46"/><stop offset="0.98249" stop-color="#aaff5a"/><stop offset="0.98631" stop-color="#8cff73"/><stop offset="0.99203" stop-color="#69ff91"/><stop offset="0.99660" stop-color="#55ffaa"/><stop offset="0.99964" stop-color="#46fabe"/></radialGradient>
<linearGradient id="pl" x1="0" y1="0" x2="1" y2="0.1"><stop offset="0" stop-color="#f5182a"/><stop offset="1" stop-color="#dc0a1a"/></linearGradient>
<linearGradient id="pr" x1="0" y1="0" x2="0.3" y2="1"><stop offset="0" stop-color="#c80813"/><stop offset="1" stop-color="#8e0004"/></linearGradient>
<linearGradient id="st" x1="0" y1="0" x2="0.4" y2="1"><stop offset="0" stop-color="#8f8f68"/><stop offset="1" stop-color="#aaa57c"/></linearGradient>
<linearGradient id="sr" x1="0" y1="0" x2="1" y2="0"><stop offset="0" stop-color="#9c8c62"/><stop offset="1" stop-color="#c0ab7e"/></linearGradient>
<filter id="sh" x="-50%" y="-50%" width="200%" height="200%"><feGaussianBlur stdDeviation="3.5"/></filter>
<clipPath id="cst"><polygon points="11.3,80.5 54.5,61.60000000000001 91,87.3 47.8,106.2"/></clipPath>
<marker id="ah" viewBox="0 0 10 10" refX="8.5" refY="5" markerWidth="5.6" markerHeight="5.0" orient="auto-start-reverse"><path d="M0,0.8 L10,5 L0,9.2 L2.5,5 Z" fill="#111"/></marker>
<marker id="ahb" viewBox="0 0 10 10" refX="8.5" refY="5" markerWidth="7" markerHeight="5.8" markerUnits="userSpaceOnUse" preserveAspectRatio="none" orient="auto-start-reverse"><path d="M0,0.6 L10,5 L0,9.4 L2.8,5 Z" fill="#111"/></marker>
<marker id="ahgb" viewBox="0 0 10 10" refX="8.5" refY="5" markerWidth="7" markerHeight="5.8" markerUnits="userSpaceOnUse" preserveAspectRatio="none" orient="auto-start-reverse"><path d="M0,0.6 L10,5 L0,9.4 L2.8,5 Z" fill="#0a7a0a"/></marker>
<marker id="ahg" viewBox="0 0 10 10" refX="8.5" refY="5" markerWidth="5.6" markerHeight="5.0" orient="auto-start-reverse"><path d="M0,0.8 L10,5 L0,9.2 L2.5,5 Z" fill="#0a7a0a"/></marker>
<filter id="blur" x="-50%" y="-50%" width="200%" height="200%"><feGaussianBlur stdDeviation="8"/></filter>
<filter id="pb" x="0" y="0" width="100%" height="100%"><feGaussianBlur stdDeviation="0.5"/></filter>
<filter id="nz" x="0" y="0" width="100%" height="100%" color-interpolation-filters="sRGB"><feTurbulence type="fractalNoise" baseFrequency="0.7" numOctaves="2" seed="4"/><feColorMatrix type="matrix" values="0.2 0 0 0 0.1  0.2 0 0 0 0.13  0.2 0 0 0 0.14  0 0 0 0 1"/></filter>
<rect id="p" x="-3" y="-2" width="6" height="4" rx="1.5" fill="#a0b0af" stroke="#dde6e4" stroke-width="0.9"/>
<rect id="m" x="-2.5" y="-2.5" width="5" height="5" rx="2.1" fill="#a4b4b3" stroke="#dde6e4" stroke-width="0.85"/>
<rect id="q" x="-2.5" y="-2.5" width="5" height="5" rx="1.25" fill="#a0b0af" stroke="#dde6e4" stroke-width="0.85"/>
<clipPath id="cliptop"><rect x="566.6" y="0.9" width="262.5" height="126.89999999999999"/></clipPath>
<clipPath id="clipmid"><rect x="566.6" y="128.5" width="262.5" height="128.5"/></clipPath>
<clipPath id="clipbot"><rect x="566.6" y="257.5" width="262.5" height="127.69999999999999"/></clipPath>
</defs>
<rect x="140.5" y="30.5" width="151.5" height="151.5" fill="none" stroke="#111" stroke-width="1.1"/>
<line x1="140.5" y1="182" x2="140.5" y2="186" stroke="#111" stroke-width="1.1"/>
<line x1="216.25" y1="182" x2="216.25" y2="186" stroke="#111" stroke-width="1.1"/>
<line x1="292.0" y1="182" x2="292.0" y2="186" stroke="#111" stroke-width="1.1"/>
<line x1="136.0" y1="30.5" x2="140.5" y2="30.5" stroke="#111" stroke-width="1.1"/>
<line x1="136.0" y1="106.25" x2="140.5" y2="106.25" stroke="#111" stroke-width="1.1"/>
<line x1="136.0" y1="182" x2="140.5" y2="182" stroke="#111" stroke-width="1.1"/>
<text x="215.25" y="23.8" font-size="12.6" text-anchor="middle" font-family="'Liberation Sans', sans-serif" font-weight="normal" fill="#111" letter-spacing="0.2">a [nm]</text>
<text x="138.2" y="196" text-anchor="middle" font-family="'Liberation Serif', serif" fill="#111"><tspan font-size="13.5" dy="-0.3">−</tspan><tspan font-size="16.5" dy="0.3" dx="-0.6">π</tspan></text>
<text x="216.25" y="196.7" font-size="12.2" text-anchor="middle" font-family="'Liberation Sans', sans-serif" font-weight="normal" fill="#111">0</text>
<text x="292.5" y="196" text-anchor="middle" font-family="'Liberation Serif', serif" fill="#111"><tspan font-size="16.5">π</tspan></text>
<text x="134.5" y="34" text-anchor="end" font-family="'Liberation Serif', serif" fill="#111"><tspan font-size="16.5">π</tspan></text>
<text x="134.5" y="110.65" font-size="12.2" text-anchor="end" font-family="'Liberation Sans', sans-serif" font-weight="normal" fill="#111">0</text>
<text x="134.5" y="185.6" text-anchor="end" font-family="'Liberation Serif', serif" fill="#111"><tspan font-size="13.5" dy="-0.3">−</tspan><tspan font-size="16.5" dy="0.3" dx="-0.6">π</tspan></text>
<text x="191.75" y="210.4" font-size="12.6" font-family="'Liberation Sans', sans-serif" fill="#111"><tspan font-family="'Liberation Serif', serif" font-size="15.5">ϕ</tspan><tspan font-size="7.5" dy="4.5">x</tspan><tspan dy="-4.5"> [Rad]</tspan></text>
<text x="118.2" y="131.5" font-size="12.6" font-family="'Liberation Sans', sans-serif" fill="#111" transform="rotate(-90 118.2 131.5)"><tspan font-family="'Liberation Serif', serif" font-size="15.5">ϕ</tspan><tspan font-size="7.5" dy="4.5">y</tspan><tspan dy="-4.5"> [Rad]</tspan></text>
<rect x="342.5" y="30.5" width="151.5" height="151.5" fill="none" stroke="#111" stroke-width="1.1"/>
<line x1="342.5" y1="182" x2="342.5" y2="186" stroke="#111" stroke-width="1.1"/>
<line x1="418.25" y1="182" x2="418.25" y2="186" stroke="#111" stroke-width="1.1"/>
<line x1="494.0" y1="182" x2="494.0" y2="186" stroke="#111" stroke-width="1.1"/>
<line x1="338.0" y1="30.5" x2="342.5" y2="30.5" stroke="#111" stroke-width="1.1"/>
<line x1="338.0" y1="106.25" x2="342.5" y2="106.25" stroke="#111" stroke-width="1.1"/>
<line x1="338.0" y1="182" x2="342.5" y2="182" stroke="#111" stroke-width="1.1"/>
<text x="418.95" y="23.8" font-size="12.6" text-anchor="middle" font-family="'Liberation Sans', sans-serif" font-weight="normal" fill="#111" letter-spacing="0.2">b [nm]</text>
<text x="340.2" y="196" text-anchor="middle" font-family="'Liberation Serif', serif" fill="#111"><tspan font-size="13.5" dy="-0.3">−</tspan><tspan font-size="16.5" dy="0.3" dx="-0.6">π</tspan></text>
<text x="418.25" y="196.7" font-size="12.2" text-anchor="middle" font-family="'Liberation Sans', sans-serif" font-weight="normal" fill="#111">0</text>
<text x="494.5" y="196" text-anchor="middle" font-family="'Liberation Serif', serif" fill="#111"><tspan font-size="16.5">π</tspan></text>
<text x="336.5" y="34" text-anchor="end" font-family="'Liberation Serif', serif" fill="#111"><tspan font-size="16.5">π</tspan></text>
<text x="336.5" y="110.65" font-size="12.2" text-anchor="end" font-family="'Liberation Sans', sans-serif" font-weight="normal" fill="#111">0</text>
<text x="336.5" y="185.6" text-anchor="end" font-family="'Liberation Serif', serif" fill="#111"><tspan font-size="13.5" dy="-0.3">−</tspan><tspan font-size="16.5" dy="0.3" dx="-0.6">π</tspan></text>
<text x="393.75" y="210.4" font-size="12.6" font-family="'Liberation Sans', sans-serif" fill="#111"><tspan font-family="'Liberation Serif', serif" font-size="15.5">ϕ</tspan><tspan font-size="7.5" dy="4.5">x</tspan><tspan dy="-4.5"> [Rad]</tspan></text>
<text x="320.2" y="131.5" font-size="12.6" font-family="'Liberation Sans', sans-serif" fill="#111" transform="rotate(-90 320.2 131.5)"><tspan font-family="'Liberation Serif', serif" font-size="15.5">ϕ</tspan><tspan font-size="7.5" dy="4.5">y</tspan><tspan dy="-4.5"> [Rad]</tspan></text>
<rect x="504.5" y="30.5" width="11" height="151.5" fill="url(#cbar)" stroke="#111" stroke-width="1.1"/>
<line x1="515.5" y1="180.4" x2="519.5" y2="180.4" stroke="#111" stroke-width="1.1"/>
<line x1="515.5" y1="144.60000000000002" x2="519.5" y2="144.60000000000002" stroke="#111" stroke-width="1.1"/>
<line x1="515.5" y1="108.80000000000001" x2="519.5" y2="108.80000000000001" stroke="#111" stroke-width="1.1"/>
<line x1="515.5" y1="73.00000000000001" x2="519.5" y2="73.00000000000001" stroke="#111" stroke-width="1.1"/>
<line x1="515.5" y1="37.20000000000002" x2="519.5" y2="37.20000000000002" stroke="#111" stroke-width="1.1"/>
<text x="522" y="76.6" font-size="11.8" text-anchor="start" font-family="'Liberation Sans', sans-serif" font-weight="normal" fill="#111">200</text>
<text x="522" y="148.2" font-size="11.8" text-anchor="start" font-family="'Liberation Sans', sans-serif" font-weight="normal" fill="#111">100</text>
<text x="547.8" y="105.2" font-size="12.8" text-anchor="middle" font-family="'Liberation Sans', sans-serif" font-weight="normal" fill="#111" transform="rotate(90 547.8 105.2)" letter-spacing="0.15">Side length [nm]</text>
<rect x="51.5" y="255" width="192.5" height="96" fill="url(#ph1)"/>
<rect x="51.5" y="255" width="192.5" height="96" fill="none" stroke="#111" stroke-width="1.1"/>
<line x1="66.9" y1="351" x2="66.9" y2="355.5" stroke="#111" stroke-width="1.1"/>
<line x1="106.9" y1="351" x2="106.9" y2="355.5" stroke="#111" stroke-width="1.1"/>
<line x1="146.9" y1="351" x2="146.9" y2="355.5" stroke="#111" stroke-width="1.1"/>
<line x1="186.9" y1="351" x2="186.9" y2="355.5" stroke="#111" stroke-width="1.1"/>
<line x1="226.9" y1="351" x2="226.9" y2="355.5" stroke="#111" stroke-width="1.1"/>
<line x1="47.0" y1="343" x2="51.5" y2="343" stroke="#111" stroke-width="1.1"/>
<line x1="47.0" y1="303" x2="51.5" y2="303" stroke="#111" stroke-width="1.1"/>
<line x1="47.0" y1="263" x2="51.5" y2="263" stroke="#111" stroke-width="1.1"/>
<text x="65.9" y="367.5" font-size="12.2" text-anchor="middle" font-family="'Liberation Sans', sans-serif" font-weight="normal" fill="#111">-4</text>
<text x="146.9" y="367.5" font-size="12.2" text-anchor="middle" font-family="'Liberation Sans', sans-serif" font-weight="normal" fill="#111">0</text>
<text x="226.9" y="367.5" font-size="12.2" text-anchor="middle" font-family="'Liberation Sans', sans-serif" font-weight="normal" fill="#111">4</text>
<text x="44.3" y="267.4" font-size="12.2" text-anchor="end" font-family="'Liberation Sans', sans-serif" font-weight="normal" fill="#111">2</text>
<text x="44.3" y="307.4" font-size="12.2" text-anchor="end" font-family="'Liberation Sans', sans-serif" font-weight="normal" fill="#111">0</text>
<text x="44.3" y="347.4" font-size="12.2" text-anchor="end" font-family="'Liberation Sans', sans-serif" font-weight="normal" fill="#111">-2</text>
<text x="147.45" y="379.4" font-size="12.6" text-anchor="middle" font-family="'Liberation Sans', sans-serif" font-weight="normal" fill="#111" letter-spacing="0.6">x [µm]</text>
<text x="29.3" y="303.7" font-size="12.6" text-anchor="middle" font-family="'Liberation Sans', sans-serif" font-weight="normal" fill="#111" transform="rotate(-90 29.3 303.7)" letter-spacing="0.6">y [µm]</text>
<text x="123.25" y="248" font-size="12.6" font-family="'Liberation Sans', sans-serif" fill="#111"><tspan font-family="'Liberation Serif', serif" font-size="14.5">Φ</tspan><tspan font-size="6.5" dy="3.8" dx="1">1</tspan><tspan dy="-3.8" dx="0.6"> [Rad]</tspan></text>
<rect x="301.5" y="255" width="192.5" height="96" fill="url(#ph2)"/>
<rect x="301.5" y="255" width="192.5" height="96" fill="none" stroke="#111" stroke-width="1.1"/>
<line x1="316.9" y1="351" x2="316.9" y2="355.5" stroke="#111" stroke-width="1.1"/>
<line x1="356.9" y1="351" x2="356.9" y2="355.5" stroke="#111" stroke-width="1.1"/>
<line x1="396.9" y1="351" x2="396.9" y2="355.5" stroke="#111" stroke-width="1.1"/>
<line x1="436.9" y1="351" x2="436.9" y2="355.5" stroke="#111" stroke-width="1.1"/>
<line x1="476.9" y1="351" x2="476.9" y2="355.5" stroke="#111" stroke-width="1.1"/>
<line x1="297.0" y1="343" x2="301.5" y2="343" stroke="#111" stroke-width="1.1"/>
<line x1="297.0" y1="303" x2="301.5" y2="303" stroke="#111" stroke-width="1.1"/>
<line x1="297.0" y1="263" x2="301.5" y2="263" stroke="#111" stroke-width="1.1"/>
<text x="315.9" y="367.5" font-size="12.2" text-anchor="middle" font-family="'Liberation Sans', sans-serif" font-weight="normal" fill="#111">-4</text>
<text x="396.9" y="367.5" font-size="12.2" text-anchor="middle" font-family="'Liberation Sans', sans-serif" font-weight="normal" fill="#111">0</text>
<text x="476.9" y="367.5" font-size="12.2" text-anchor="middle" font-family="'Liberation Sans', sans-serif" font-weight="normal" fill="#111">4</text>
<text x="294.3" y="267.4" font-size="12.2" text-anchor="end" font-family="'Liberation Sans', sans-serif" font-weight="normal" fill="#111">2</text>
<text x="294.3" y="307.4" font-size="12.2" text-anchor="end" font-family="'Liberation Sans', sans-serif" font-weight="normal" fill="#111">0</text>
<text x="294.3" y="347.4" font-size="12.2" text-anchor="end" font-family="'Liberation Sans', sans-serif" font-weight="normal" fill="#111">-2</text>
<text x="397.45" y="379.4" font-size="12.6" text-anchor="middle" font-family="'Liberation Sans', sans-serif" font-weight="normal" fill="#111" letter-spacing="0.6">x [µm]</text>
<text x="279.3" y="303.7" font-size="12.6" text-anchor="middle" font-family="'Liberation Sans', sans-serif" font-weight="normal" fill="#111" transform="rotate(-90 279.3 303.7)" letter-spacing="0.6">y [µm]</text>
<text x="373.25" y="248" font-size="12.6" font-family="'Liberation Sans', sans-serif" fill="#111"><tspan font-family="'Liberation Serif', serif" font-size="14.5">Φ</tspan><tspan font-size="6.5" dy="3.8" dx="1">2</tspan><tspan dy="-3.8" dx="0.6"> [Rad]</tspan></text>
<rect x="504.5" y="255" width="11" height="96" fill="url(#cbar)" stroke="#111" stroke-width="1.1"/>
<line x1="515.5" y1="255" x2="519.5" y2="255" stroke="#111" stroke-width="1.1"/>
<line x1="515.5" y1="303" x2="519.5" y2="303" stroke="#111" stroke-width="1.1"/>
<line x1="515.5" y1="351" x2="519.5" y2="351" stroke="#111" stroke-width="1.1"/>
<text x="523.5" y="260.5" font-size="11.8" font-family="'Liberation Sans', sans-serif" fill="#111">2<tspan font-family="'Liberation Serif', serif" font-size="16.5">π</tspan></text>
<text x="524" y="306.3" text-anchor="start" font-family="'Liberation Serif', serif" fill="#111"><tspan font-size="16.5">π</tspan></text>
<text x="523.5" y="355" font-size="11.8" text-anchor="start" font-family="'Liberation Sans', sans-serif" font-weight="normal" fill="#111">0</text>
<text x="544.5" y="300.5" font-size="12.8" text-anchor="middle" font-family="'Liberation Sans', sans-serif" font-weight="normal" fill="#111" transform="rotate(90 544.5 300.5)" textLength="65.8" lengthAdjust="spacingAndGlyphs">Phase [Rad]</text>
<polygon points="11.3,80.5 54.5,61.6 91.0,87.3 47.8,106.2" fill="url(#st)"/>
<polygon points="11.3,80.5 47.8,106.2 47.8,113.6 11.3,87.9" fill="#cbe2af"/>
<polygon points="47.8,106.2 91.0,87.3 91.0,94.7 47.8,113.6" fill="url(#sr)"/>
<g clip-path="url(#cst)"><ellipse cx="56" cy="86" rx="19" ry="9" fill="#3a3820" opacity="0.45" filter="url(#sh)"/></g>
<polygon points="38.8,21.7 47.6,29.1 45.6,90.6 36.5,83.4" fill="url(#pl)"/>
<polygon points="47.6,29.1 70.3,19.0 67.0,82.6 45.6,90.6" fill="url(#pr)"/>
<polygon points="38.8,21.7 61.7,13.2 70.3,19.0 47.6,29.1" fill="#e60f22"/>
<line x1="37.5" y1="20.3" x2="58.2" y2="12.2" stroke="#111" stroke-width="1.0" marker-end="url(#ah)" marker-start="url(#ah)"/>
<line x1="61.9" y1="12.7" x2="70.3" y2="18.4" stroke="#111" stroke-width="1.0" marker-end="url(#ah)" marker-start="url(#ah)"/>
<line x1="34.5" y1="24" x2="32" y2="83" stroke="#111" stroke-width="1.0" marker-end="url(#ah)" marker-start="url(#ah)"/>
<line x1="11.5" y1="82" x2="45" y2="105.5" stroke="#111" stroke-width="1.0" marker-end="url(#ah)" marker-start="url(#ah)"/>
<text x="44.5" y="12.5" font-size="13" text-anchor="middle" font-family="'Liberation Sans', sans-serif" font-weight="normal" fill="#111">a</text>
<text x="71.2" y="13.3" font-size="13" text-anchor="middle" font-family="'Liberation Sans', sans-serif" font-weight="normal" fill="#111">b</text>
<text x="27.7" y="56" font-size="13" text-anchor="middle" font-family="'Liberation Sans', sans-serif" font-weight="normal" fill="#111">h</text>
<text x="21.5" y="102" font-size="13" font-family="'Liberation Sans', sans-serif" fill="#111">l<tspan font-size="7" dy="4">c</tspan></text>
<line x1="61.2" y1="138.2" x2="61.2" y2="109.3" stroke="#111" stroke-width="1.5" marker-end="url(#ahb)"/>
<line x1="61.2" y1="138.2" x2="42.3" y2="125.9" stroke="#111" stroke-width="1.5" marker-end="url(#ahb)"/>
<line x1="61.2" y1="138.2" x2="84.8" y2="129.2" stroke="#111" stroke-width="1.5" marker-end="url(#ahb)"/>
<text x="68.3" y="116.5" font-size="14" text-anchor="middle" font-family="'Liberation Sans', sans-serif" font-weight="normal" fill="#111">z</text>
<text x="35.6" y="131.7" font-size="14" text-anchor="middle" font-family="'Liberation Sans', sans-serif" font-weight="normal" fill="#111">y</text>
<text x="89" y="138.6" font-size="14" text-anchor="middle" font-family="'Liberation Sans', sans-serif" font-weight="normal" fill="#111">x</text>
<rect x="14.5" y="148.5" width="80.5" height="81.5" fill="#c6e6b0" stroke="#8a8a8a" stroke-width="0.9"/>
<rect x="-25.2" y="-9.85" width="50.4" height="19.7" fill="#f2101c" transform="translate(55.1 189.7) rotate(-39.4)"/>
<line x1="55" y1="188.8" x2="82.5" y2="166.8" stroke="#0a7a0a" stroke-width="1.5" marker-end="url(#ahgb)"/>
<line x1="55" y1="188.8" x2="32.8" y2="163" stroke="#0a7a0a" stroke-width="1.5" marker-end="url(#ahgb)"/>
<line x1="55" y1="188.8" x2="55" y2="154.7" stroke="#111" stroke-width="1.5" marker-end="url(#ahb)"/>
<line x1="55" y1="188.8" x2="90.3" y2="188.8" stroke="#111" stroke-width="1.5" marker-end="url(#ahb)"/>
<path d="M72.5,188.8 A17.5,17.5 0 0 0 68.6,177.8" fill="none" stroke="#111" stroke-width="1" marker-end="url(#ah)"/>
<text x="63.3" y="158.7" font-size="14" text-anchor="middle" font-family="'Liberation Sans', sans-serif" font-weight="normal" fill="#111">y</text>
<text x="88.3" y="204.2" font-size="14" text-anchor="middle" font-family="'Liberation Sans', sans-serif" font-weight="normal" fill="#111">x</text>
<text x="88.7" y="169.7" font-size="14" text-anchor="middle" font-family="'Liberation Sans', sans-serif" font-weight="normal" fill="#0a7a0a">x′</text>
<text x="27.3" y="166.2" font-size="14" text-anchor="middle" font-family="'Liberation Sans', sans-serif" font-weight="normal" fill="#0a7a0a">y′</text>
<text x="79" y="185" font-size="16" text-anchor="middle" font-family="'Liberation Serif', serif" font-weight="normal" fill="#111">θ</text>
<rect x="565.2" y="0" width="264.8" height="386" fill="#262828"/>
<g clip-path="url(#cliptop)">
<rect x="567" y="0.9" width="263" height="126.89999999999999" fill="#394244" filter="url(#nz)"/>
<g filter="url(#pb)">
<use href="#p" transform="translate(573.3 6.6) rotate(-134) scale(0.78 0.80)"/>
<use href="#p" transform="translate(586.3 6.8) rotate(-141) scale(0.78 0.80)"/>
<use href="#p" transform="translate(599.4 6.8) rotate(-174) scale(0.87 0.93)"/>
<use href="#p" transform="translate(612.7 6.5) rotate(-93) scale(1.03 0.93)"/>
<use href="#p" transform="translate(625.8 7.0) rotate(-103) scale(1.03 1.05)"/>
<use href="#p" transform="translate(638.8 6.9) rotate(-71) scale(1.03 1.05)"/>
<use href="#p" transform="translate(652.2 6.7) rotate(-86) scale(1.12 1.05)"/>
<use href="#p" transform="translate(665.0 7.0) rotate(-2) scale(0.87 0.80)"/>
<use href="#p" transform="translate(678.1 6.6) rotate(-47) scale(0.95 0.93)"/>
<use href="#p" transform="translate(691.7 6.6) rotate(-59) scale(1.03 0.93)"/>
<use href="#p" transform="translate(704.7 6.7) rotate(0) scale(0.70 0.80)"/>
<use href="#p" transform="translate(717.5 6.5) rotate(-2) scale(0.78 0.93)"/>
<use href="#p" transform="translate(730.9 6.8) rotate(-31) scale(0.87 0.93)"/>
<use href="#p" transform="translate(744.0 6.8) rotate(-62) scale(0.95 0.93)"/>
<use href="#p" transform="translate(757.3 6.9) rotate(-87) scale(1.03 0.93)"/>
<use href="#p" transform="translate(770.2 6.8) rotate(-92) scale(1.03 0.93)"/>
<use href="#p" transform="translate(783.5 6.7) rotate(-116) scale(0.95 0.93)"/>
<use href="#p" transform="translate(796.2 6.8) rotate(-148) scale(0.87 0.93)"/>
<use href="#p" transform="translate(809.4 6.8) rotate(-4) scale(0.78 0.93)"/>
<use href="#p" transform="translate(822.8 7.0) rotate(1) scale(0.78 0.93)"/>
<use href="#p" transform="translate(573.6 19.7) rotate(-133) scale(0.78 0.80)"/>
<use href="#p" transform="translate(586.6 19.8) rotate(-140) scale(0.78 0.80)"/>
<use href="#p" transform="translate(599.8 20.0) rotate(-170) scale(0.87 0.93)"/>
<use href="#p" transform="translate(612.9 19.5) rotate(2) scale(0.87 0.80)"/>
<use href="#p" transform="translate(626.0 20.1) rotate(-97) scale(1.03 1.05)"/>
<use href="#p" transform="translate(638.9 19.7) rotate(-74) scale(1.12 1.05)"/>
<use href="#p" transform="translate(651.8 19.7) rotate(-3) scale(0.87 0.93)"/>
<use href="#p" transform="translate(665.0 19.5) rotate(2) scale(0.87 0.93)"/>
<use href="#p" transform="translate(678.1 19.6) rotate(-41) scale(1.03 1.05)"/>
<use href="#p" transform="translate(691.7 19.5) rotate(-150) scale(0.70 0.80)"/>
<use href="#p" transform="translate(704.6 20.0) rotate(3) scale(0.78 0.93)"/>
<use href="#p" transform="translate(717.9 19.6) rotate(-1) scale(0.87 0.93)"/>
<use href="#p" transform="translate(730.8 20.0) rotate(-31) scale(0.95 1.05)"/>
<use href="#p" transform="translate(743.8 19.6) rotate(-62) scale(1.03 0.93)"/>
<use href="#p" transform="translate(756.9 19.8) rotate(-89) scale(1.12 0.93)"/>
<use href="#p" transform="translate(770.1 19.5) rotate(-96) scale(1.12 1.05)"/>
<use href="#p" transform="translate(783.2 19.8) rotate(-111) scale(1.03 0.93)"/>
<use href="#p" transform="translate(796.6 19.8) rotate(-149) scale(1.03 1.05)"/>
<use href="#p" transform="translate(809.7 19.5) rotate(3) scale(0.87 1.05)"/>
<use href="#p" transform="translate(822.8 20.0) rotate(2) scale(0.78 0.93)"/>
<use href="#p" transform="translate(573.3 32.7) rotate(-48) scale(0.87 0.93)"/>
<use href="#p" transform="translate(586.6 32.5) rotate(-63) scale(0.87 0.55)"/>
<use href="#p" transform="translate(599.5 32.5) rotate(-171) scale(0.95 0.93)"/>
<use href="#p" transform="translate(612.5 32.4) rotate(-3) scale(0.87 0.93)"/>
<use href="#p" transform="translate(625.6 32.7) rotate(-114) scale(1.12 1.05)"/>
<use href="#p" transform="translate(639.2 32.8) rotate(-73) scale(1.12 1.05)"/>
<use href="#p" transform="translate(652.0 32.6) rotate(-1) scale(0.78 0.93)"/>
<use href="#p" transform="translate(665.0 32.9) rotate(4) scale(0.87 1.05)"/>
<use href="#p" transform="translate(678.3 32.7) rotate(-113) scale(1.03 0.93)"/>
<use href="#p" transform="translate(691.2 32.6) rotate(-142) scale(0.78 0.80)"/>
<use href="#p" transform="translate(704.8 32.5) rotate(-4) scale(0.78 1.05)"/>
<use href="#p" transform="translate(718.0 32.8) rotate(-3) scale(0.87 1.05)"/>
<use href="#p" transform="translate(730.9 32.5) rotate(-30) scale(1.03 1.05)"/>
<use href="#p" transform="translate(744.2 33.0) rotate(-143) scale(0.95 0.68)"/>
<use href="#p" transform="translate(756.9 32.7) rotate(-173) scale(0.95 0.68)"/>
<use href="#p" transform="translate(770.4 32.8) rotate(-8) scale(0.95 0.68)"/>
<use href="#p" transform="translate(783.2 32.6) rotate(-33) scale(0.95 0.68)"/>
<use href="#p" transform="translate(796.7 33.0) rotate(-148) scale(1.12 1.05)"/>
<use href="#p" transform="translate(809.8 32.9) rotate(-2) scale(0.95 1.05)"/>
<use href="#p" transform="translate(822.7 32.7) rotate(-4) scale(0.78 1.05)"/>
<use href="#p" transform="translate(573.1 45.6) rotate(-52) scale(0.87 0.93)"/>
<use href="#p" transform="translate(586.6 46.0) rotate(-65) scale(0.87 0.55)"/>
<use href="#p" transform="translate(599.9 46.0) rotate(-171) scale(1.03 1.05)"/>
<use href="#p" transform="translate(612.7 45.5) rotate(-2) scale(0.87 0.93)"/>
<use href="#p" transform="translate(625.7 45.5) rotate(-24) scale(1.03 0.68)"/>
<use href="#p" transform="translate(639.2 45.9) rotate(-155) scale(1.03 0.68)"/>
<use href="#p" transform="translate(652.2 45.9) rotate(-3) scale(0.78 1.05)"/>
<use href="#p" transform="translate(665.3 46.0) rotate(2) scale(0.87 0.93)"/>
<use href="#p" transform="translate(678.5 45.7) rotate(-108) scale(1.03 0.80)"/>
<use href="#p" transform="translate(691.7 45.6) rotate(-138) scale(0.87 0.80)"/>
<use href="#p" transform="translate(704.9 45.6) rotate(-1) scale(0.70 0.93)"/>
<use href="#p" transform="translate(718.0 45.8) rotate(-3) scale(0.78 0.93)"/>
<use href="#p" transform="translate(730.6 45.5) rotate(-107) scale(0.95 0.68)"/>
<use href="#p" transform="translate(744.1 45.5) rotate(-137) scale(0.87 0.80)"/>
<use href="#p" transform="translate(757.4 45.8) rotate(-166) scale(0.87 0.80)"/>
<use href="#p" transform="translate(770.2 45.5) rotate(-19) scale(0.87 0.80)"/>
<use href="#p" transform="translate(783.6 45.8) rotate(-40) scale(0.87 0.80)"/>
<use href="#p" transform="translate(796.7 45.7) rotate(-62) scale(0.95 0.68)"/>
<use href="#p" transform="translate(809.8 45.5) rotate(-2) scale(1.03 1.05)"/>
<use href="#p" transform="translate(822.6 45.6) rotate(1) scale(0.87 1.05)"/>
<use href="#p" transform="translate(573.3 58.6) rotate(-53) scale(0.87 1.05)"/>
<use href="#p" transform="translate(586.8 58.6) rotate(-65) scale(0.87 0.68)"/>
<use href="#p" transform="translate(599.7 58.9) rotate(-176) scale(1.03 1.05)"/>
<use href="#p" transform="translate(613.0 58.7) rotate(0) scale(0.87 0.93)"/>
<use href="#p" transform="translate(625.9 58.4) rotate(-20) scale(1.03 0.80)"/>
<use href="#p" transform="translate(638.8 58.4) rotate(-158) scale(1.03 0.80)"/>
<use href="#p" transform="translate(651.9 58.7) rotate(2) scale(0.78 1.05)"/>
<use href="#p" transform="translate(665.3 58.6) rotate(0) scale(0.87 0.93)"/>
<use href="#p" transform="translate(678.4 58.9) rotate(-113) scale(0.95 0.93)"/>
<use href="#p" transform="translate(691.5 58.5) rotate(-137) scale(0.87 0.93)"/>
<use href="#p" transform="translate(704.8 58.7) rotate(0) scale(0.78 1.05)"/>
<use href="#p" transform="translate(717.9 58.9) rotate(-0) scale(0.87 1.05)"/>
<use href="#p" transform="translate(730.9 58.7) rotate(-115) scale(0.87 0.68)"/>
<use href="#p" transform="translate(744.1 58.7) rotate(-135) scale(0.78 0.80)"/>
<use href="#p" transform="translate(757.1 58.9) rotate(-163) scale(0.87 0.80)"/>
<use href="#p" transform="translate(770.4 58.9) rotate(-17) scale(0.87 0.80)"/>
<use href="#p" transform="translate(783.4 58.9) rotate(-42) scale(0.87 0.80)"/>
<use href="#p" transform="translate(796.2 58.5) rotate(-70) scale(0.95 0.68)"/>
<use href="#p" transform="translate(809.3 58.5) rotate(-3) scale(1.03 1.05)"/>
<use href="#p" transform="translate(822.8 58.9) rotate(3) scale(0.87 1.05)"/>
<use href="#p" transform="translate(573.2 71.8) rotate(-129) scale(0.87 1.05)"/>
<use href="#p" transform="translate(586.3 71.9) rotate(-111) scale(0.87 0.68)"/>
<use href="#p" transform="translate(599.5 71.9) rotate(-6) scale(1.03 1.05)"/>
<use href="#p" transform="translate(612.8 71.9) rotate(3) scale(0.87 0.93)"/>
<use href="#p" transform="translate(625.7 71.6) rotate(-160) scale(1.03 0.80)"/>
<use href="#p" transform="translate(638.9 71.5) rotate(-21) scale(1.03 0.80)"/>
<use href="#p" transform="translate(652.3 71.4) rotate(0) scale(0.78 1.05)"/>
<use href="#p" transform="translate(665.2 71.4) rotate(-1) scale(0.87 0.93)"/>
<use href="#p" transform="translate(678.4 71.7) rotate(-73) scale(0.95 0.93)"/>
<use href="#p" transform="translate(691.8 71.8) rotate(-41) scale(0.87 0.93)"/>
<use href="#p" transform="translate(704.4 71.5) rotate(-4) scale(0.78 1.05)"/>
<use href="#p" transform="translate(717.9 71.5) rotate(-3) scale(0.87 1.05)"/>
<use href="#p" transform="translate(730.8 71.9) rotate(-62) scale(0.87 0.68)"/>
<use href="#p" transform="translate(743.8 71.4) rotate(-42) scale(0.78 0.80)"/>
<use href="#p" transform="translate(757.1 71.8) rotate(-18) scale(0.87 0.80)"/>
<use href="#p" transform="translate(769.9 71.8) rotate(-166) scale(0.87 0.80)"/>
<use href="#p" transform="translate(783.1 71.9) rotate(-134) scale(0.87 0.80)"/>
<use href="#p" transform="translate(796.6 71.4) rotate(-107) scale(0.95 0.68)"/>
<use href="#p" transform="translate(809.3 71.9) rotate(-0) scale(1.03 1.05)"/>
<use href="#p" transform="translate(822.6 71.7) rotate(3) scale(0.87 1.05)"/>
<use href="#p" transform="translate(573.3 84.4) rotate(-130) scale(0.87 0.93)"/>
<use href="#p" transform="translate(586.4 84.4) rotate(-118) scale(0.87 0.55)"/>
<use href="#p" transform="translate(599.4 84.4) rotate(-7) scale(1.03 1.05)"/>
<use href="#p" transform="translate(612.6 84.8) rotate(-2) scale(0.87 0.93)"/>
<use href="#p" transform="translate(625.9 84.4) rotate(-156) scale(1.03 0.68)"/>
<use href="#p" transform="translate(638.7 84.5) rotate(-29) scale(1.03 0.68)"/>
<use href="#p" transform="translate(652.3 84.7) rotate(-2) scale(0.78 1.05)"/>
<use href="#p" transform="translate(665.2 84.9) rotate(-3) scale(0.87 0.93)"/>
<use href="#p" transform="translate(678.6 84.6) rotate(-75) scale(1.03 0.80)"/>
<use href="#p" transform="translate(691.7 84.6) rotate(-40) scale(0.87 0.80)"/>
<use href="#p" transform="translate(704.7 84.9) rotate(-1) scale(0.70 0.93)"/>
<use href="#p" transform="translate(717.9 84.7) rotate(1) scale(0.78 0.93)"/>
<use href="#p" transform="translate(730.8 84.5) rotate(-74) scale(0.95 0.68)"/>
<use href="#p" transform="translate(743.7 84.4) rotate(-38) scale(0.87 0.80)"/>
<use href="#p" transform="translate(756.9 84.4) rotate(-18) scale(0.87 0.80)"/>
<use href="#p" transform="translate(770.4 84.8) rotate(-164) scale(0.87 0.80)"/>
<use href="#p" transform="translate(783.2 84.5) rotate(-142) scale(0.87 0.80)"/>
<use href="#p" transform="translate(796.4 84.4) rotate(-115) scale(0.95 0.68)"/>
<use href="#p" transform="translate(809.4 84.9) rotate(4) scale(1.03 1.05)"/>
<use href="#p" transform="translate(822.7 84.5) rotate(4) scale(0.87 1.05)"/>
<use href="#p" transform="translate(573.3 97.5) rotate(-139) scale(0.87 0.93)"/>
<use href="#p" transform="translate(586.4 97.6) rotate(-120) scale(0.87 0.55)"/>
<use href="#p" transform="translate(599.5 97.6) rotate(-14) scale(0.95 0.93)"/>
<use href="#p" transform="translate(612.6 97.3) rotate(-1) scale(0.87 0.93)"/>
<use href="#p" transform="translate(625.6 97.3) rotate(-72) scale(1.12 1.05)"/>
<use href="#p" transform="translate(638.8 97.6) rotate(-110) scale(1.12 1.05)"/>
<use href="#p" transform="translate(652.3 97.7) rotate(2) scale(0.78 0.93)"/>
<use href="#p" transform="translate(665.5 97.5) rotate(-1) scale(0.87 1.05)"/>
<use href="#p" transform="translate(678.7 97.4) rotate(-68) scale(1.03 0.93)"/>
<use href="#p" transform="translate(691.6 97.3) rotate(-37) scale(0.78 0.80)"/>
<use href="#p" transform="translate(704.8 97.7) rotate(2) scale(0.78 1.05)"/>
<use href="#p" transform="translate(717.9 97.4) rotate(0) scale(0.87 1.05)"/>
<use href="#p" transform="translate(730.8 97.8) rotate(-148) scale(1.03 1.05)"/>
<use href="#p" transform="translate(744.2 97.6) rotate(-32) scale(0.95 0.68)"/>
<use href="#p" transform="translate(757.2 97.7) rotate(-12) scale(0.95 0.68)"/>
<use href="#p" transform="translate(769.9 97.4) rotate(-171) scale(0.95 0.68)"/>
<use href="#p" transform="translate(783.1 97.8) rotate(-145) scale(0.95 0.68)"/>
<use href="#p" transform="translate(796.5 97.7) rotate(-29) scale(1.12 1.05)"/>
<use href="#p" transform="translate(809.6 97.3) rotate(2) scale(0.95 1.05)"/>
<use href="#p" transform="translate(822.8 97.6) rotate(0) scale(0.78 1.05)"/>
<use href="#p" transform="translate(573.5 110.3) rotate(-43) scale(0.78 0.80)"/>
<use href="#p" transform="translate(586.4 110.3) rotate(-42) scale(0.78 0.80)"/>
<use href="#p" transform="translate(599.8 110.4) rotate(-8) scale(0.87 0.93)"/>
<use href="#p" transform="translate(613.0 110.6) rotate(-1) scale(0.87 0.80)"/>
<use href="#p" transform="translate(625.9 110.7) rotate(-78) scale(1.03 1.05)"/>
<use href="#p" transform="translate(639.1 110.6) rotate(-108) scale(1.12 1.05)"/>
<use href="#p" transform="translate(651.9 110.4) rotate(2) scale(0.87 0.93)"/>
<use href="#p" transform="translate(665.1 110.6) rotate(-4) scale(0.87 0.93)"/>
<use href="#p" transform="translate(678.1 110.4) rotate(-139) scale(1.03 1.05)"/>
<use href="#p" transform="translate(691.6 110.7) rotate(-32) scale(0.70 0.80)"/>
<use href="#p" transform="translate(704.6 110.5) rotate(-0) scale(0.78 0.93)"/>
<use href="#p" transform="translate(717.5 110.8) rotate(-2) scale(0.87 0.93)"/>
<use href="#p" transform="translate(731.1 110.8) rotate(-149) scale(0.95 1.05)"/>
<use href="#p" transform="translate(743.9 110.8) rotate(-116) scale(1.03 0.93)"/>
<use href="#p" transform="translate(757.0 110.4) rotate(-92) scale(1.12 0.93)"/>
<use href="#p" transform="translate(770.5 110.4) rotate(-84) scale(1.12 1.05)"/>
<use href="#p" transform="translate(783.1 110.6) rotate(-61) scale(1.03 0.93)"/>
<use href="#p" transform="translate(796.2 110.8) rotate(-30) scale(1.03 1.05)"/>
<use href="#p" transform="translate(809.8 110.7) rotate(-2) scale(0.87 1.05)"/>
<use href="#p" transform="translate(822.9 110.6) rotate(-4) scale(0.78 0.93)"/>
<use href="#p" transform="translate(573.1 123.5) rotate(-45) scale(0.78 0.80)"/>
<use href="#p" transform="translate(586.4 123.3) rotate(-41) scale(0.78 0.80)"/>
<use href="#p" transform="translate(599.5 123.7) rotate(-14) scale(0.87 0.93)"/>
<use href="#p" transform="translate(612.9 123.7) rotate(-93) scale(1.03 0.93)"/>
<use href="#p" transform="translate(626.1 123.7) rotate(-77) scale(1.03 1.05)"/>
<use href="#p" transform="translate(638.9 123.5) rotate(-106) scale(1.03 1.05)"/>
<use href="#p" transform="translate(652.4 123.6) rotate(-91) scale(1.12 1.05)"/>
<use href="#p" transform="translate(665.2 123.4) rotate(-4) scale(0.87 0.80)"/>
<use href="#p" transform="translate(678.1 123.7) rotate(-137) scale(0.95 0.93)"/>
<use href="#p" transform="translate(691.7 123.4) rotate(-122) scale(1.03 0.93)"/>
<use href="#p" transform="translate(704.6 123.3) rotate(-1) scale(0.70 0.80)"/>
<use href="#p" transform="translate(718.0 123.8) rotate(2) scale(0.78 0.93)"/>
<use href="#p" transform="translate(730.9 123.8) rotate(-146) scale(0.87 0.93)"/>
<use href="#p" transform="translate(744.0 123.7) rotate(-124) scale(0.95 0.93)"/>
<use href="#p" transform="translate(757.2 123.5) rotate(-93) scale(1.03 0.93)"/>
<use href="#p" transform="translate(770.3 123.4) rotate(-89) scale(1.03 0.93)"/>
<use href="#p" transform="translate(783.6 123.3) rotate(-60) scale(0.95 0.93)"/>
<use href="#p" transform="translate(796.3 123.4) rotate(-28) scale(0.87 0.93)"/>
<use href="#p" transform="translate(809.8 123.4) rotate(1) scale(0.78 0.93)"/>
<use href="#p" transform="translate(822.6 123.6) rotate(-1) scale(0.78 0.93)"/>
</g>
<ellipse cx="667" cy="53" rx="15" ry="21" fill="#0c1112" opacity="0.8" filter="url(#blur)"/>
</g>
<rect x="567.6" y="1.8" width="260.5" height="125.1" fill="none" stroke="#45c4f7" stroke-width="1.9"/>
<g clip-path="url(#clipmid)">
<rect x="567" y="128.5" width="263" height="128.5" fill="#394244" filter="url(#nz)"/>
<g filter="url(#pb)">
<use href="#m" transform="translate(573.2 134.6) rotate(-45) scale(1.22 0.91)"/>
<use href="#m" transform="translate(586.5 134.6) rotate(-45) scale(1.21 0.92)"/>
<use href="#m" transform="translate(599.6 134.6) rotate(-45) scale(1.12 1.01)"/>
<use href="#m" transform="translate(612.7 134.6) rotate(-45) scale(0.93 0.93)"/>
<use href="#m" transform="translate(625.9 135.0) rotate(-45) scale(0.89 0.85)"/>
<use href="#m" transform="translate(638.9 134.8) rotate(-45) scale(0.95 0.94)"/>
<use href="#m" transform="translate(651.9 134.7) rotate(-45) scale(1.12 1.02)"/>
<use href="#m" transform="translate(665.2 134.9) rotate(-45) scale(1.20 0.93)"/>
<use href="#m" transform="translate(678.2 134.6) rotate(-45) scale(0.85 1.35)"/>
<use href="#m" transform="translate(691.8 135.0) rotate(-45) scale(1.00 1.10)"/>
<use href="#m" transform="translate(704.3 134.9) rotate(-45) scale(1.01 1.06)"/>
<use href="#m" transform="translate(717.8 134.5) rotate(-45) scale(0.85 1.31)"/>
<use href="#m" transform="translate(731.0 135.0) rotate(-45) scale(1.02 0.93)"/>
<use href="#m" transform="translate(743.7 134.6) rotate(-45) scale(1.20 0.78)"/>
<use href="#m" transform="translate(757.3 134.9) rotate(-45) scale(1.08 0.99)"/>
<use href="#m" transform="translate(770.2 134.8) rotate(-45) scale(0.90 0.99)"/>
<use href="#m" transform="translate(783.2 135.1) rotate(-45) scale(1.28 0.84)"/>
<use href="#m" transform="translate(796.2 134.7) rotate(-45) scale(1.18 0.98)"/>
<use href="#m" transform="translate(809.3 134.5) rotate(-45) scale(1.06 1.27)"/>
<use href="#m" transform="translate(822.6 134.6) rotate(-45) scale(1.17 0.90)"/>
<use href="#m" transform="translate(573.3 147.7) rotate(-45) scale(1.32 0.88)"/>
<use href="#m" transform="translate(586.8 147.8) rotate(-45) scale(1.13 0.83)"/>
<use href="#m" transform="translate(599.9 147.9) rotate(-45) scale(1.14 1.00)"/>
<use href="#m" transform="translate(612.8 147.9) rotate(-45) scale(0.95 0.93)"/>
<use href="#m" transform="translate(626.0 148.0) rotate(-45) scale(0.83 0.80)"/>
<use href="#m" transform="translate(638.9 147.7) rotate(-45) scale(0.98 0.92)"/>
<use href="#m" transform="translate(652.3 147.9) rotate(-45) scale(1.06 1.02)"/>
<use href="#m" transform="translate(665.5 147.7) rotate(-45) scale(1.20 0.93)"/>
<use href="#m" transform="translate(678.2 147.9) rotate(-45) scale(0.84 1.41)"/>
<use href="#m" transform="translate(691.5 147.6) rotate(-45) scale(0.93 1.15)"/>
<use href="#m" transform="translate(704.7 148.0) rotate(-45) scale(0.92 1.05)"/>
<use href="#m" transform="translate(717.5 148.1) rotate(-45) scale(0.82 1.21)"/>
<use href="#m" transform="translate(730.6 147.7) rotate(-45) scale(1.01 1.01)"/>
<use href="#m" transform="translate(744.1 148.1) rotate(-45) scale(1.25 0.74)"/>
<use href="#m" transform="translate(756.9 148.0) rotate(-45) scale(1.09 0.90)"/>
<use href="#m" transform="translate(770.3 147.7) rotate(-45) scale(0.94 0.94)"/>
<use href="#m" transform="translate(783.1 147.5) rotate(-45) scale(1.23 0.84)"/>
<use href="#m" transform="translate(796.7 147.5) rotate(-45) scale(1.22 0.92)"/>
<use href="#m" transform="translate(809.5 148.0) rotate(-45) scale(1.10 1.25)"/>
<use href="#m" transform="translate(822.4 147.8) rotate(-45) scale(1.14 1.01)"/>
<use href="#m" transform="translate(573.2 160.7) rotate(-45) scale(1.31 0.80)"/>
<use href="#m" transform="translate(586.5 160.9) rotate(-45) scale(1.19 0.80)"/>
<use href="#m" transform="translate(599.4 160.5) rotate(-45) scale(1.21 1.03)"/>
<use href="#m" transform="translate(612.9 161.0) rotate(-45) scale(0.94 0.93)"/>
<use href="#m" transform="translate(626.2 160.8) rotate(-45) scale(0.83 0.89)"/>
<use href="#m" transform="translate(638.9 160.6) rotate(-45) scale(0.90 0.99)"/>
<use href="#m" transform="translate(652.4 160.8) rotate(-45) scale(1.11 1.00)"/>
<use href="#m" transform="translate(665.1 160.7) rotate(-45) scale(1.21 1.01)"/>
<use href="#m" transform="translate(678.3 160.6) rotate(-45) scale(0.85 1.36)"/>
<use href="#m" transform="translate(691.7 160.5) rotate(-45) scale(1.00 1.19)"/>
<use href="#m" transform="translate(704.8 160.9) rotate(-45) scale(0.97 1.04)"/>
<use href="#m" transform="translate(717.6 160.7) rotate(-45) scale(0.89 1.21)"/>
<use href="#m" transform="translate(730.7 160.9) rotate(-45) scale(0.93 0.91)"/>
<use href="#m" transform="translate(743.7 160.8) rotate(-45) scale(1.18 0.82)"/>
<use href="#m" transform="translate(757.3 161.0) rotate(-45) scale(1.03 0.91)"/>
<use href="#m" transform="translate(770.0 160.7) rotate(-45) scale(0.99 0.95)"/>
<use href="#m" transform="translate(783.2 160.7) rotate(-45) scale(1.27 0.88)"/>
<use href="#m" transform="translate(796.6 160.9) rotate(-45) scale(1.18 0.91)"/>
<use href="#m" transform="translate(809.8 160.6) rotate(-45) scale(1.07 1.24)"/>
<use href="#m" transform="translate(822.8 160.6) rotate(-45) scale(1.13 0.93)"/>
<use href="#m" transform="translate(573.2 173.9) rotate(-45) scale(1.27 0.84)"/>
<use href="#m" transform="translate(586.5 174.0) rotate(-45) scale(1.16 0.83)"/>
<use href="#m" transform="translate(599.8 173.8) rotate(-45) scale(1.22 1.01)"/>
<use href="#m" transform="translate(612.7 173.9) rotate(-45) scale(1.00 1.01)"/>
<use href="#m" transform="translate(625.6 173.6) rotate(-45) scale(0.81 0.82)"/>
<use href="#m" transform="translate(639.3 173.8) rotate(-45) scale(1.01 0.94)"/>
<use href="#m" transform="translate(652.3 173.7) rotate(-45) scale(1.03 1.09)"/>
<use href="#m" transform="translate(665.5 173.5) rotate(-45) scale(1.17 0.97)"/>
<use href="#m" transform="translate(678.2 173.6) rotate(-45) scale(0.82 1.32)"/>
<use href="#m" transform="translate(691.3 173.8) rotate(-45) scale(0.98 1.12)"/>
<use href="#m" transform="translate(704.3 173.6) rotate(-45) scale(0.98 1.02)"/>
<use href="#m" transform="translate(717.6 173.5) rotate(-45) scale(0.90 1.27)"/>
<use href="#m" transform="translate(730.6 173.5) rotate(-45) scale(0.95 0.97)"/>
<use href="#m" transform="translate(744.0 173.5) rotate(-45) scale(1.16 0.78)"/>
<use href="#m" transform="translate(757.0 173.6) rotate(-45) scale(1.04 1.01)"/>
<use href="#m" transform="translate(770.1 173.7) rotate(-45) scale(0.94 0.95)"/>
<use href="#m" transform="translate(783.5 174.0) rotate(-45) scale(1.24 0.82)"/>
<use href="#m" transform="translate(796.6 173.5) rotate(-45) scale(1.10 1.01)"/>
<use href="#m" transform="translate(809.5 173.9) rotate(-45) scale(1.05 1.31)"/>
<use href="#m" transform="translate(822.7 173.5) rotate(-45) scale(1.10 0.97)"/>
<use href="#m" transform="translate(573.5 186.9) rotate(-45) scale(1.21 0.87)"/>
<use href="#m" transform="translate(586.4 186.7) rotate(-45) scale(1.12 0.83)"/>
<use href="#m" transform="translate(599.7 186.9) rotate(-45) scale(1.11 1.06)"/>
<use href="#m" transform="translate(612.9 187.0) rotate(-45) scale(0.92 0.92)"/>
<use href="#m" transform="translate(626.1 187.0) rotate(-45) scale(0.86 0.81)"/>
<use href="#m" transform="translate(639.3 186.6) rotate(-45) scale(1.01 0.97)"/>
<use href="#m" transform="translate(652.3 186.5) rotate(-45) scale(1.09 1.03)"/>
<use href="#m" transform="translate(665.2 186.9) rotate(-45) scale(1.20 0.92)"/>
<use href="#m" transform="translate(678.2 186.6) rotate(-45) scale(0.86 1.35)"/>
<use href="#m" transform="translate(691.3 186.5) rotate(-45) scale(0.99 1.21)"/>
<use href="#m" transform="translate(704.3 186.7) rotate(-45) scale(0.99 1.00)"/>
<use href="#m" transform="translate(717.9 186.5) rotate(-45) scale(0.87 1.27)"/>
<use href="#m" transform="translate(730.9 186.6) rotate(-45) scale(0.95 0.97)"/>
<use href="#m" transform="translate(743.9 186.8) rotate(-45) scale(1.19 0.75)"/>
<use href="#m" transform="translate(756.8 186.8) rotate(-45) scale(1.06 0.93)"/>
<use href="#m" transform="translate(770.4 186.8) rotate(-45) scale(0.95 0.92)"/>
<use href="#m" transform="translate(783.3 186.4) rotate(-45) scale(1.22 0.85)"/>
<use href="#m" transform="translate(796.2 186.6) rotate(-45) scale(1.16 0.90)"/>
<use href="#m" transform="translate(809.6 186.4) rotate(-45) scale(1.09 1.29)"/>
<use href="#m" transform="translate(822.7 186.4) rotate(-45) scale(1.16 0.95)"/>
<use href="#m" transform="translate(573.7 199.4) rotate(-45) scale(1.30 0.92)"/>
<use href="#m" transform="translate(586.7 199.8) rotate(-45) scale(1.12 0.92)"/>
<use href="#m" transform="translate(599.6 199.9) rotate(-45) scale(1.21 1.02)"/>
<use href="#m" transform="translate(612.9 199.9) rotate(-45) scale(0.91 0.94)"/>
<use href="#m" transform="translate(626.0 199.4) rotate(-45) scale(0.91 0.83)"/>
<use href="#m" transform="translate(639.2 199.4) rotate(-45) scale(0.96 1.01)"/>
<use href="#m" transform="translate(651.9 199.5) rotate(-45) scale(1.06 1.04)"/>
<use href="#m" transform="translate(665.0 199.5) rotate(-45) scale(1.12 1.01)"/>
<use href="#m" transform="translate(678.5 199.9) rotate(-45) scale(0.82 1.39)"/>
<use href="#m" transform="translate(691.2 199.7) rotate(-45) scale(0.98 1.14)"/>
<use href="#m" transform="translate(704.8 199.7) rotate(-45) scale(0.97 1.11)"/>
<use href="#m" transform="translate(717.5 199.9) rotate(-45) scale(0.88 1.25)"/>
<use href="#m" transform="translate(731.0 199.5) rotate(-45) scale(1.02 0.97)"/>
<use href="#m" transform="translate(743.9 199.8) rotate(-45) scale(1.19 0.72)"/>
<use href="#m" transform="translate(757.2 199.4) rotate(-45) scale(1.10 0.93)"/>
<use href="#m" transform="translate(770.3 199.9) rotate(-45) scale(0.97 0.98)"/>
<use href="#m" transform="translate(783.2 199.4) rotate(-45) scale(1.20 0.82)"/>
<use href="#m" transform="translate(796.5 199.6) rotate(-45) scale(1.16 1.01)"/>
<use href="#m" transform="translate(809.3 199.5) rotate(-45) scale(1.08 1.20)"/>
<use href="#m" transform="translate(822.4 199.6) rotate(-45) scale(1.11 0.94)"/>
<use href="#m" transform="translate(573.2 212.7) rotate(-45) scale(1.27 0.82)"/>
<use href="#m" transform="translate(586.6 212.6) rotate(-45) scale(1.12 0.91)"/>
<use href="#m" transform="translate(599.5 212.4) rotate(-45) scale(1.11 1.08)"/>
<use href="#m" transform="translate(613.0 212.8) rotate(-45) scale(0.95 0.93)"/>
<use href="#m" transform="translate(625.6 212.7) rotate(-45) scale(0.87 0.84)"/>
<use href="#m" transform="translate(639.1 212.6) rotate(-45) scale(1.01 0.99)"/>
<use href="#m" transform="translate(652.0 212.9) rotate(-45) scale(1.01 1.06)"/>
<use href="#m" transform="translate(665.2 212.5) rotate(-45) scale(1.11 0.99)"/>
<use href="#m" transform="translate(678.1 212.7) rotate(-45) scale(0.91 1.32)"/>
<use href="#m" transform="translate(691.3 212.7) rotate(-45) scale(0.96 1.18)"/>
<use href="#m" transform="translate(704.8 212.4) rotate(-45) scale(0.94 1.04)"/>
<use href="#m" transform="translate(717.4 212.9) rotate(-45) scale(0.89 1.29)"/>
<use href="#m" transform="translate(730.5 212.8) rotate(-45) scale(0.99 0.96)"/>
<use href="#m" transform="translate(744.1 212.6) rotate(-45) scale(1.17 0.71)"/>
<use href="#m" transform="translate(756.9 212.3) rotate(-45) scale(1.04 0.99)"/>
<use href="#m" transform="translate(770.3 212.8) rotate(-45) scale(0.99 0.93)"/>
<use href="#m" transform="translate(783.4 212.6) rotate(-45) scale(1.29 0.86)"/>
<use href="#m" transform="translate(796.3 212.7) rotate(-45) scale(1.22 0.93)"/>
<use href="#m" transform="translate(809.8 212.3) rotate(-45) scale(1.03 1.23)"/>
<use href="#m" transform="translate(822.8 212.9) rotate(-45) scale(1.19 0.94)"/>
<use href="#m" transform="translate(573.6 225.5) rotate(-45) scale(1.23 0.91)"/>
<use href="#m" transform="translate(586.6 225.7) rotate(-45) scale(1.18 0.92)"/>
<use href="#m" transform="translate(599.6 225.8) rotate(-45) scale(1.18 1.10)"/>
<use href="#m" transform="translate(612.7 225.7) rotate(-45) scale(0.97 0.94)"/>
<use href="#m" transform="translate(625.7 225.7) rotate(-45) scale(0.81 0.91)"/>
<use href="#m" transform="translate(638.8 225.3) rotate(-45) scale(0.91 1.01)"/>
<use href="#m" transform="translate(652.0 225.4) rotate(-45) scale(1.00 1.00)"/>
<use href="#m" transform="translate(665.4 225.7) rotate(-45) scale(1.18 0.99)"/>
<use href="#m" transform="translate(678.1 225.6) rotate(-45) scale(0.84 1.40)"/>
<use href="#m" transform="translate(691.7 225.8) rotate(-45) scale(0.91 1.20)"/>
<use href="#m" transform="translate(704.8 225.9) rotate(-45) scale(0.91 1.02)"/>
<use href="#m" transform="translate(717.5 225.3) rotate(-45) scale(0.90 1.30)"/>
<use href="#m" transform="translate(730.9 225.8) rotate(-45) scale(0.98 0.93)"/>
<use href="#m" transform="translate(743.7 225.3) rotate(-45) scale(1.23 0.72)"/>
<use href="#m" transform="translate(757.0 225.5) rotate(-45) scale(1.00 0.93)"/>
<use href="#m" transform="translate(770.1 225.7) rotate(-45) scale(0.94 0.94)"/>
<use href="#m" transform="translate(783.6 225.6) rotate(-45) scale(1.30 0.87)"/>
<use href="#m" transform="translate(796.2 225.5) rotate(-45) scale(1.15 0.99)"/>
<use href="#m" transform="translate(809.5 225.7) rotate(-45) scale(1.06 1.23)"/>
<use href="#m" transform="translate(822.9 225.3) rotate(-45) scale(1.20 0.92)"/>
<use href="#m" transform="translate(573.1 238.4) rotate(-45) scale(1.29 0.92)"/>
<use href="#m" transform="translate(586.2 238.6) rotate(-45) scale(1.16 0.90)"/>
<use href="#m" transform="translate(599.5 238.6) rotate(-45) scale(1.14 1.10)"/>
<use href="#m" transform="translate(612.6 238.8) rotate(-45) scale(0.93 0.93)"/>
<use href="#m" transform="translate(626.0 238.6) rotate(-45) scale(0.81 0.88)"/>
<use href="#m" transform="translate(638.7 238.7) rotate(-45) scale(0.98 0.99)"/>
<use href="#m" transform="translate(652.2 238.5) rotate(-45) scale(1.05 1.05)"/>
<use href="#m" transform="translate(665.5 238.3) rotate(-45) scale(1.21 0.90)"/>
<use href="#m" transform="translate(678.2 238.4) rotate(-45) scale(0.91 1.36)"/>
<use href="#m" transform="translate(691.4 238.8) rotate(-45) scale(0.93 1.16)"/>
<use href="#m" transform="translate(704.6 238.7) rotate(-45) scale(0.99 1.08)"/>
<use href="#m" transform="translate(717.6 238.5) rotate(-45) scale(0.82 1.30)"/>
<use href="#m" transform="translate(730.9 238.7) rotate(-45) scale(0.92 0.95)"/>
<use href="#m" transform="translate(744.1 238.6) rotate(-45) scale(1.16 0.76)"/>
<use href="#m" transform="translate(757.3 238.4) rotate(-45) scale(1.02 0.94)"/>
<use href="#m" transform="translate(770.3 238.8) rotate(-45) scale(0.92 0.92)"/>
<use href="#m" transform="translate(783.2 238.5) rotate(-45) scale(1.26 0.82)"/>
<use href="#m" transform="translate(796.3 238.4) rotate(-45) scale(1.22 0.99)"/>
<use href="#m" transform="translate(809.3 238.8) rotate(-45) scale(1.01 1.25)"/>
<use href="#m" transform="translate(823.0 238.7) rotate(-45) scale(1.19 0.95)"/>
<use href="#m" transform="translate(573.2 251.6) rotate(-45) scale(1.21 0.82)"/>
<use href="#m" transform="translate(586.5 251.3) rotate(-45) scale(1.15 0.89)"/>
<use href="#m" transform="translate(599.8 251.5) rotate(-45) scale(1.18 1.06)"/>
<use href="#m" transform="translate(612.5 251.6) rotate(-45) scale(0.95 0.99)"/>
<use href="#m" transform="translate(626.1 251.5) rotate(-45) scale(0.87 0.89)"/>
<use href="#m" transform="translate(639.0 251.4) rotate(-45) scale(0.99 1.01)"/>
<use href="#m" transform="translate(652.3 251.7) rotate(-45) scale(1.10 1.08)"/>
<use href="#m" transform="translate(665.3 251.5) rotate(-45) scale(1.14 0.98)"/>
<use href="#m" transform="translate(678.1 251.5) rotate(-45) scale(0.89 1.39)"/>
<use href="#m" transform="translate(691.6 251.4) rotate(-45) scale(0.95 1.15)"/>
<use href="#m" transform="translate(704.7 251.5) rotate(-45) scale(0.98 1.11)"/>
<use href="#m" transform="translate(717.5 251.6) rotate(-45) scale(0.89 1.25)"/>
<use href="#m" transform="translate(730.8 251.8) rotate(-45) scale(0.90 0.97)"/>
<use href="#m" transform="translate(743.8 251.7) rotate(-45) scale(1.25 0.76)"/>
<use href="#m" transform="translate(756.8 251.6) rotate(-45) scale(1.06 0.99)"/>
<use href="#m" transform="translate(770.2 251.6) rotate(-45) scale(1.00 0.96)"/>
<use href="#m" transform="translate(783.3 251.8) rotate(-45) scale(1.23 0.88)"/>
<use href="#m" transform="translate(796.4 251.7) rotate(-45) scale(1.11 1.02)"/>
<use href="#m" transform="translate(809.5 251.3) rotate(-45) scale(1.03 1.25)"/>
<use href="#m" transform="translate(822.4 251.5) rotate(-45) scale(1.15 0.98)"/>
</g>
</g>
<rect x="567.6" y="129.4" width="260.5" height="126.7" fill="none" stroke="#1fe01f" stroke-width="1.9"/>
<g clip-path="url(#clipbot)">
<rect x="567" y="257.5" width="263" height="127.69999999999999" fill="#394244" filter="url(#nz)"/>
<g filter="url(#pb)">
<use href="#q" transform="translate(573.3 263.3) scale(1.11 0.97)"/>
<use href="#q" transform="translate(586.8 263.4) scale(1.21 0.68)"/>
<use href="#q" transform="translate(599.6 263.2) scale(0.90 1.37)"/>
<use href="#q" transform="translate(612.9 263.5) scale(0.84 0.95)"/>
<use href="#q" transform="translate(625.7 263.7) scale(0.72 0.86)"/>
<use href="#q" transform="translate(639.2 263.6) scale(0.64 1.02)"/>
<use href="#q" transform="translate(652.1 263.2) scale(0.98 1.02)"/>
<use href="#q" transform="translate(665.5 263.3) scale(1.13 1.11)"/>
<use href="#q" transform="translate(678.3 263.2) scale(0.40 1.47)"/>
<use href="#q" transform="translate(691.3 263.2) scale(0.92 1.34)"/>
<use href="#q" transform="translate(704.6 263.5) scale(0.86 1.12)"/>
<use href="#q" transform="translate(718.0 263.6) scale(0.89 0.98)"/>
<use href="#q" transform="translate(731.1 263.6) scale(1.10 0.78)"/>
<use href="#q" transform="translate(744.0 263.1) scale(0.48 1.39)"/>
<use href="#q" transform="translate(757.2 263.3) scale(0.79 0.90)"/>
<use href="#q" transform="translate(770.0 263.6) scale(0.72 0.70)"/>
<use href="#q" transform="translate(783.6 263.6) scale(0.70 0.89)"/>
<use href="#q" transform="translate(796.5 263.6) scale(1.16 0.67)"/>
<use href="#q" transform="translate(809.7 263.6) scale(1.00 1.36)"/>
<use href="#q" transform="translate(822.7 263.5) scale(0.93 0.99)"/>
<use href="#q" transform="translate(573.4 276.2) scale(1.11 0.90)"/>
<use href="#q" transform="translate(586.5 276.1) scale(1.24 0.60)"/>
<use href="#q" transform="translate(599.6 276.4) scale(0.94 1.38)"/>
<use href="#q" transform="translate(612.5 276.6) scale(0.84 0.95)"/>
<use href="#q" transform="translate(626.0 276.6) scale(0.72 0.83)"/>
<use href="#q" transform="translate(639.3 276.1) scale(0.66 1.06)"/>
<use href="#q" transform="translate(651.8 276.4) scale(0.96 1.09)"/>
<use href="#q" transform="translate(665.1 276.7) scale(1.14 1.14)"/>
<use href="#q" transform="translate(678.6 276.1) scale(0.49 1.46)"/>
<use href="#q" transform="translate(691.4 276.6) scale(0.92 1.34)"/>
<use href="#q" transform="translate(704.6 276.5) scale(0.81 1.13)"/>
<use href="#q" transform="translate(717.7 276.4) scale(0.98 0.92)"/>
<use href="#q" transform="translate(731.0 276.3) scale(1.14 0.71)"/>
<use href="#q" transform="translate(744.0 276.7) scale(0.56 1.38)"/>
<use href="#q" transform="translate(757.0 276.3) scale(0.82 0.95)"/>
<use href="#q" transform="translate(770.3 276.5) scale(0.68 0.77)"/>
<use href="#q" transform="translate(783.6 276.4) scale(0.69 0.82)"/>
<use href="#q" transform="translate(796.1 276.2) scale(1.19 0.63)"/>
<use href="#q" transform="translate(809.7 276.5) scale(1.09 1.35)"/>
<use href="#q" transform="translate(822.8 276.4) scale(0.96 0.95)"/>
<use href="#q" transform="translate(573.5 289.2) scale(1.16 0.93)"/>
<use href="#q" transform="translate(586.7 289.1) scale(1.20 0.58)"/>
<use href="#q" transform="translate(599.8 289.6) scale(0.96 1.32)"/>
<use href="#q" transform="translate(613.0 289.5) scale(0.85 0.91)"/>
<use href="#q" transform="translate(625.8 289.3) scale(0.72 0.83)"/>
<use href="#q" transform="translate(639.1 289.6) scale(0.59 1.05)"/>
<use href="#q" transform="translate(651.8 289.1) scale(0.98 1.05)"/>
<use href="#q" transform="translate(665.5 289.3) scale(1.08 1.13)"/>
<use href="#q" transform="translate(678.4 289.6) scale(0.52 1.44)"/>
<use href="#q" transform="translate(691.4 289.1) scale(0.96 1.31)"/>
<use href="#q" transform="translate(704.4 289.0) scale(0.78 1.16)"/>
<use href="#q" transform="translate(717.5 289.6) scale(0.89 0.98)"/>
<use href="#q" transform="translate(730.6 289.1) scale(1.17 0.71)"/>
<use href="#q" transform="translate(744.1 289.2) scale(0.49 1.37)"/>
<use href="#q" transform="translate(757.2 289.6) scale(0.87 0.89)"/>
<use href="#q" transform="translate(770.3 289.5) scale(0.74 0.79)"/>
<use href="#q" transform="translate(783.2 289.6) scale(0.77 0.78)"/>
<use href="#q" transform="translate(796.1 289.4) scale(1.18 0.57)"/>
<use href="#q" transform="translate(809.4 289.5) scale(1.00 1.38)"/>
<use href="#q" transform="translate(822.7 289.1) scale(0.92 0.95)"/>
<use href="#q" transform="translate(573.4 302.4) scale(1.10 0.98)"/>
<use href="#q" transform="translate(586.4 302.4) scale(1.26 0.63)"/>
<use href="#q" transform="translate(599.6 302.5) scale(0.99 1.37)"/>
<use href="#q" transform="translate(612.8 302.2) scale(0.79 1.00)"/>
<use href="#q" transform="translate(626.0 302.5) scale(0.72 0.85)"/>
<use href="#q" transform="translate(639.3 302.5) scale(0.65 1.02)"/>
<use href="#q" transform="translate(652.1 302.5) scale(0.93 1.06)"/>
<use href="#q" transform="translate(665.3 302.5) scale(1.18 1.11)"/>
<use href="#q" transform="translate(678.1 302.2) scale(0.45 1.45)"/>
<use href="#q" transform="translate(691.7 302.5) scale(0.89 1.38)"/>
<use href="#q" transform="translate(704.8 302.5) scale(0.85 1.11)"/>
<use href="#q" transform="translate(717.9 302.5) scale(0.96 0.99)"/>
<use href="#q" transform="translate(730.7 302.1) scale(1.15 0.78)"/>
<use href="#q" transform="translate(743.8 302.5) scale(0.59 1.31)"/>
<use href="#q" transform="translate(757.1 302.4) scale(0.84 0.90)"/>
<use href="#q" transform="translate(770.1 302.5) scale(0.77 0.74)"/>
<use href="#q" transform="translate(783.1 302.5) scale(0.77 0.81)"/>
<use href="#q" transform="translate(796.5 302.5) scale(1.19 0.62)"/>
<use href="#q" transform="translate(809.5 302.4) scale(1.00 1.30)"/>
<use href="#q" transform="translate(822.5 302.4) scale(0.92 0.95)"/>
<use href="#q" transform="translate(573.3 315.3) scale(1.10 0.89)"/>
<use href="#q" transform="translate(586.8 315.2) scale(1.19 0.66)"/>
<use href="#q" transform="translate(599.8 315.1) scale(0.95 1.32)"/>
<use href="#q" transform="translate(612.8 315.0) scale(0.78 1.00)"/>
<use href="#q" transform="translate(626.1 315.3) scale(0.75 0.81)"/>
<use href="#q" transform="translate(639.2 315.2) scale(0.69 1.07)"/>
<use href="#q" transform="translate(652.3 315.6) scale(0.91 0.98)"/>
<use href="#q" transform="translate(665.1 315.1) scale(1.09 1.09)"/>
<use href="#q" transform="translate(678.4 315.5) scale(0.45 1.49)"/>
<use href="#q" transform="translate(691.7 315.0) scale(0.95 1.33)"/>
<use href="#q" transform="translate(704.4 315.6) scale(0.81 1.15)"/>
<use href="#q" transform="translate(717.8 315.6) scale(0.96 0.93)"/>
<use href="#q" transform="translate(730.8 315.1) scale(1.20 0.80)"/>
<use href="#q" transform="translate(743.8 315.0) scale(0.51 1.32)"/>
<use href="#q" transform="translate(757.3 315.5) scale(0.88 0.89)"/>
<use href="#q" transform="translate(770.4 315.4) scale(0.76 0.80)"/>
<use href="#q" transform="translate(783.1 315.1) scale(0.77 0.89)"/>
<use href="#q" transform="translate(796.5 315.2) scale(1.15 0.65)"/>
<use href="#q" transform="translate(809.3 315.2) scale(1.01 1.29)"/>
<use href="#q" transform="translate(822.7 315.1) scale(0.91 0.90)"/>
<use href="#q" transform="translate(573.5 328.0) scale(1.17 0.90)"/>
<use href="#q" transform="translate(586.2 328.5) scale(1.21 0.69)"/>
<use href="#q" transform="translate(599.9 328.5) scale(0.90 1.33)"/>
<use href="#q" transform="translate(612.5 328.5) scale(0.88 0.96)"/>
<use href="#q" transform="translate(625.9 328.2) scale(0.78 0.84)"/>
<use href="#q" transform="translate(639.1 328.0) scale(0.61 0.99)"/>
<use href="#q" transform="translate(652.2 328.3) scale(0.90 1.08)"/>
<use href="#q" transform="translate(665.1 328.2) scale(1.10 1.11)"/>
<use href="#q" transform="translate(678.6 328.2) scale(0.42 1.44)"/>
<use href="#q" transform="translate(691.4 328.5) scale(0.89 1.40)"/>
<use href="#q" transform="translate(704.3 328.5) scale(0.86 1.11)"/>
<use href="#q" transform="translate(717.7 328.1) scale(0.91 0.90)"/>
<use href="#q" transform="translate(730.8 328.5) scale(1.20 0.79)"/>
<use href="#q" transform="translate(743.7 328.1) scale(0.59 1.29)"/>
<use href="#q" transform="translate(757.2 328.1) scale(0.90 0.88)"/>
<use href="#q" transform="translate(770.4 328.2) scale(0.70 0.68)"/>
<use href="#q" transform="translate(783.5 328.3) scale(0.70 0.83)"/>
<use href="#q" transform="translate(796.7 328.1) scale(1.15 0.58)"/>
<use href="#q" transform="translate(809.4 328.4) scale(1.07 1.30)"/>
<use href="#q" transform="translate(822.4 328.0) scale(0.95 0.94)"/>
<use href="#q" transform="translate(573.3 341.0) scale(1.15 0.96)"/>
<use href="#q" transform="translate(586.7 341.3) scale(1.20 0.59)"/>
<use href="#q" transform="translate(599.8 341.2) scale(0.97 1.29)"/>
<use href="#q" transform="translate(612.9 341.1) scale(0.88 0.98)"/>
<use href="#q" transform="translate(625.9 340.9) scale(0.79 0.84)"/>
<use href="#q" transform="translate(639.2 341.1) scale(0.60 1.08)"/>
<use href="#q" transform="translate(652.0 341.0) scale(0.92 1.05)"/>
<use href="#q" transform="translate(664.9 341.2) scale(1.13 1.14)"/>
<use href="#q" transform="translate(678.1 341.3) scale(0.50 1.48)"/>
<use href="#q" transform="translate(691.4 341.3) scale(0.93 1.37)"/>
<use href="#q" transform="translate(704.3 341.4) scale(0.89 1.14)"/>
<use href="#q" transform="translate(717.7 341.2) scale(0.94 0.88)"/>
<use href="#q" transform="translate(731.1 341.1) scale(1.10 0.69)"/>
<use href="#q" transform="translate(743.8 341.4) scale(0.48 1.29)"/>
<use href="#q" transform="translate(757.2 341.0) scale(0.78 0.95)"/>
<use href="#q" transform="translate(770.2 341.2) scale(0.76 0.69)"/>
<use href="#q" transform="translate(783.5 341.4) scale(0.69 0.79)"/>
<use href="#q" transform="translate(796.4 341.2) scale(1.11 0.57)"/>
<use href="#q" transform="translate(809.5 341.0) scale(1.05 1.38)"/>
<use href="#q" transform="translate(822.5 341.3) scale(0.97 0.90)"/>
<use href="#q" transform="translate(573.6 354.5) scale(1.13 0.93)"/>
<use href="#q" transform="translate(586.7 354.2) scale(1.23 0.69)"/>
<use href="#q" transform="translate(599.8 354.1) scale(0.91 1.32)"/>
<use href="#q" transform="translate(612.7 354.5) scale(0.88 0.99)"/>
<use href="#q" transform="translate(626.1 354.4) scale(0.69 0.84)"/>
<use href="#q" transform="translate(639.3 354.5) scale(0.61 1.03)"/>
<use href="#q" transform="translate(652.2 354.1) scale(0.94 0.99)"/>
<use href="#q" transform="translate(665.2 354.2) scale(1.08 1.10)"/>
<use href="#q" transform="translate(678.6 354.4) scale(0.51 1.46)"/>
<use href="#q" transform="translate(691.7 354.4) scale(0.99 1.28)"/>
<use href="#q" transform="translate(704.7 354.0) scale(0.86 1.11)"/>
<use href="#q" transform="translate(717.7 354.4) scale(0.95 0.91)"/>
<use href="#q" transform="translate(730.9 354.2) scale(1.19 0.71)"/>
<use href="#q" transform="translate(743.8 354.3) scale(0.49 1.35)"/>
<use href="#q" transform="translate(757.4 354.2) scale(0.81 0.94)"/>
<use href="#q" transform="translate(770.2 354.0) scale(0.69 0.70)"/>
<use href="#q" transform="translate(783.2 354.1) scale(0.71 0.81)"/>
<use href="#q" transform="translate(796.2 354.2) scale(1.18 0.63)"/>
<use href="#q" transform="translate(809.6 354.3) scale(1.00 1.37)"/>
<use href="#q" transform="translate(822.7 354.2) scale(0.95 0.94)"/>
<use href="#q" transform="translate(573.3 367.0) scale(1.11 0.94)"/>
<use href="#q" transform="translate(586.4 367.2) scale(1.18 0.62)"/>
<use href="#q" transform="translate(599.9 367.0) scale(0.95 1.34)"/>
<use href="#q" transform="translate(612.6 367.5) scale(0.82 0.97)"/>
<use href="#q" transform="translate(625.7 366.9) scale(0.78 0.83)"/>
<use href="#q" transform="translate(638.7 367.1) scale(0.63 1.07)"/>
<use href="#q" transform="translate(651.9 367.0) scale(1.00 1.07)"/>
<use href="#q" transform="translate(665.0 367.1) scale(1.12 1.16)"/>
<use href="#q" transform="translate(678.4 367.4) scale(0.50 1.44)"/>
<use href="#q" transform="translate(691.6 367.3) scale(0.97 1.34)"/>
<use href="#q" transform="translate(704.8 367.3) scale(0.89 1.10)"/>
<use href="#q" transform="translate(717.9 366.9) scale(0.97 0.95)"/>
<use href="#q" transform="translate(730.8 367.4) scale(1.15 0.73)"/>
<use href="#q" transform="translate(744.1 367.4) scale(0.55 1.33)"/>
<use href="#q" transform="translate(757.1 367.1) scale(0.87 0.92)"/>
<use href="#q" transform="translate(770.1 367.2) scale(0.73 0.72)"/>
<use href="#q" transform="translate(783.5 367.4) scale(0.74 0.83)"/>
<use href="#q" transform="translate(796.3 367.0) scale(1.10 0.63)"/>
<use href="#q" transform="translate(809.6 366.9) scale(1.09 1.32)"/>
<use href="#q" transform="translate(822.9 367.4) scale(1.00 0.90)"/>
<use href="#q" transform="translate(573.4 380.4) scale(1.08 0.89)"/>
<use href="#q" transform="translate(586.6 380.1) scale(1.29 0.67)"/>
<use href="#q" transform="translate(599.7 380.4) scale(0.94 1.34)"/>
<use href="#q" transform="translate(612.9 380.1) scale(0.82 0.95)"/>
<use href="#q" transform="translate(625.8 380.4) scale(0.76 0.84)"/>
<use href="#q" transform="translate(638.8 380.1) scale(0.63 1.05)"/>
<use href="#q" transform="translate(652.2 380.4) scale(1.00 1.04)"/>
<use href="#q" transform="translate(665.2 380.2) scale(1.20 1.12)"/>
<use href="#q" transform="translate(678.4 380.3) scale(0.42 1.42)"/>
<use href="#q" transform="translate(691.8 380.3) scale(0.94 1.29)"/>
<use href="#q" transform="translate(704.8 380.2) scale(0.88 1.20)"/>
<use href="#q" transform="translate(718.0 380.1) scale(0.90 0.91)"/>
<use href="#q" transform="translate(730.8 380.1) scale(1.10 0.70)"/>
<use href="#q" transform="translate(744.0 380.2) scale(0.52 1.40)"/>
<use href="#q" transform="translate(757.2 379.9) scale(0.83 0.97)"/>
<use href="#q" transform="translate(770.1 380.2) scale(0.68 0.72)"/>
<use href="#q" transform="translate(783.5 380.2) scale(0.76 0.80)"/>
<use href="#q" transform="translate(796.4 380.2) scale(1.11 0.64)"/>
<use href="#q" transform="translate(809.6 380.4) scale(1.05 1.33)"/>
<use href="#q" transform="translate(822.5 379.9) scale(0.97 0.89)"/>
</g>
</g>
<rect x="567.6" y="258.4" width="260.5" height="125.89999999999999" fill="none" stroke="#dc1626" stroke-width="1.9"/>
<rect x="573.3" y="6.9" width="10.8" height="12.7" fill="#fff"/>
<text x="578.5" y="17.2" font-size="15" text-anchor="middle" font-family="'Liberation Sans', sans-serif" font-weight="bold" fill="#000">e</text>
<rect x="778.2" y="359" width="37.1" height="14.3" fill="#fff"/>
<rect x="782.5" y="364.3" width="28.2" height="3.7" fill="#000"/>
<g fill="none" stroke="#4ec3f5" stroke-width="3"><path d="M685,63.2 A20.2,20.2 0 0 1 725.2,61.5"/><path d="M671.3,66.6 A20.2,20.2 0 0 0 711.5,68.5"/></g>
<polygon points="718.5,60 732.5,60.5 724.5,68.5" fill="#4ec3f5"/>
<polygon points="704.5,70 711.8,60.2 718.5,69.5" fill="#4ec3f5"/>
<polygon points="679.4,174.3 683.0,184.4 683.5,180.4 710.2,206.5 706.3,207.1 716.4,210.5 712.8,200.4 712.3,204.4 685.6,178.3 689.5,177.7" fill="#10f410"/>
<polygon points="679.4,210.5 689.5,207.1 685.6,206.5 712.3,180.4 712.8,184.4 716.4,174.3 706.3,177.7 710.2,178.3 683.5,204.4 683.0,200.4" fill="#10f410"/>
<polygon points="671.8,320.8 682.8,325.7 680.2,322.2 715.6,322.2 713.0,325.7 724.0,320.8 713.0,315.9 715.6,319.4 680.2,319.4 682.8,315.9" fill="#f01a26"/>
<polygon points="697.9,295.1 693.0,306.1 696.5,303.5 696.5,338.2 693.0,335.6 697.9,346.6 702.8,335.6 699.3,338.2 699.3,303.5 702.8,306.1" fill="#f01a26"/>
<rect x="0.5" y="0.5" width="99.4" height="141.0" fill="none" stroke="#2a2a2a" stroke-width="1.1"/>
<rect x="0.5" y="144.5" width="99.4" height="86.80000000000001" fill="none" stroke="#2a2a2a" stroke-width="1.1"/>
<rect x="102.5" y="0.5" width="460.5" height="230.8" fill="none" stroke="#2a2a2a" stroke-width="1.1"/>
<rect x="0.5" y="234" width="562.5" height="151.5" fill="none" stroke="#2a2a2a" stroke-width="1.1"/>
<text x="3.6" y="14.6" font-size="14" text-anchor="start" font-family="'Liberation Sans', sans-serif" font-weight="bold" fill="#000">a</text>
<text x="106.8" y="14.8" font-size="14" text-anchor="start" font-family="'Liberation Sans', sans-serif" font-weight="bold" fill="#000">b</text>
<text x="3.6" y="158.5" font-size="14" text-anchor="start" font-family="'Liberation Sans', sans-serif" font-weight="bold" fill="#000">c</text>
<text x="3.6" y="246.6" font-size="14" text-anchor="start" font-family="'Liberation Sans', sans-serif" font-weight="bold" fill="#000">d</text>
</svg></body></html>
